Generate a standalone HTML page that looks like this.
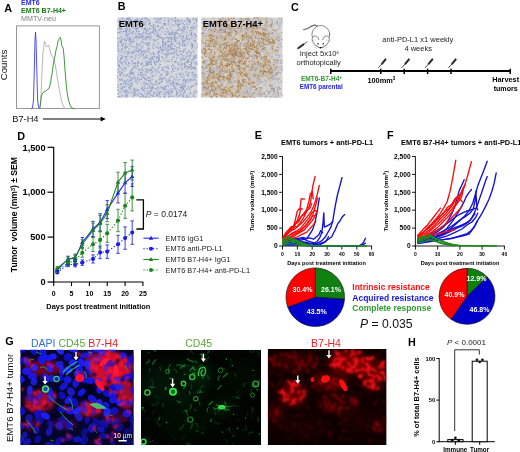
<!DOCTYPE html>
<html><head><meta charset="utf-8"><title>Figure</title>
<style>
html,body{margin:0;padding:0;background:#fff;}
svg{display:block;}
text{font-family:"Liberation Sans",Arial,sans-serif;}
.scr{mix-blend-mode:screen;}
</style></head><body>
<svg width="520" height="452" viewBox="0 0 520 452">
<defs>
<filter id="b03" x="-5%" y="-5%" width="110%" height="110%"><feGaussianBlur stdDeviation="0.3"/></filter>
<filter id="b05" x="-5%" y="-5%" width="110%" height="110%"><feGaussianBlur stdDeviation="0.5"/></filter>
<filter id="b08" x="-5%" y="-5%" width="110%" height="110%"><feGaussianBlur stdDeviation="0.8"/></filter>
<filter id="b20" x="-10%" y="-10%" width="120%" height="120%"><feGaussianBlur stdDeviation="2.2"/></filter>
<filter id="b40" x="-20%" y="-20%" width="140%" height="140%"><feGaussianBlur stdDeviation="3.6"/></filter>
<filter id="b60" x="-20%" y="-20%" width="140%" height="140%"><feGaussianBlur stdDeviation="6"/></filter>
<clipPath id="cB1"><rect x="117.2" y="17.3" width="80.5" height="80.4"/></clipPath>
<clipPath id="cB2"><rect x="201.3" y="17.3" width="81.4" height="80.4"/></clipPath>
<clipPath id="cG1"><rect x="20.3" y="349.8" width="113.5" height="95.2"/></clipPath>
<clipPath id="cG2"><rect x="141" y="350" width="120" height="95"/></clipPath>
<clipPath id="cG3"><rect x="267.7" y="349" width="118.9" height="96"/></clipPath>
<g id="syr"><path d="M0 0 L3.6 -3.8" stroke="#000" stroke-width="0.75" fill="none"/><path d="M3 -4.4 L4.1 -3.3 L8.2 -8.2 L7.1 -9.2 Z" fill="#222" stroke="#000" stroke-width="0.45" stroke-linejoin="round"/></g>
<g id="arw"><path d="M0 0 L-2.6 -3.6 L-0.7 -3.6 L-0.7 -8.3 L0.7 -8.3 L0.7 -3.6 L2.6 -3.6 Z" fill="#fff"/></g>
</defs>
<rect width="520" height="452" fill="#fff"/>

<g id="panelA">
<text x="4.3" y="12" style="font-size:10.8px;font-weight:bold;" fill="#000">A</text>
<text x="21" y="5" style="font-size:7px;font-weight:bold;" fill="#2a2af0">EMT6</text>
<text x="21" y="13.3" style="font-size:7px;font-weight:bold;" fill="#1a7a1a">EMT6 B7-H4+</text>
<text x="21" y="21.4" style="font-size:7.15px;" fill="#7c7c7c">MMTV-neu</text>
<rect x="16.5" y="25.9" width="82.9" height="82.5" fill="#fff" stroke="#8c8c8c" stroke-width="0.9"/>
<path d="M31 109 L32.5 108 L33.5 100 L34.3 70 L35 40 L35.5 32 L36 40 L36.8 70 L37.6 100 L38.6 107.5 L40 109" fill="none" stroke="#3a3af0" stroke-width="0.9"/>
<path d="M40 109 L40.8 100 L41.8 75 L43 52 L44.5 41 L45.5 44 L46.5 47 L47.5 46.5 L48.6 45 L49.6 49 L51 54 L52.5 57 L54 60 L55.5 66 L57 76 L59 88 L61 98 L62.5 104 L64.5 108 L67 109" fill="none" stroke="#b0b0b0" stroke-width="0.9"/>
<path d="M39.5 109 L40.5 104 L41.3 96 L43 92.5 L45 91.5 L47 90 L49 88.5 L50.5 83 L52 74 L53.5 63 L55 56 L56 50 L57 46.5 L58 41 L59.3 38.5 L60.2 37.3 L61 40 L61.6 45 L62.5 46.5 L63.3 49 L64.2 58 L65 70 L66 82 L67 92 L68.5 100 L70 105 L72 108 L74.5 109" fill="none" stroke="#2e8b2e" stroke-width="0.9"/>
<text x="7.3" y="65" style="font-size:9.7px;" fill="#111" text-anchor="middle" transform="rotate(-90 7.3 65)">Counts</text>
<text x="12.2" y="122.3" style="font-size:9.3px;" fill="#111">B7-H4</text>
<path d="M43 119 H102" stroke="#000" stroke-width="1.2"/><path d="M105.8 119 L100.6 116.5 L100.6 121.5 Z" fill="#000"/>
</g>
<g id="panelB">
<text x="117.8" y="9.6" style="font-size:10.8px;font-weight:bold;" fill="#000">B</text>
<g clip-path="url(#cB1)"><rect x="117.2" y="17.3" width="80.5" height="80.4" fill="#d7d9dd"/><g filter="url(#b05)">
<path d="M143.3 29.4h.01M169.6 23.1h.01M160.3 46.7h.01M121.9 58.1h.01M120.2 52.2h.01M122.8 24.6h.01M151.4 83.8h.01M127.2 35.2h.01M167.7 93.5h.01M163.7 49.2h.01M195.8 21.0h.01M186.3 40.6h.01M128.8 26.8h.01M142.0 82.9h.01M131.7 64.1h.01M168.6 47.2h.01M161.3 22.3h.01M122.0 33.9h.01M172.0 51.7h.01M142.5 64.4h.01M153.7 41.4h.01M181.1 73.5h.01M136.8 63.5h.01M159.5 87.7h.01M175.9 40.5h.01M196.1 26.8h.01M150.9 78.2h.01M129.4 56.6h.01M120.4 71.0h.01M178.7 63.4h.01M187.7 42.5h.01M173.2 65.1h.01M163.9 54.0h.01M184.8 93.3h.01M155.4 70.7h.01M122.1 73.7h.01M169.3 97.1h.01M183.4 40.2h.01M148.3 71.1h.01M119.0 54.4h.01M130.7 26.7h.01M121.9 79.1h.01M127.6 37.2h.01M148.7 87.4h.01M123.7 53.4h.01M161.4 88.3h.01M183.2 86.8h.01M139.6 50.7h.01M146.1 88.4h.01M194.3 29.4h.01M131.4 35.9h.01M136.0 56.3h.01M164.6 38.4h.01M117.5 51.0h.01M146.9 62.8h.01M193.9 72.8h.01M158.7 67.0h.01M171.6 21.6h.01M189.6 80.0h.01M187.6 81.4h.01M148.8 49.4h.01M125.5 68.3h.01M122.2 22.7h.01M134.0 30.3h.01M144.6 21.5h.01M117.2 29.5h.01M125.4 46.5h.01M119.3 87.6h.01M166.6 29.2h.01M137.5 45.2h.01M146.5 27.2h.01M185.5 97.1h.01M154.7 56.2h.01M124.1 25.5h.01M144.8 38.6h.01M183.9 30.3h.01M119.1 93.8h.01M159.7 29.1h.01M160.9 19.5h.01M159.7 96.0h.01M186.7 73.3h.01M138.2 46.8h.01M130.6 79.4h.01M160.1 79.9h.01M143.7 35.2h.01M182.5 96.5h.01M185.8 82.1h.01M183.1 76.8h.01M135.5 58.9h.01M145.8 19.6h.01M119.4 39.8h.01M138.1 73.0h.01M194.2 53.3h.01M192.6 96.7h.01M194.1 46.6h.01M134.9 35.5h.01M133.0 33.7h.01M167.4 89.7h.01M184.9 55.8h.01M169.8 81.6h.01M124.0 70.4h.01M190.4 80.2h.01M177.6 55.7h.01M131.6 80.7h.01M144.0 81.7h.01M195.4 49.1h.01M149.5 93.4h.01M175.5 31.0h.01M127.4 29.5h.01M190.0 82.1h.01M129.0 83.8h.01M196.1 70.1h.01M145.4 61.4h.01M127.7 18.4h.01M195.4 69.5h.01M159.6 92.4h.01M152.1 87.4h.01M183.7 34.3h.01M137.5 40.9h.01M136.6 64.4h.01M138.1 51.0h.01M127.8 90.5h.01M145.7 54.1h.01M164.2 90.0h.01M151.1 91.1h.01M157.6 60.1h.01M159.3 18.8h.01M152.6 32.0h.01M117.5 81.6h.01M131.1 55.4h.01M175.6 62.0h.01M143.4 59.0h.01M161.9 80.4h.01M125.7 62.3h.01M137.2 39.6h.01M179.4 58.1h.01M162.4 78.4h.01M190.7 52.9h.01M166.5 57.9h.01M158.4 73.0h.01M153.6 60.2h.01M155.7 93.0h.01M173.5 87.8h.01M193.0 38.2h.01M162.2 93.1h.01M184.8 28.3h.01M127.0 52.8h.01M123.0 36.6h.01M123.1 71.1h.01M180.3 89.4h.01M129.6 74.9h.01M170.4 28.8h.01M188.3 95.1h.01M134.9 93.9h.01M149.3 56.5h.01M196.9 84.2h.01M130.2 52.0h.01M158.7 44.6h.01M133.0 42.9h.01M175.3 18.9h.01M161.8 52.7h.01M118.7 44.0h.01M167.4 58.5h.01M122.4 96.5h.01M180.7 95.4h.01M125.6 38.7h.01M120.4 79.9h.01M139.0 27.7h.01M151.2 90.6h.01M183.1 38.1h.01M129.2 91.2h.01M163.1 73.6h.01M124.4 21.9h.01M172.6 51.5h.01M123.0 92.7h.01M168.3 81.8h.01M123.9 86.1h.01M122.6 86.7h.01M153.7 44.6h.01M161.7 91.8h.01M138.8 27.7h.01M159.6 36.5h.01M126.0 30.3h.01M121.3 33.5h.01M142.3 41.8h.01M178.3 40.6h.01M157.5 31.6h.01M145.1 18.8h.01M137.4 18.5h.01M176.2 61.6h.01M132.5 55.5h.01M192.4 25.8h.01M183.1 52.0h.01M157.0 84.4h.01M148.8 58.0h.01M172.6 96.3h.01M144.8 84.2h.01M174.1 68.4h.01M149.8 45.2h.01M121.6 27.7h.01M122.9 76.9h.01M137.8 30.4h.01M124.0 84.9h.01M187.3 71.2h.01M139.9 36.8h.01M140.8 54.2h.01M129.9 53.1h.01M138.4 94.6h.01M195.5 61.3h.01M136.9 94.9h.01M142.1 46.0h.01M117.3 48.0h.01M155.4 57.7h.01M133.4 57.9h.01M117.6 38.5h.01M124.4 49.4h.01M120.6 19.1h.01M141.7 36.0h.01M164.3 59.8h.01M177.6 70.2h.01M174.8 88.0h.01M148.6 43.5h.01M196.5 29.3h.01M175.5 69.0h.01M120.7 84.5h.01M189.0 67.7h.01M176.3 82.6h.01M128.4 59.4h.01M157.8 84.4h.01M182.0 83.7h.01M164.2 89.1h.01M172.2 73.0h.01M135.7 19.8h.01M127.9 46.3h.01M125.6 84.5h.01M162.2 67.8h.01M167.6 72.0h.01M156.6 17.6h.01M181.4 77.5h.01M157.7 60.3h.01M170.3 22.6h.01M176.5 37.6h.01M123.2 38.7h.01M175.9 33.8h.01M176.8 95.7h.01M157.0 48.1h.01M155.8 72.3h.01M178.9 66.9h.01M168.9 23.5h.01M129.1 37.7h.01M177.0 41.8h.01M162.9 18.3h.01M122.1 38.9h.01M171.3 73.0h.01M171.6 40.7h.01M158.8 54.7h.01M154.7 26.8h.01M189.1 33.3h.01M195.9 92.6h.01M118.6 54.2h.01M183.2 95.1h.01M153.4 38.9h.01M134.1 93.3h.01M134.2 64.1h.01M128.6 59.4h.01M193.9 28.0h.01M183.2 58.2h.01M188.6 73.8h.01M135.8 89.5h.01M156.3 19.3h.01M117.5 56.8h.01M153.5 41.6h.01M128.5 45.0h.01M142.6 84.9h.01M117.3 77.7h.01M184.7 27.0h.01M191.8 74.6h.01M189.8 40.6h.01M147.2 48.9h.01M197.6 64.7h.01M146.2 51.7h.01M139.3 21.2h.01M125.4 84.4h.01M140.2 92.5h.01M137.3 38.7h.01M158.3 32.6h.01M147.3 94.2h.01M188.4 82.6h.01M168.0 90.7h.01M192.9 61.5h.01M175.1 21.3h.01M176.2 53.5h.01M177.8 69.1h.01M140.2 21.2h.01M191.8 27.5h.01M155.2 44.9h.01M141.2 76.7h.01M195.8 38.2h.01M170.0 41.5h.01M162.1 49.0h.01" stroke="#c5cbdd" stroke-width="2.8" stroke-linecap="round" fill="none" opacity="0.7"/>
<path d="M130.7 30.3h.01M133.9 90.1h.01M157.2 35.0h.01M190.2 97.4h.01M153.4 28.5h.01M132.7 24.6h.01M144.7 24.6h.01M136.4 38.1h.01M163.1 88.6h.01M177.5 50.5h.01M150.5 59.4h.01M147.5 44.5h.01M122.2 39.6h.01M195.1 27.4h.01M157.7 67.9h.01M186.7 34.7h.01M139.0 37.3h.01M149.4 53.1h.01M194.0 85.5h.01M187.5 19.1h.01M119.8 74.3h.01M189.3 55.4h.01M164.5 17.3h.01M148.7 91.8h.01M183.7 86.1h.01M195.5 37.3h.01M126.0 29.7h.01M159.3 72.1h.01M193.0 75.3h.01M169.3 78.8h.01M154.0 61.6h.01M120.4 80.2h.01M135.9 91.3h.01M169.2 41.7h.01M127.5 37.5h.01M168.4 73.5h.01M126.2 23.0h.01M159.4 64.2h.01M148.4 35.3h.01M165.6 18.1h.01M141.5 54.3h.01M194.4 69.1h.01M188.3 55.5h.01M136.1 37.2h.01M194.5 74.0h.01M141.9 19.1h.01M157.3 71.5h.01M151.0 38.0h.01M170.9 91.7h.01M135.5 20.0h.01M144.4 51.1h.01M172.1 33.2h.01M181.4 76.7h.01M157.8 33.8h.01M195.3 42.4h.01M183.2 35.9h.01M135.0 78.4h.01M140.9 93.8h.01M157.1 32.4h.01M135.2 50.8h.01M170.8 93.6h.01M129.0 48.9h.01M134.3 95.6h.01M128.6 21.5h.01M122.0 48.9h.01M189.5 88.3h.01M176.2 97.5h.01M192.2 43.8h.01M132.1 92.5h.01M177.3 19.9h.01M170.7 47.7h.01M147.3 44.0h.01M130.8 17.5h.01M139.7 45.6h.01M194.1 27.2h.01M194.8 34.0h.01M145.9 83.4h.01M183.4 52.1h.01M121.2 55.4h.01M147.2 91.2h.01M132.7 46.6h.01M189.4 19.7h.01M150.3 82.6h.01M178.9 20.6h.01M120.0 22.3h.01M191.3 38.0h.01M177.4 89.5h.01M144.5 39.2h.01M194.3 66.9h.01M138.3 74.9h.01M142.7 39.5h.01M117.5 78.1h.01M191.0 68.3h.01M193.1 19.3h.01M136.0 55.5h.01M194.2 94.0h.01M148.3 37.5h.01M151.8 57.0h.01M191.9 32.0h.01M181.8 76.7h.01M183.4 79.4h.01M166.1 43.7h.01M142.9 46.4h.01M180.2 23.7h.01M133.1 77.8h.01M137.1 22.5h.01M119.9 61.7h.01M143.4 96.1h.01M188.3 96.7h.01M138.5 24.1h.01M125.0 57.4h.01M174.3 53.2h.01M136.1 50.8h.01M167.1 71.5h.01M177.4 85.4h.01M170.7 27.0h.01M184.9 40.9h.01M162.8 47.3h.01M176.6 33.3h.01M137.1 37.0h.01M129.5 88.4h.01M163.8 43.5h.01M149.1 97.1h.01M158.0 35.9h.01M182.3 69.8h.01M197.0 25.5h.01M155.4 83.2h.01M184.9 90.8h.01M120.4 40.9h.01M126.8 32.5h.01M195.5 64.2h.01M192.1 47.2h.01M186.9 53.4h.01M138.1 79.8h.01M193.3 25.8h.01M165.2 67.1h.01M134.7 46.9h.01M128.6 33.7h.01M137.7 65.5h.01M169.7 33.7h.01M118.1 43.6h.01M171.8 32.2h.01M142.3 33.7h.01M181.2 61.4h.01M122.3 25.5h.01M149.0 61.5h.01M168.7 24.6h.01M130.4 73.2h.01M150.2 40.1h.01M142.0 93.9h.01M142.3 62.8h.01M146.0 50.8h.01M186.8 97.4h.01M146.5 33.2h.01M175.8 33.7h.01M117.7 89.8h.01M151.3 83.3h.01M149.9 88.3h.01M154.3 30.4h.01M118.4 61.6h.01M168.8 90.4h.01M124.4 67.3h.01M147.1 57.9h.01M128.9 40.1h.01M159.2 91.7h.01M126.0 56.7h.01M182.0 95.0h.01M133.1 27.5h.01M193.1 95.7h.01M156.1 21.6h.01M191.8 48.5h.01M190.0 67.2h.01M183.6 30.2h.01M180.5 35.2h.01M149.8 85.3h.01M183.9 32.0h.01M134.8 49.4h.01M158.9 48.1h.01M127.1 37.2h.01M175.6 89.4h.01M120.5 62.5h.01M178.2 20.4h.01M184.7 26.8h.01M165.5 61.5h.01M167.7 41.9h.01M151.0 64.1h.01M151.5 70.3h.01M153.2 52.5h.01M119.1 67.1h.01M156.6 36.2h.01M178.7 80.0h.01M154.1 31.7h.01M155.3 25.9h.01M127.5 51.9h.01M124.6 52.8h.01M158.3 20.6h.01M168.4 23.9h.01M176.2 79.8h.01M158.4 21.7h.01M157.8 47.7h.01M193.7 28.2h.01M186.2 97.4h.01M176.1 82.8h.01M132.8 96.2h.01M156.8 94.2h.01M190.9 30.6h.01M180.7 92.1h.01M122.5 45.5h.01M178.1 30.1h.01M189.4 39.4h.01M182.9 28.8h.01M157.6 91.3h.01M134.0 38.4h.01M157.9 43.0h.01M120.2 31.9h.01M130.2 92.6h.01M171.9 89.3h.01M130.8 80.4h.01M126.5 60.0h.01M168.4 46.2h.01M187.5 61.9h.01M163.9 88.3h.01M125.6 97.1h.01M167.9 49.0h.01M181.4 38.6h.01M196.9 63.7h.01M146.2 78.8h.01M152.8 31.5h.01M177.1 21.2h.01M183.2 37.7h.01M168.7 96.4h.01M164.4 70.7h.01M142.4 17.4h.01M119.9 29.3h.01M166.8 52.1h.01M158.5 89.3h.01M127.8 35.6h.01M169.8 19.1h.01M117.4 45.8h.01M125.8 46.0h.01M135.3 64.2h.01M164.6 33.7h.01M167.4 55.5h.01M128.0 92.6h.01M136.8 29.3h.01M124.9 68.6h.01M187.3 80.2h.01M149.6 38.5h.01M118.1 69.2h.01M162.5 45.5h.01M169.2 53.0h.01M192.6 76.3h.01M137.2 89.9h.01M120.7 60.0h.01M149.9 36.4h.01M121.9 79.9h.01M118.2 61.6h.01M192.9 28.7h.01M133.3 66.2h.01M158.0 68.9h.01M182.7 31.3h.01M142.1 41.4h.01M121.1 88.8h.01M180.2 74.8h.01M117.7 85.2h.01M177.2 54.7h.01M176.9 53.7h.01M135.4 25.8h.01M135.9 20.4h.01M144.2 77.6h.01M173.2 85.3h.01M174.5 38.7h.01M161.8 52.4h.01M180.7 59.4h.01M138.6 68.9h.01M194.9 34.7h.01M188.0 18.5h.01M138.2 36.3h.01M177.1 93.3h.01M177.3 43.6h.01M188.1 43.7h.01M136.5 90.3h.01M168.0 73.0h.01M170.8 96.0h.01M155.0 84.8h.01M173.4 86.2h.01M152.4 75.6h.01M163.1 42.0h.01M134.3 67.4h.01M123.5 90.5h.01M128.8 19.5h.01M125.8 92.0h.01M145.0 28.7h.01M119.5 20.6h.01M173.0 68.3h.01M173.3 76.5h.01M122.5 64.8h.01M146.5 83.0h.01M183.2 89.0h.01M122.5 87.1h.01M190.8 93.2h.01M125.8 33.8h.01M126.2 20.1h.01M185.4 82.6h.01M168.3 83.6h.01M168.0 40.4h.01M125.2 25.2h.01M178.2 33.8h.01M142.9 51.4h.01M118.9 37.9h.01M139.9 74.8h.01M146.8 43.1h.01M194.8 57.8h.01M185.7 67.0h.01M119.7 50.5h.01M152.3 79.5h.01M145.1 74.0h.01M160.5 34.7h.01M186.6 24.6h.01M183.2 31.0h.01M117.3 33.5h.01M178.6 95.9h.01M117.6 56.8h.01M156.8 81.4h.01M132.1 57.1h.01M145.1 84.2h.01M138.2 93.2h.01M140.0 34.6h.01M173.5 57.4h.01M126.0 68.5h.01M123.7 80.6h.01M173.3 80.6h.01M167.7 45.9h.01M149.5 49.0h.01M188.9 24.2h.01M188.7 19.3h.01M133.8 38.5h.01M189.7 57.6h.01M147.7 88.4h.01M136.0 54.4h.01M160.0 78.0h.01M177.8 69.3h.01M145.3 43.6h.01M129.7 85.1h.01M170.5 77.0h.01M130.8 52.6h.01M179.5 63.9h.01M127.3 54.4h.01M188.5 36.4h.01M132.6 41.5h.01M173.8 85.1h.01M129.6 29.8h.01M137.1 43.6h.01M159.2 30.2h.01M143.6 32.5h.01M195.7 75.9h.01M125.4 94.7h.01M125.4 48.2h.01M196.4 81.2h.01M176.2 52.3h.01M133.0 68.6h.01M125.8 33.9h.01M148.5 20.0h.01M149.3 80.9h.01M173.0 57.5h.01M168.1 54.5h.01M128.6 65.8h.01M149.8 76.9h.01M190.3 51.9h.01M163.4 77.5h.01M151.1 35.7h.01M175.3 88.1h.01M179.5 73.6h.01M185.8 71.9h.01M168.8 53.8h.01M142.4 67.8h.01M125.1 51.0h.01M180.2 74.6h.01M167.9 37.4h.01M151.3 53.9h.01M167.2 50.2h.01M171.6 92.1h.01M131.9 69.9h.01M179.8 48.6h.01M156.6 95.7h.01M120.3 61.0h.01M130.1 80.2h.01M192.9 59.0h.01M125.3 63.5h.01M160.8 75.0h.01M158.4 68.7h.01M183.9 59.2h.01M150.2 93.5h.01M134.1 72.3h.01M148.8 78.6h.01M127.1 96.5h.01M145.8 21.9h.01M139.3 49.4h.01M118.3 51.0h.01M151.1 73.4h.01M145.5 38.6h.01M135.3 76.9h.01M192.9 59.7h.01M134.8 81.7h.01M148.8 34.3h.01M127.6 79.7h.01M182.4 68.3h.01M155.0 62.5h.01M135.4 94.8h.01M145.6 68.7h.01M183.1 82.9h.01M154.9 41.0h.01M161.3 27.4h.01M184.3 45.8h.01M185.7 38.8h.01M147.5 37.7h.01M151.5 32.2h.01M117.4 75.3h.01M139.8 37.0h.01M141.5 55.9h.01M151.7 68.5h.01M170.3 46.4h.01M192.0 86.0h.01M121.8 83.9h.01M190.1 80.3h.01M128.5 84.1h.01M168.2 18.5h.01M118.1 93.8h.01M170.0 37.4h.01M125.4 28.8h.01M136.0 79.7h.01M145.1 29.6h.01M190.0 81.0h.01M130.7 88.9h.01M166.2 80.1h.01M171.0 89.2h.01M180.6 84.7h.01M133.1 73.0h.01M159.9 76.9h.01M152.5 88.3h.01M161.9 38.6h.01M136.1 28.5h.01M156.9 22.0h.01M154.8 28.9h.01M156.8 57.4h.01M160.6 86.7h.01M117.7 84.9h.01M154.9 62.5h.01M170.8 84.9h.01M147.4 51.0h.01" stroke="#adb7d4" stroke-width="2.0" stroke-linecap="round" fill="none" opacity="0.9"/>
<path d="M194.5 23.4h.01M168.5 68.4h.01M119.5 66.3h.01M172.1 92.2h.01M143.8 96.2h.01M158.3 56.3h.01M189.5 20.0h.01M175.0 67.6h.01M144.5 86.6h.01M146.7 55.5h.01M159.5 79.3h.01M134.2 52.3h.01M151.2 61.8h.01M183.8 40.8h.01M183.8 49.8h.01M157.8 39.1h.01M158.0 95.7h.01M169.9 81.0h.01M143.8 42.8h.01M141.3 64.5h.01M168.3 80.4h.01M120.4 75.4h.01M188.5 61.2h.01M121.2 41.5h.01M117.7 32.6h.01M191.4 66.2h.01M170.2 80.7h.01M190.4 66.5h.01M166.8 67.7h.01M173.3 65.2h.01M172.0 34.4h.01M170.9 54.1h.01M178.6 25.4h.01M131.8 20.3h.01M179.6 90.8h.01M170.0 47.0h.01M183.4 80.5h.01M162.4 38.0h.01M141.5 51.2h.01M142.8 51.9h.01M168.9 92.4h.01M121.6 62.9h.01M120.4 26.9h.01M182.4 63.6h.01M191.1 53.2h.01M118.3 48.4h.01M164.9 92.7h.01M196.2 55.5h.01M150.4 25.5h.01M169.1 34.4h.01M129.4 18.5h.01M117.6 72.3h.01M127.0 95.0h.01M124.3 87.2h.01M127.6 18.7h.01M175.1 36.8h.01M176.3 32.4h.01M121.2 79.5h.01M174.6 86.1h.01M175.9 24.1h.01M167.8 74.3h.01M154.3 92.3h.01M137.7 94.8h.01M174.9 18.2h.01M118.4 69.6h.01M183.0 23.7h.01M142.2 75.9h.01M130.6 86.5h.01M156.3 22.1h.01M146.8 63.5h.01M152.5 71.7h.01M128.9 81.4h.01M146.4 69.1h.01M167.9 50.9h.01M148.3 80.5h.01M193.3 80.4h.01M162.8 40.8h.01M122.1 95.6h.01M173.8 83.8h.01M143.9 66.0h.01M195.9 84.1h.01M165.6 42.1h.01M151.7 88.7h.01M147.5 72.4h.01M165.6 89.3h.01M182.2 40.1h.01M117.3 38.4h.01M151.2 64.5h.01M182.9 88.6h.01M120.6 84.3h.01M182.5 87.0h.01M163.2 39.3h.01M185.7 82.2h.01M172.3 90.8h.01M145.1 24.1h.01M161.8 81.4h.01M133.3 77.6h.01M192.2 36.1h.01M166.1 71.8h.01M154.7 33.9h.01M137.7 77.7h.01M180.9 54.3h.01M124.3 82.1h.01M179.4 36.0h.01M163.9 89.4h.01M188.5 59.3h.01M155.6 64.7h.01M132.4 32.8h.01M131.7 73.7h.01M146.4 62.7h.01M149.6 58.9h.01M129.2 20.9h.01M197.5 47.4h.01M125.7 68.2h.01M180.6 29.9h.01M165.3 45.0h.01M159.0 19.0h.01M119.9 96.9h.01M186.9 56.4h.01M162.9 38.3h.01M179.9 51.5h.01M193.4 79.0h.01M183.1 94.8h.01M137.6 20.3h.01M133.4 31.8h.01M123.9 21.4h.01M162.1 87.3h.01M154.1 93.5h.01M190.4 22.5h.01M165.3 49.3h.01M126.9 94.4h.01M137.9 62.7h.01M168.8 94.2h.01M171.1 48.9h.01M153.3 30.1h.01M194.9 97.0h.01M135.0 20.4h.01M137.8 45.6h.01M189.9 90.0h.01M184.6 21.1h.01M180.5 74.4h.01M169.3 96.5h.01M121.7 28.9h.01M178.0 92.8h.01M171.7 41.3h.01M164.8 78.2h.01M125.7 43.3h.01M137.9 27.3h.01M155.9 30.9h.01M136.4 28.8h.01M171.8 18.3h.01M174.9 33.0h.01M120.1 91.9h.01M135.0 92.4h.01M187.0 88.8h.01M128.5 53.3h.01M125.0 92.0h.01M185.0 67.8h.01M153.6 44.6h.01M183.5 55.7h.01M167.8 28.8h.01M135.0 21.9h.01M174.7 61.8h.01M128.8 87.3h.01M138.6 50.4h.01M129.7 39.1h.01M184.8 44.2h.01M130.7 56.8h.01M142.8 89.9h.01M126.4 96.0h.01M121.8 89.3h.01M171.0 34.3h.01M155.6 40.3h.01M138.0 33.5h.01M146.5 97.0h.01M197.5 91.7h.01M125.1 40.6h.01M189.3 21.9h.01M175.7 40.9h.01M196.0 18.6h.01M182.2 44.7h.01M128.5 17.5h.01M184.2 59.6h.01M132.2 52.3h.01M190.6 34.8h.01M163.2 28.4h.01M131.7 79.2h.01M174.5 33.1h.01M123.6 24.3h.01M166.2 57.1h.01M139.2 33.9h.01M166.5 74.2h.01M182.5 64.2h.01M133.5 22.6h.01M176.2 50.1h.01M175.3 21.8h.01M182.5 44.3h.01M185.0 86.8h.01M156.9 18.5h.01M190.5 55.6h.01M187.4 38.7h.01M132.2 84.2h.01M146.8 30.4h.01M147.1 65.1h.01M117.6 59.1h.01M153.1 58.8h.01M126.9 74.8h.01M182.9 86.9h.01M143.0 74.5h.01M147.9 77.7h.01M122.1 87.5h.01M194.0 57.1h.01M158.5 60.0h.01M160.5 19.0h.01M195.1 35.3h.01M131.9 25.6h.01M137.4 83.0h.01M119.6 25.1h.01M173.5 33.0h.01M118.6 65.5h.01M163.6 59.3h.01M173.8 25.6h.01M187.2 75.0h.01M120.8 27.2h.01M156.9 57.6h.01M139.7 27.1h.01M149.9 28.3h.01M164.8 86.5h.01M129.1 63.4h.01M177.3 30.5h.01M183.7 92.7h.01M148.5 51.1h.01M184.8 59.6h.01M149.0 93.0h.01M179.7 44.5h.01M136.6 44.2h.01M152.3 96.2h.01M182.0 90.7h.01M182.8 85.4h.01M121.5 58.9h.01M194.3 92.4h.01M137.3 51.2h.01M168.1 46.6h.01M159.9 22.9h.01M152.1 57.9h.01M118.9 28.5h.01M195.3 79.7h.01M192.6 68.2h.01M182.3 88.4h.01M188.4 20.1h.01M168.8 38.7h.01M171.8 39.3h.01M160.9 91.6h.01M167.2 37.4h.01M159.1 52.2h.01M193.7 40.4h.01M141.8 69.4h.01M126.9 65.1h.01M194.2 58.6h.01M138.8 54.8h.01M160.2 29.2h.01M127.2 27.9h.01M140.8 50.0h.01M140.4 36.9h.01M124.3 61.2h.01M184.8 66.3h.01M163.1 69.6h.01M133.4 74.4h.01M154.3 61.4h.01M166.5 55.0h.01M142.2 36.8h.01M135.0 58.5h.01M148.0 64.4h.01M118.2 45.7h.01M186.6 36.5h.01M162.0 56.8h.01M140.1 96.7h.01M141.0 79.4h.01M130.0 22.7h.01M187.3 52.7h.01M122.2 48.5h.01M152.6 76.4h.01M126.0 35.4h.01M194.4 76.7h.01M129.6 44.4h.01M145.6 71.6h.01M166.8 85.6h.01M183.3 58.9h.01M176.7 77.1h.01M178.4 55.5h.01M180.4 74.3h.01M190.8 27.5h.01M187.3 17.6h.01M178.8 64.4h.01M157.3 94.7h.01M163.2 50.9h.01M180.3 87.5h.01M166.1 47.8h.01M153.6 54.1h.01M175.4 40.9h.01M148.7 62.0h.01M148.2 43.2h.01M180.6 85.6h.01M157.4 53.0h.01M132.0 41.7h.01M128.9 63.6h.01M164.0 24.4h.01M191.3 43.3h.01M185.1 84.7h.01M194.4 33.7h.01M151.5 90.5h.01M118.1 21.1h.01M162.7 57.3h.01M191.3 79.5h.01M160.5 97.6h.01M158.9 58.9h.01M172.4 48.6h.01M146.0 65.1h.01M145.5 93.5h.01M171.7 59.5h.01M125.2 47.4h.01M149.5 62.4h.01M163.4 88.0h.01M194.8 56.4h.01M152.6 67.5h.01M197.4 44.9h.01M159.9 82.9h.01M130.9 42.9h.01M196.0 83.7h.01M158.5 26.2h.01M189.2 72.8h.01M183.3 96.9h.01M188.7 51.1h.01M129.8 40.6h.01M158.4 57.9h.01M132.3 32.0h.01M167.9 65.8h.01M145.6 97.2h.01M168.4 20.7h.01M150.3 80.6h.01M141.9 72.8h.01M117.5 41.8h.01M185.0 64.4h.01M171.0 33.1h.01M157.3 61.8h.01M138.6 69.3h.01M160.0 97.5h.01M163.4 50.4h.01M127.0 29.9h.01M178.3 25.9h.01M125.3 31.0h.01M159.3 83.5h.01M166.5 82.2h.01M122.2 18.3h.01M179.2 43.3h.01M174.8 45.7h.01M130.8 38.7h.01M125.2 90.0h.01M164.1 45.4h.01M153.4 48.3h.01M121.6 88.9h.01M164.1 94.5h.01M152.6 67.2h.01M137.3 20.8h.01M192.1 86.0h.01M142.5 89.6h.01M182.9 41.7h.01M165.7 94.5h.01M157.1 93.7h.01M136.8 48.6h.01M175.0 35.1h.01M142.1 87.7h.01M156.2 81.0h.01M136.8 31.2h.01M146.1 32.3h.01M195.4 40.7h.01M162.4 26.5h.01M160.2 48.3h.01M149.7 22.6h.01M127.1 83.7h.01M145.5 37.0h.01M132.6 40.1h.01M136.3 20.1h.01M170.7 44.8h.01M129.7 74.1h.01M124.7 39.0h.01M184.4 27.6h.01M152.9 84.5h.01M182.0 30.1h.01M145.6 75.4h.01M147.5 94.4h.01M133.9 93.8h.01M157.8 35.6h.01M153.6 27.8h.01M174.1 38.3h.01M189.6 64.5h.01M146.8 37.1h.01M166.2 34.4h.01M187.4 27.2h.01M158.5 60.9h.01M139.0 79.3h.01M148.2 70.2h.01M162.9 42.3h.01M148.6 24.2h.01M131.5 85.7h.01M143.0 70.6h.01M126.0 62.5h.01M146.3 57.5h.01M141.1 22.6h.01M142.3 35.5h.01M127.4 74.9h.01M139.9 49.7h.01M190.4 79.6h.01M188.3 86.5h.01M127.8 39.5h.01M119.6 71.9h.01M170.6 45.6h.01M150.4 70.3h.01M173.5 37.3h.01M185.4 45.6h.01M167.8 31.9h.01M126.5 90.7h.01M176.3 74.6h.01M120.5 20.5h.01M130.2 33.2h.01M141.6 47.9h.01M120.4 42.3h.01M168.6 31.7h.01M184.8 63.1h.01M174.9 37.8h.01M152.2 72.3h.01M145.3 17.4h.01M184.4 79.7h.01M140.2 20.8h.01M186.0 66.1h.01M121.0 37.0h.01M126.2 80.9h.01M134.1 90.8h.01M177.5 24.2h.01M173.1 48.9h.01M177.4 83.9h.01M139.8 24.5h.01M193.4 51.4h.01M192.1 72.9h.01M176.7 84.0h.01M167.8 53.7h.01M121.6 73.4h.01M151.7 58.5h.01M191.9 27.6h.01M178.5 20.8h.01" stroke="#9ba7cb" stroke-width="1.7" stroke-linecap="round" fill="none" opacity="0.95"/>
<path d="M173.8 82.1h.01M138.2 61.2h.01M195.2 68.6h.01M161.0 37.4h.01M122.0 46.1h.01M150.3 33.5h.01M142.2 28.3h.01M174.1 71.2h.01M136.3 36.7h.01M158.7 53.1h.01M192.5 45.6h.01M141.3 88.4h.01M128.6 62.6h.01M144.1 82.9h.01M161.3 78.4h.01M130.8 70.9h.01M165.4 54.4h.01M178.9 84.1h.01M126.4 40.6h.01M146.2 33.9h.01M122.1 39.9h.01M133.1 73.7h.01M153.3 26.4h.01M143.3 55.0h.01M146.4 30.8h.01M123.0 18.2h.01M197.1 77.6h.01M124.0 75.0h.01M196.1 62.6h.01M126.0 56.6h.01M152.2 32.6h.01M160.9 18.0h.01M191.2 69.1h.01M167.7 92.5h.01M169.7 37.5h.01M137.0 28.4h.01M119.4 79.6h.01M184.8 41.1h.01M132.2 68.6h.01M185.3 91.8h.01M130.8 80.4h.01M184.0 77.0h.01M143.5 32.1h.01M183.6 43.0h.01M146.9 61.6h.01M146.9 84.1h.01M136.5 20.6h.01M162.8 67.8h.01M183.2 74.0h.01M190.1 93.3h.01M157.0 57.5h.01M129.9 41.4h.01M164.0 23.8h.01M172.6 30.5h.01M152.9 95.3h.01M124.4 20.5h.01M152.6 32.6h.01M175.4 17.5h.01M184.9 86.1h.01M180.5 51.5h.01M140.0 70.5h.01M158.6 51.2h.01M144.5 52.6h.01M170.8 83.7h.01M190.0 30.5h.01M141.0 52.9h.01M162.6 45.3h.01M132.9 24.1h.01M143.3 54.3h.01M195.4 90.4h.01M186.9 95.6h.01M194.6 67.1h.01M182.5 22.1h.01M171.7 66.3h.01M141.1 63.2h.01M193.9 56.0h.01M169.3 41.4h.01M144.8 88.5h.01M119.4 32.5h.01M171.8 53.3h.01M124.1 70.4h.01M147.1 64.0h.01M150.7 59.9h.01M162.7 49.2h.01M126.4 31.8h.01M188.8 61.4h.01M126.2 86.6h.01M137.6 24.9h.01M159.9 37.5h.01M156.6 61.8h.01M135.4 63.3h.01M126.3 58.6h.01M164.6 23.8h.01M150.0 23.2h.01M152.6 86.7h.01M161.5 74.8h.01M178.1 26.5h.01M196.9 75.3h.01M125.4 84.0h.01M148.8 31.1h.01M194.5 62.6h.01M179.6 28.3h.01M179.7 21.9h.01M136.3 47.2h.01M118.4 65.1h.01M134.4 41.4h.01M174.1 51.5h.01M188.7 67.2h.01M187.4 62.6h.01M191.1 87.3h.01M130.7 77.2h.01M144.7 78.7h.01M172.0 83.7h.01M127.1 47.3h.01M176.5 93.5h.01M175.3 20.8h.01M165.8 25.3h.01M161.4 81.9h.01M126.3 91.7h.01M171.6 37.8h.01M132.7 53.2h.01M184.7 64.0h.01M126.3 19.0h.01M126.1 81.7h.01M132.1 61.9h.01M140.5 72.5h.01M147.9 28.9h.01M187.7 60.6h.01M172.7 82.3h.01M193.6 18.4h.01M144.8 29.4h.01M157.6 87.5h.01M181.6 20.2h.01M131.9 83.1h.01M171.9 48.9h.01M155.5 30.0h.01M185.2 48.9h.01M187.5 66.4h.01M123.3 43.8h.01M134.6 89.2h.01M164.6 20.8h.01M130.9 46.3h.01M154.9 63.7h.01M148.4 45.7h.01M117.7 63.9h.01M144.1 18.9h.01M154.2 96.6h.01M120.9 29.0h.01M171.2 39.2h.01M139.2 57.5h.01M138.3 63.0h.01M159.7 94.2h.01M197.1 20.0h.01M162.3 79.3h.01M187.4 79.6h.01M168.2 68.3h.01M146.4 39.9h.01M181.2 87.5h.01M192.8 72.1h.01M141.7 78.7h.01M176.7 58.2h.01M168.3 45.5h.01M161.5 49.9h.01M122.1 44.4h.01M143.2 96.8h.01M156.0 46.8h.01M136.8 36.2h.01M145.3 28.2h.01M117.8 87.3h.01M153.7 53.1h.01M163.0 41.6h.01M130.8 22.6h.01M141.5 42.1h.01M175.7 61.6h.01M192.7 44.7h.01M191.4 64.2h.01M123.6 31.7h.01M163.9 96.7h.01M145.9 79.6h.01M151.7 87.1h.01M122.7 56.3h.01M189.6 39.5h.01M137.9 19.2h.01M130.4 38.9h.01M173.9 34.9h.01M149.4 33.4h.01M165.7 86.8h.01M169.4 33.1h.01M176.3 94.7h.01M165.6 23.7h.01M182.4 87.7h.01M144.7 28.3h.01M132.3 60.5h.01M187.7 68.7h.01M191.5 34.4h.01M143.5 77.5h.01M169.4 49.9h.01M171.9 44.5h.01M121.8 50.6h.01M120.9 67.7h.01M144.1 57.0h.01M165.3 38.0h.01M154.5 18.4h.01M191.7 62.7h.01M196.7 21.8h.01M166.6 75.5h.01M143.7 24.8h.01M129.8 28.8h.01M179.0 24.5h.01M182.7 51.3h.01M160.6 64.6h.01M161.9 70.2h.01M165.6 43.9h.01M176.9 38.0h.01M174.5 78.7h.01M179.7 42.2h.01M179.4 95.9h.01M153.7 39.7h.01M159.3 93.0h.01M127.8 18.0h.01M155.5 70.0h.01M179.5 46.4h.01M196.9 35.6h.01M178.1 24.5h.01M119.5 28.1h.01M122.0 57.6h.01M161.9 31.9h.01M192.8 46.7h.01M129.2 31.6h.01M176.6 91.4h.01M130.2 19.6h.01M179.8 36.8h.01M196.3 57.4h.01M168.4 45.0h.01M181.6 54.3h.01M143.3 89.9h.01M125.9 76.3h.01M122.5 69.2h.01M149.5 86.8h.01M122.0 62.7h.01M150.2 91.2h.01M193.3 67.7h.01M135.2 37.6h.01M138.3 52.2h.01M135.8 33.6h.01M178.3 69.0h.01M141.2 97.2h.01M134.6 63.1h.01M129.8 86.7h.01M187.2 38.8h.01M177.7 83.5h.01M139.9 44.0h.01M156.3 88.9h.01M130.2 72.2h.01M165.3 53.7h.01M163.8 88.3h.01M134.1 88.3h.01M146.2 80.0h.01M186.7 32.0h.01M186.7 97.3h.01M141.2 19.3h.01M126.2 95.6h.01M118.0 90.6h.01M129.3 76.5h.01M125.1 30.9h.01M172.2 24.6h.01M144.5 91.1h.01M174.9 88.2h.01M196.1 19.9h.01M136.1 81.0h.01M172.7 20.3h.01M157.8 35.9h.01M151.9 25.7h.01M118.8 97.0h.01M142.7 87.9h.01M126.9 56.5h.01M128.1 51.7h.01M131.6 72.4h.01M129.1 76.7h.01M157.5 26.3h.01M145.7 57.2h.01M191.2 45.4h.01M134.5 95.1h.01M188.3 76.1h.01M139.2 31.5h.01M138.5 22.8h.01M120.7 58.2h.01M150.1 62.1h.01M146.4 18.2h.01M172.6 69.8h.01M161.0 61.4h.01M172.8 96.3h.01M187.6 75.0h.01M149.3 42.9h.01M150.9 95.5h.01M148.4 48.3h.01M150.2 28.8h.01M197.6 17.7h.01M166.1 91.8h.01M137.7 66.4h.01M147.5 36.7h.01M133.2 26.6h.01M185.1 80.3h.01M190.3 21.3h.01M173.1 43.4h.01M169.2 61.4h.01M142.6 95.4h.01M117.3 77.3h.01M185.9 58.3h.01M164.9 97.3h.01M136.1 67.9h.01M177.0 47.8h.01M174.5 48.9h.01M159.6 66.6h.01M171.7 43.2h.01M167.8 61.0h.01M135.2 66.5h.01M138.5 90.4h.01M155.3 75.3h.01M159.2 55.6h.01M135.0 28.7h.01M191.8 59.8h.01M159.4 59.7h.01M182.7 36.5h.01M131.1 83.4h.01M154.3 68.8h.01M183.8 89.2h.01M187.1 20.8h.01M147.9 84.2h.01M183.0 27.2h.01" stroke="#8b99c4" stroke-width="1.4" stroke-linecap="round" fill="none" opacity="1"/>
<path d="M129.6 37.5h.01M125.5 46.0h.01M181.9 59.2h.01M153.7 24.4h.01M149.0 97.5h.01M173.1 53.4h.01M155.7 81.5h.01M178.3 29.4h.01M172.0 46.8h.01M159.1 36.4h.01M147.0 44.6h.01M147.9 18.7h.01M133.4 63.2h.01M121.8 31.6h.01M175.0 39.4h.01M143.3 36.7h.01M184.3 24.6h.01M168.4 86.4h.01M133.4 51.3h.01M181.0 67.0h.01M147.1 20.8h.01M152.8 46.8h.01M174.6 41.0h.01M150.0 69.4h.01M182.5 45.6h.01M148.2 63.8h.01M191.6 32.7h.01M195.4 74.5h.01M147.2 70.8h.01M143.7 23.0h.01M178.1 47.8h.01M159.5 57.2h.01M189.8 78.2h.01M119.3 65.0h.01M154.4 54.5h.01M184.8 50.7h.01M155.3 88.9h.01M152.6 56.8h.01M158.4 83.6h.01M171.2 76.8h.01M149.5 20.6h.01M171.9 61.8h.01M179.1 79.2h.01M126.7 35.0h.01M123.4 83.0h.01M125.4 24.4h.01M177.8 62.7h.01M121.6 72.1h.01M174.4 56.1h.01M121.6 72.9h.01M150.8 64.2h.01M197.5 83.0h.01M187.4 29.0h.01M144.1 59.0h.01M117.7 96.8h.01M139.3 38.4h.01M142.4 37.8h.01M186.3 62.0h.01M158.3 51.1h.01M121.3 41.8h.01M187.0 81.8h.01M186.2 38.0h.01M133.5 21.5h.01M160.4 47.4h.01M154.6 56.6h.01M164.2 46.7h.01M181.7 33.4h.01M191.2 62.0h.01M121.3 42.6h.01M160.1 50.2h.01M162.7 43.3h.01M139.2 81.3h.01M140.7 74.4h.01M181.8 64.9h.01M153.8 92.5h.01M153.0 87.9h.01M121.8 52.2h.01M168.7 21.2h.01M186.6 23.1h.01M165.2 31.8h.01M191.5 62.4h.01M181.7 57.4h.01M171.4 71.6h.01M140.9 34.3h.01M184.7 29.0h.01M191.1 33.9h.01M125.3 25.0h.01M180.3 93.8h.01M150.6 70.3h.01M137.9 90.1h.01" stroke="#7c8bbc" stroke-width="1.1" stroke-linecap="round" fill="none" opacity="1"/>
</g></g>
<text x="118.8" y="26.8" style="font-size:9.4px;font-weight:bold;" fill="#000">EMT6</text>
<g clip-path="url(#cB2)"><rect x="201.3" y="17.3" width="81.4" height="80.4" fill="#d6d4d0"/>
<g filter="url(#b08)">
<path d="M257.1 29.7h.01M225.2 36.0h.01M227.2 62.4h.01M233.2 19.9h.01M253.5 35.3h.01M208.9 54.6h.01M236.3 71.9h.01M225.0 45.3h.01M241.7 92.1h.01M245.3 24.4h.01M219.8 91.6h.01M250.0 95.1h.01M278.2 70.1h.01M228.4 53.4h.01M225.6 22.9h.01M249.8 54.4h.01M212.0 63.8h.01M231.8 70.6h.01M215.1 93.0h.01M210.8 57.2h.01M210.9 54.9h.01M244.9 58.0h.01M217.4 49.8h.01M242.1 88.9h.01M247.7 72.7h.01M262.4 29.7h.01M203.8 48.9h.01M225.1 88.9h.01M248.4 36.1h.01M265.1 74.4h.01M238.9 91.3h.01M256.6 29.5h.01M212.7 33.2h.01M265.7 55.9h.01M253.1 33.3h.01M270.1 80.5h.01M259.7 45.4h.01M266.6 64.8h.01M225.6 94.6h.01M220.2 33.2h.01M220.6 56.9h.01M257.1 74.4h.01M228.9 65.1h.01M235.4 65.9h.01M228.6 34.5h.01M270.0 67.1h.01M237.3 70.4h.01M211.1 72.2h.01M268.3 32.1h.01M279.3 46.4h.01M233.4 57.5h.01M242.5 96.8h.01M238.3 82.4h.01M230.0 25.4h.01M271.5 58.6h.01M207.5 67.5h.01M252.7 47.5h.01M230.9 95.8h.01M260.6 77.6h.01M248.2 21.1h.01M262.1 68.9h.01M263.4 40.7h.01M266.8 71.7h.01M223.9 30.3h.01M214.5 76.7h.01M226.7 21.6h.01M217.4 43.1h.01M210.1 38.2h.01M232.7 94.8h.01M217.9 90.4h.01M239.6 62.2h.01M262.6 39.4h.01M276.0 59.9h.01M252.6 38.2h.01M204.7 83.8h.01M230.1 92.9h.01M262.7 71.8h.01M267.1 26.2h.01M257.6 79.6h.01M233.3 82.1h.01M216.4 87.4h.01M212.2 44.5h.01M234.9 57.7h.01M255.7 63.8h.01M248.0 39.3h.01M265.5 84.7h.01M256.0 77.9h.01M251.1 39.4h.01M250.4 83.6h.01M218.6 35.3h.01M230.6 73.5h.01M269.6 43.4h.01M252.5 28.5h.01M206.1 53.1h.01M229.0 43.9h.01M219.0 81.1h.01M203.8 79.9h.01M242.4 51.4h.01M252.6 75.6h.01M233.9 58.5h.01M212.2 53.8h.01M259.0 53.9h.01M216.8 49.7h.01M217.1 76.5h.01M237.0 33.2h.01M217.3 38.7h.01M259.9 22.3h.01M252.6 38.5h.01M226.2 20.9h.01M238.3 25.5h.01M213.8 79.8h.01M240.1 83.4h.01M210.2 62.6h.01M218.3 37.6h.01M248.9 47.8h.01M204.8 88.8h.01M207.1 43.3h.01M232.4 25.7h.01M211.6 33.4h.01M249.0 68.5h.01M205.7 55.1h.01M256.1 74.7h.01M254.2 72.9h.01M212.8 90.4h.01M219.9 48.8h.01M266.6 20.4h.01M220.9 92.1h.01M276.1 38.4h.01M202.8 78.2h.01M246.5 83.3h.01M251.8 65.1h.01M225.0 49.2h.01M267.4 54.1h.01M254.2 34.0h.01M210.3 95.8h.01M270.5 85.5h.01M231.2 41.6h.01M263.9 17.9h.01M210.6 73.0h.01M243.6 53.9h.01M269.4 74.9h.01M256.7 85.6h.01M237.3 74.1h.01M225.8 45.3h.01M223.6 37.4h.01M226.8 67.7h.01M245.0 94.9h.01M244.5 69.6h.01M257.4 95.1h.01M262.6 37.3h.01M203.6 72.9h.01M222.4 94.8h.01M249.4 70.1h.01M257.9 41.7h.01M263.9 31.6h.01M226.0 50.2h.01M237.5 75.9h.01M203.8 83.9h.01M223.9 18.1h.01M249.1 70.5h.01M232.5 69.7h.01M219.5 22.5h.01M230.9 75.4h.01M265.4 37.5h.01M243.9 26.3h.01M266.1 40.2h.01M263.6 35.3h.01M219.1 48.2h.01M253.5 55.2h.01M220.4 19.7h.01M210.7 54.3h.01M215.4 35.9h.01M244.0 36.6h.01M271.7 34.4h.01M222.9 91.6h.01M260.8 23.3h.01M227.2 33.8h.01M240.5 31.8h.01M254.5 58.7h.01M239.6 76.8h.01M220.4 57.4h.01M231.2 89.9h.01M208.0 34.7h.01M237.0 28.6h.01M234.0 71.9h.01M282.0 67.2h.01M227.5 50.0h.01M255.7 19.1h.01M214.5 83.9h.01M250.8 38.0h.01M247.0 74.5h.01M248.6 88.6h.01M220.4 30.8h.01M238.1 50.2h.01M223.2 93.0h.01M205.5 90.8h.01M202.7 40.6h.01M254.5 58.5h.01M221.1 70.2h.01M247.7 31.9h.01M222.1 36.3h.01M243.9 71.8h.01M261.6 67.5h.01M256.0 81.6h.01M240.0 71.8h.01M265.3 36.0h.01M261.2 46.2h.01M263.7 27.6h.01M218.8 38.7h.01M212.4 50.0h.01M248.3 45.9h.01M236.9 31.4h.01M202.7 71.6h.01M263.7 41.5h.01M272.5 64.6h.01M223.5 22.9h.01M215.4 73.2h.01M220.0 38.6h.01M281.7 18.9h.01M228.6 59.3h.01M235.3 55.8h.01M205.8 24.0h.01M222.7 81.0h.01M229.1 56.8h.01M276.9 62.4h.01M213.8 73.0h.01M265.7 35.9h.01M255.3 62.7h.01M217.0 64.1h.01M252.9 36.7h.01M235.8 60.2h.01M203.8 75.5h.01M225.0 68.7h.01M251.3 89.8h.01M226.6 70.6h.01M266.0 42.2h.01M238.9 33.2h.01M242.6 59.2h.01M259.6 59.9h.01M240.7 37.6h.01M219.4 42.9h.01M251.7 25.7h.01M253.1 39.7h.01M239.2 67.1h.01M206.9 77.7h.01M236.9 24.2h.01M209.0 94.8h.01M224.7 79.0h.01M210.0 23.0h.01M244.6 84.3h.01M215.4 78.8h.01M228.8 27.2h.01M224.8 54.7h.01M261.0 27.7h.01M228.9 37.2h.01M239.5 96.9h.01M270.9 43.1h.01M261.9 44.8h.01M227.9 85.5h.01M223.0 46.7h.01M230.0 47.7h.01M219.8 90.4h.01M232.3 84.8h.01M245.2 44.3h.01M205.2 87.3h.01M238.4 44.6h.01M229.0 37.3h.01M219.8 23.0h.01M261.6 33.3h.01M226.5 68.1h.01M226.7 87.6h.01M243.5 56.2h.01M273.0 70.8h.01M230.8 46.5h.01M204.1 64.8h.01M259.7 51.8h.01M230.3 35.2h.01M259.1 92.1h.01M225.9 43.8h.01M216.5 61.3h.01M216.2 90.5h.01M276.5 34.0h.01M246.9 28.9h.01M266.7 51.4h.01M222.4 39.5h.01M243.1 55.0h.01M262.2 36.4h.01M243.4 31.4h.01M237.3 24.2h.01M266.2 71.8h.01M228.7 78.9h.01M217.5 30.3h.01M251.6 41.7h.01M219.1 24.1h.01M227.0 57.9h.01M240.3 52.7h.01M240.9 93.3h.01M217.4 64.9h.01M235.9 45.6h.01M260.6 45.8h.01M225.6 61.9h.01M261.1 93.6h.01M249.3 71.8h.01M266.5 19.5h.01M240.3 57.2h.01M228.4 48.4h.01M265.3 38.3h.01M232.9 46.5h.01M245.2 39.5h.01M203.1 32.8h.01M266.9 29.1h.01M246.1 91.4h.01M276.6 52.2h.01M249.9 95.8h.01M205.9 27.3h.01M259.0 68.0h.01M214.5 31.8h.01M256.0 95.3h.01M215.9 29.5h.01M256.7 20.0h.01M265.7 63.6h.01M273.0 65.6h.01M275.8 62.4h.01M215.5 48.1h.01M235.0 71.1h.01M227.1 47.6h.01M227.2 78.2h.01M213.4 78.5h.01M209.7 39.5h.01M222.2 76.0h.01M209.2 57.0h.01M218.8 69.9h.01M213.1 71.9h.01M212.0 68.5h.01M221.6 82.8h.01M239.5 75.1h.01M229.2 92.3h.01M212.4 82.8h.01M216.4 57.5h.01M214.6 92.1h.01M219.3 90.2h.01M244.7 86.0h.01M256.8 77.2h.01M246.4 49.9h.01M212.5 55.1h.01M223.1 46.9h.01M263.3 64.7h.01M226.8 19.6h.01M211.4 40.2h.01M230.6 65.9h.01M218.0 58.1h.01M259.4 17.4h.01M236.0 95.2h.01M247.6 18.0h.01M202.4 33.6h.01M223.1 88.1h.01M227.6 95.0h.01M223.3 29.2h.01M214.4 75.7h.01M230.5 89.7h.01M212.8 30.0h.01M249.2 81.7h.01M242.2 63.5h.01M234.9 61.0h.01M206.0 51.3h.01M221.0 24.7h.01M232.8 44.3h.01M238.1 57.7h.01M250.5 31.8h.01M208.0 44.0h.01M254.1 51.4h.01M243.0 92.6h.01M213.9 41.8h.01M214.8 21.0h.01M270.3 69.4h.01M252.2 22.0h.01M259.6 58.4h.01M255.8 52.1h.01M208.7 89.9h.01M219.4 49.3h.01M228.6 38.7h.01M219.4 49.5h.01M236.4 29.8h.01M209.4 57.7h.01M217.1 71.2h.01M267.6 55.4h.01M210.5 43.2h.01M248.8 75.4h.01M257.9 46.8h.01M223.8 95.9h.01M271.7 68.5h.01M272.3 74.9h.01M232.3 71.3h.01M247.4 33.1h.01M240.6 44.4h.01M242.9 64.6h.01M223.9 57.7h.01M235.4 70.7h.01M244.6 39.5h.01M221.6 91.7h.01M231.8 40.6h.01M260.8 34.4h.01M230.4 41.9h.01M262.7 76.3h.01M220.3 80.4h.01M256.3 68.4h.01M223.5 22.2h.01M203.9 94.6h.01M220.0 44.4h.01M231.4 39.0h.01M271.9 52.6h.01M226.9 95.6h.01M273.8 51.6h.01M264.2 47.4h.01M249.8 37.8h.01M233.1 47.8h.01M231.6 78.5h.01M256.6 67.5h.01M248.1 43.2h.01M227.8 69.1h.01M242.8 27.1h.01M226.6 50.8h.01M220.9 86.2h.01M249.1 47.6h.01M205.7 47.9h.01M245.9 48.4h.01M237.2 97.1h.01M238.9 34.4h.01M236.5 58.1h.01M215.1 58.4h.01M231.6 86.5h.01M272.7 46.1h.01M251.3 62.6h.01M208.2 94.1h.01M210.6 70.1h.01M228.0 43.7h.01M228.9 50.9h.01M230.7 49.6h.01M255.2 70.7h.01M234.3 36.0h.01M238.5 84.2h.01M261.0 19.6h.01M241.8 55.3h.01M215.4 69.2h.01M222.4 69.1h.01M251.2 31.1h.01M226.9 61.6h.01M240.6 66.9h.01M226.4 71.9h.01M251.5 80.0h.01M219.4 52.9h.01M247.4 77.9h.01M215.7 83.9h.01M202.6 88.9h.01M268.9 72.7h.01M228.9 19.4h.01M211.1 30.1h.01M267.3 76.2h.01M208.7 91.7h.01M251.1 86.6h.01M258.2 54.6h.01M224.2 77.2h.01M221.5 73.2h.01M231.3 58.3h.01M203.5 77.9h.01M272.6 46.0h.01M229.6 76.2h.01M234.4 59.5h.01M230.1 82.6h.01M223.8 68.4h.01M232.0 63.8h.01M222.0 84.1h.01M250.3 67.6h.01M216.7 25.4h.01M242.8 29.3h.01M271.8 48.5h.01M216.2 63.7h.01M240.0 60.5h.01M242.3 84.6h.01M277.0 33.3h.01M263.8 63.1h.01M219.0 80.1h.01M260.5 35.7h.01M254.1 47.2h.01M213.8 61.6h.01M205.4 37.3h.01M221.9 24.2h.01M221.7 41.4h.01M210.6 35.3h.01M204.3 78.2h.01M207.2 93.5h.01M237.2 52.4h.01M268.9 55.6h.01M234.4 89.0h.01M255.1 62.3h.01M248.1 37.0h.01M271.7 23.7h.01M273.0 96.0h.01M239.6 27.8h.01M259.3 75.9h.01M253.6 70.1h.01M203.1 52.8h.01M249.9 44.4h.01M226.2 61.2h.01M210.7 76.1h.01M231.3 31.7h.01M242.1 50.7h.01M232.5 52.3h.01M224.0 26.1h.01M237.8 87.6h.01M237.2 78.6h.01M213.7 59.0h.01M247.0 50.8h.01M237.5 90.9h.01M249.0 74.4h.01M259.6 18.9h.01M211.6 55.4h.01M213.6 35.2h.01M208.7 32.9h.01M212.4 83.3h.01M205.1 77.0h.01M271.6 25.4h.01M257.8 64.5h.01M223.9 57.2h.01M236.9 39.9h.01M225.6 39.4h.01M208.3 81.7h.01M219.9 26.5h.01M242.3 75.1h.01M234.9 89.1h.01M254.0 82.4h.01M207.8 86.7h.01M222.4 66.8h.01M239.0 74.7h.01M255.1 25.7h.01M254.2 72.6h.01M216.9 94.5h.01M235.9 47.4h.01M261.6 69.6h.01M247.7 58.7h.01M220.9 77.0h.01M223.1 80.6h.01M226.7 46.9h.01M215.2 29.8h.01M218.6 44.4h.01M213.9 75.0h.01M225.9 38.8h.01M202.3 52.3h.01M202.3 86.6h.01M201.3 94.5h.01M221.9 19.3h.01M259.1 64.1h.01M211.4 85.5h.01M246.1 82.7h.01M245.2 38.7h.01M216.9 74.2h.01M264.7 67.8h.01M227.8 91.9h.01M238.9 78.4h.01" stroke="#c2a177" stroke-width="3.4" stroke-linecap="round" fill="none" opacity="0.5"/>
</g><g filter="url(#b05)">
<path d="M237.6 81.1l1.4 2.6M215.5 23.4l1.7 0.2M234.8 94.0l1.4 -2.0M249.0 36.4l-1.5 0.1M253.9 57.9l-2.3 -1.9M217.8 44.3l0.6 0.4M248.5 18.3l-0.2 2.1M206.6 60.9l-1.6 0.1M209.6 76.1l-0.7 -0.5M248.3 47.8l0.1 -2.1M228.3 61.0l-2.6 -1.1M247.4 97.1l-1.9 0.5M240.2 68.3l-0.8 -2.8M206.2 80.8l-1.5 -2.0M220.7 47.9l-0.5 -1.8M250.6 43.5l2.4 -0.7M232.7 45.1l0.9 1.7M264.3 92.5l-0.2 1.8M233.6 61.3l1.3 0.5M258.3 64.0l0.6 -1.7M213.0 83.3l0.6 2.8M267.3 35.7l1.7 -1.9M209.2 78.9l-1.7 -1.9M223.7 37.5l1.8 2.0M263.7 41.9l-0.5 2.4M239.3 82.9l1.1 0.9M272.9 30.3l0.0 -0.8M255.7 24.0l-1.4 -2.3M234.6 53.4l-0.6 1.0M244.6 73.5l-1.0 0.9M224.3 76.7l-0.6 1.1M271.6 68.6l-2.0 1.9M271.5 37.9l1.4 1.1M263.9 29.9l1.8 -0.1M231.9 27.2l-0.2 -2.8M255.0 42.0l-0.4 1.6M212.6 91.4l1.1 -1.1M218.7 77.8l-0.9 0.6M266.4 76.1l1.1 -0.2M231.8 50.6l2.2 -1.8M252.8 46.7l1.7 0.8M235.0 45.5l1.3 2.5M249.4 60.9l-0.0 1.4M241.5 53.2l-1.0 -0.4M205.7 30.1l0.6 -2.7M220.5 80.0l-1.8 -0.4M268.0 41.6l-2.0 -0.7M219.6 20.8l2.3 0.5M252.2 39.7l0.1 1.0M216.1 82.9l-0.3 -1.4M233.3 62.5l2.2 -0.4M244.6 68.7l-0.6 1.0M225.8 36.0l-0.7 2.2M229.8 78.5l1.2 -2.7M232.1 96.6l0.5 -0.5M245.7 48.5l-0.4 1.0M219.1 55.2l-0.1 2.2M263.5 68.5l-0.2 -2.2M218.1 60.3l-0.1 -1.1M226.6 44.9l-1.4 1.9M210.8 77.7l1.0 0.7M243.2 39.0l1.2 -0.5M262.3 73.2l-0.1 2.9M227.4 33.3l0.5 -0.4M269.3 42.1l1.0 -0.7M218.6 26.7l0.8 0.7M221.7 63.8l-0.6 1.8M240.0 43.8l1.5 -1.4M204.0 73.6l-2.5 -0.6M229.8 57.4l0.7 2.0M235.9 96.3l-0.2 -0.7M223.6 26.8l-1.0 -0.2M271.4 27.5l0.2 -1.7M209.4 94.4l0.5 -2.3M227.1 72.3l0.0 -0.7M239.7 82.6l-0.6 -0.2M278.4 94.2l-0.7 -2.2M237.0 65.1l-0.1 0.7M276.5 39.1l2.0 2.3M261.5 34.2l1.8 -1.3M248.8 27.8l0.6 -0.2M241.4 56.8l-2.5 -0.2M212.0 87.7l-0.1 1.2M238.7 69.4l1.4 -1.2M243.0 96.8l1.4 0.1M226.8 27.3l2.7 0.6M260.6 33.9l-2.0 -1.4M266.8 95.9l0.2 0.8M264.8 58.8l1.9 -1.0M254.7 64.6l0.1 -2.0M211.8 51.5l-1.8 0.8M230.7 48.7l-2.0 2.1M233.5 53.4l-0.8 0.9M224.6 54.7l2.6 1.0M269.4 36.7l-0.8 -2.4M239.5 48.5l0.8 -2.6M206.9 82.3l-2.7 0.5M277.2 66.9l-1.4 -0.9M221.6 92.0l0.8 0.8M229.2 63.4l-2.4 0.9M216.1 75.2l2.7 -1.0M228.0 66.0l-1.8 1.1M253.2 44.8l1.4 1.4M215.2 41.9l1.5 -1.1M222.0 64.4l0.2 -1.0M222.6 52.6l0.5 0.9M212.0 34.5l-1.9 1.5M234.2 55.5l0.4 -2.7M235.9 91.4l1.8 -0.3M256.8 48.0l1.8 2.0M230.6 73.5l-1.1 -0.2M215.7 44.3l-0.6 -0.2M259.2 52.1l-0.1 1.1M268.3 61.5l0.0 1.3M224.1 45.1l0.5 -2.2M273.3 69.9l1.0 0.3M222.3 59.8l-1.4 -0.8M222.1 85.5l-0.8 -1.2M273.7 41.2l0.8 2.4M224.3 39.2l0.7 -0.1M251.1 45.4l-2.6 1.1M221.5 30.5l-1.0 -1.5M215.9 87.6l0.5 1.0M243.1 55.6l-0.4 -2.7M202.8 42.9l-2.0 -1.5M265.9 50.1l-0.7 -1.1M212.2 30.5l1.1 1.1M246.2 61.7l0.3 -0.8M265.4 63.3l-0.0 0.8M272.5 43.2l-0.8 -0.2M273.0 42.8l0.2 -2.3M231.5 44.9l0.8 -1.5M267.4 44.6l-2.4 -0.2M246.5 46.4l1.9 -1.7M226.1 24.1l0.7 -0.2M267.2 59.8l-1.5 -0.4M277.1 21.5l0.2 2.5M213.7 60.0l1.0 1.6M265.0 72.0l-0.2 -1.8M257.0 53.5l0.6 -1.8M213.4 44.4l0.7 -1.3M282.2 69.4l0.6 0.5M247.7 43.2l-0.7 0.3M237.5 42.1l-1.7 2.4M219.4 19.2l1.8 0.6M225.8 71.5l-1.1 -0.8M239.6 54.6l1.7 0.4M241.1 31.4l-0.2 -3.0M229.7 65.4l0.8 -1.2M215.6 94.9l0.3 -0.7M222.8 62.4l-2.5 -1.3M248.7 36.3l-0.5 -0.7M229.7 28.8l2.5 -0.0M276.7 60.1l-2.9 -0.3M234.6 62.2l0.8 2.5M203.3 60.5l1.7 2.2M237.1 32.2l-1.4 -0.9M271.4 88.2l2.4 0.1M250.1 46.6l-1.1 0.5M249.2 96.1l2.0 1.0M210.1 35.2l1.4 -0.1M227.0 55.5l-1.9 1.3M227.7 81.3l1.7 1.3M238.2 91.1l-0.1 -2.2M231.4 27.6l0.1 -1.7M239.8 72.4l-0.9 0.5M239.0 61.5l1.9 -0.1M228.0 35.2l-0.1 -1.2M271.8 33.6l0.8 -0.1M226.2 55.6l-1.9 -2.1M255.8 17.4l1.6 0.4M217.8 86.1l1.4 -0.4M251.8 60.9l0.1 -0.6M242.0 20.2l-2.0 -1.6M210.2 80.0l-1.6 -0.2M256.1 68.0l-0.3 2.8M244.6 18.9l-0.4 0.6M201.6 50.9l-0.4 -2.5M265.6 81.0l0.8 0.1M220.4 86.2l-0.3 0.5M208.0 77.6l-0.6 1.3M211.7 97.5l-0.6 -1.8M263.7 44.4l-0.1 -2.3M261.3 63.4l-0.7 -0.3M209.2 42.3l2.2 0.7M260.8 66.8l-0.5 -2.5M251.7 35.6l-1.0 0.8M213.4 86.8l0.9 -0.4M222.8 58.3l-0.6 1.8M253.2 64.3l-0.4 0.4M201.8 38.1l0.2 0.6M222.5 36.9l-1.3 0.7M261.4 56.9l0.3 2.7M247.0 26.7l-1.6 -1.5M252.5 67.2l0.6 0.3M207.5 79.2l-0.6 0.9M232.4 92.6l-2.0 -1.0M220.3 48.0l0.3 -1.0M212.4 39.6l-1.2 -1.4M270.8 77.8l-1.0 -0.2M221.0 29.1l-1.6 2.2M254.7 24.4l-1.6 -1.0M220.9 64.7l-1.5 2.4M233.5 51.3l1.6 -2.5M263.2 34.7l-1.1 0.4M241.1 51.6l-0.5 -2.9M237.7 46.0l-1.8 0.4M226.4 25.8l0.9 0.4M237.4 45.3l-1.5 -0.3M227.3 77.0l0.2 -0.6M212.1 33.9l-1.2 0.9M268.7 44.2l1.8 -0.5M231.7 69.0l1.3 -0.7M223.7 89.2l-0.2 1.8M266.1 23.3l0.5 -2.3M230.4 82.8l1.4 -1.1M222.3 29.4l0.9 0.3M213.6 55.9l1.0 0.8M214.7 36.6l-2.0 -0.2M238.8 55.1l-0.4 -1.9M276.4 96.5l-1.3 1.1M222.2 77.1l1.2 1.4M209.8 54.0l0.2 -1.0M224.0 96.5l-0.6 -0.5M219.5 87.8l0.8 0.2M230.2 74.9l-1.9 -0.2M209.3 63.9l-1.2 2.3M257.6 27.0l1.2 0.4M250.1 26.8l1.4 1.5M252.1 86.3l2.9 0.2M247.1 66.2l-1.6 -1.3M264.1 58.9l0.4 2.1M266.1 61.2l1.9 -0.4M220.7 62.8l-1.1 1.2M216.0 64.1l-2.3 0.4M202.9 58.1l-2.1 -1.5M239.3 67.9l-0.1 1.8M244.6 35.3l-1.5 0.0M277.7 37.2l-0.4 -0.5M271.0 71.9l-2.1 0.8M214.3 46.6l-0.8 -1.8M209.7 34.8l2.1 0.4M224.2 54.6l-0.6 0.0M230.1 33.2l-1.7 -0.1M276.8 78.6l2.2 0.4M249.9 69.8l1.6 0.4M269.3 65.7l2.0 2.0M245.7 30.5l2.4 -1.2M253.8 82.2l-2.5 0.6M258.7 17.9l-2.7 -1.0M251.6 87.7l-0.9 -0.5M228.3 29.3l2.1 0.6M207.4 87.2l1.6 -0.7M207.9 73.9l1.9 -0.2M255.2 74.4l-0.3 1.6M259.5 35.7l-2.2 0.2M223.0 79.4l1.5 0.9M272.1 79.8l-0.6 -2.0M240.6 70.7l0.9 2.1M247.6 58.4l-1.5 0.1M246.2 19.1l2.9 0.7M275.2 69.9l0.8 -1.0M222.0 50.3l2.4 1.3M257.1 56.7l0.6 -0.5M230.4 72.5l-1.2 0.0M219.5 71.2l2.6 -1.1M209.8 46.2l-2.9 -0.0M263.4 46.6l0.7 -0.3M270.1 86.1l2.0 -0.7M233.0 51.5l-2.6 -0.5M274.2 43.6l0.4 -2.1M254.6 23.3l1.2 -0.9M239.8 95.6l-0.5 -0.6M247.0 76.7l0.2 -2.9M215.8 44.5l1.6 -1.9M225.0 97.2l1.3 0.5M207.6 93.7l-2.0 1.7M244.7 68.0l-2.8 0.7M223.9 59.5l0.6 0.7M242.5 81.5l2.7 1.0M212.5 88.4l-0.6 -0.8M222.5 51.2l-1.5 0.6M234.1 59.2l1.0 -0.3M212.1 61.4l-0.1 -0.7M225.7 52.1l-1.2 -0.3M255.8 50.4l-0.4 1.6M246.6 75.1l-0.7 0.3M210.4 29.1l0.9 2.0M229.0 90.3l0.0 1.0M213.1 72.1l-0.0 2.5M256.3 51.8l-0.9 -1.4M231.7 68.7l0.4 -2.6M231.7 47.2l-0.0 1.1M211.8 72.5l2.8 -0.8M236.8 51.5l-1.2 -0.4M211.2 87.3l0.9 -0.9M248.2 39.6l0.5 2.1M246.5 43.5l-1.8 0.2M267.9 33.6l-0.9 2.4M220.2 68.3l2.0 1.1M241.7 26.4l1.4 -0.6M246.6 51.1l2.6 0.7M248.5 45.2l1.1 2.6M246.3 33.4l-0.1 -1.0M247.3 18.7l1.1 1.9M241.1 86.3l0.9 -1.5M218.9 49.9l-1.0 -0.5M225.3 72.2l2.0 -1.6M263.5 65.5l2.4 -1.6M238.3 49.1l-1.1 -1.6M272.4 19.9l-0.8 0.2M256.5 50.3l-2.7 -0.9M242.6 60.7l-1.9 1.2M263.3 61.0l0.7 0.5M216.2 77.5l-2.6 0.3M216.5 44.3l-0.2 -1.7M225.9 87.0l-1.0 0.6M240.6 74.1l-0.9 -1.5M202.3 94.7l-2.8 -0.8M218.1 22.4l1.5 2.2M243.4 20.7l-1.0 -0.1M226.2 90.0l0.2 2.0M210.5 59.1l1.6 1.0M226.5 77.2l1.7 -1.1M224.3 54.9l-2.2 -0.9M263.6 39.6l-1.2 1.2M244.5 70.9l0.5 -0.8M231.2 93.8l1.0 -0.3M204.1 78.6l0.0 -0.6M211.4 46.0l-1.4 0.3M215.1 43.1l0.7 2.0M227.7 79.0l0.4 -0.7" stroke="#b89464" stroke-width="1.4" stroke-linecap="round" fill="none" opacity="0.8"/>
<path d="M220.7 73.3l-0.4 -2.0M202.6 68.1l-0.3 -1.4M240.1 55.6l1.6 0.8M222.4 64.7l0.3 1.1M261.2 38.9l2.8 0.2M252.7 26.4l-2.2 0.1M224.9 90.4l2.3 1.1M271.3 88.2l0.6 -1.0M266.6 72.5l2.1 -1.5M261.1 71.2l-1.8 0.0M242.8 63.4l1.7 0.1M231.6 53.5l-2.1 -0.6M209.9 83.5l2.1 -0.6M216.9 74.4l-0.8 -0.1M257.5 44.6l-1.1 2.1M247.1 28.1l-0.6 0.1M204.9 53.5l0.7 -0.6M232.8 95.8l1.3 -0.4M235.6 42.7l1.7 -1.5M242.5 85.6l-2.0 -1.4M264.5 71.4l-1.2 0.2M250.8 49.2l-2.0 -0.5M273.8 40.0l0.3 0.8M270.4 91.2l-1.8 2.1M226.0 22.6l-0.6 -0.0M221.9 55.3l0.5 0.7M228.2 24.6l2.0 1.5M270.0 69.6l0.3 -0.7M205.1 94.1l2.1 -1.2M213.2 70.9l0.2 1.7M218.6 87.4l-0.8 -1.9M243.2 64.8l0.1 -1.9M223.9 58.8l1.8 0.1M272.2 75.1l-2.0 -0.1M248.5 54.3l-1.0 -2.5M243.3 80.3l0.9 0.8M226.8 45.8l-0.8 2.9M261.1 47.1l0.9 -0.4M252.5 94.4l1.8 -1.8M235.1 45.5l-0.4 -2.7M231.4 17.9l-0.6 0.9M240.1 27.9l-1.0 0.6M257.1 43.7l1.3 -2.0M272.8 40.9l-0.3 -0.9M205.5 40.1l0.9 -0.1M215.9 36.7l-0.8 -0.3M214.3 28.6l0.3 -0.8M228.7 20.7l-0.3 -1.8M263.5 33.3l0.6 2.6M204.5 54.8l0.2 -2.3M257.0 33.2l-1.4 -1.7M230.7 59.0l1.9 -1.0M243.3 79.1l1.9 0.4M235.0 44.2l0.2 1.3M215.0 94.5l-0.8 -1.2M210.5 63.2l1.7 -1.4M212.2 97.4l-0.9 -0.6M255.6 37.8l0.2 -2.1M202.4 67.6l1.4 0.7M255.7 87.0l-2.5 -0.2M229.2 34.1l0.3 1.6M201.3 51.0l1.7 1.9M210.6 41.4l-0.7 -0.1M210.3 71.7l1.5 1.0M231.6 97.7l0.3 0.7M210.4 60.7l2.3 -0.3M250.5 37.9l-1.5 -0.3M247.2 24.5l1.6 -0.1M261.2 48.0l0.6 2.0M202.6 32.8l-1.4 1.9M203.0 87.8l2.7 -0.9M237.8 86.1l0.4 -2.1M264.5 29.3l-2.0 -0.3M257.3 31.7l1.2 -0.2M237.1 50.9l0.6 0.5M230.8 87.7l2.2 -1.6M259.2 53.4l-1.2 -0.5M228.9 51.1l3.0 -0.3M244.1 62.6l0.4 -1.7M257.9 61.4l-0.7 0.2M216.0 96.1l1.1 1.2M206.2 66.1l0.4 2.1M248.7 56.4l1.4 0.1M266.0 56.9l0.5 -0.7M234.3 57.2l0.0 -1.8M215.0 87.8l0.6 1.6M202.8 36.4l0.5 -0.7M219.1 27.1l-0.2 -2.0M211.9 40.3l2.2 -1.1M218.1 37.7l-1.4 -1.5M243.5 79.5l-0.9 2.0M212.7 77.4l1.2 -1.9M209.7 91.4l2.5 -1.3M262.0 65.2l2.1 1.1M238.0 27.3l-0.1 1.2M267.8 52.4l-1.3 0.6M259.2 34.6l-1.0 -2.3M227.4 78.4l1.8 2.2M236.7 39.4l-1.8 -0.3M259.7 73.2l0.4 -0.5M243.9 35.6l0.7 0.0M279.6 88.5l-1.0 -1.5M210.8 83.4l2.2 -1.2M243.9 80.2l-1.9 -0.5M259.7 44.8l-0.1 -1.5M256.8 89.9l-1.7 -0.3M269.6 39.0l-1.7 1.4M213.9 96.0l-0.2 -1.6M203.5 48.3l2.5 1.6M249.1 54.2l0.0 1.4M254.2 31.3l-0.3 1.9M257.3 58.9l-0.6 -0.6M254.8 56.2l1.3 -0.6M201.7 83.6l-1.7 0.5M231.6 35.8l-0.5 -0.5M223.3 92.2l-0.5 1.9M211.8 35.4l-1.2 0.4M256.2 88.5l0.9 0.1M226.5 28.1l-1.5 1.8M273.2 88.5l1.4 2.4M258.1 78.6l-0.5 -0.4M251.8 46.7l1.1 -2.7M236.1 52.9l-0.5 -2.9M239.5 86.0l-2.2 1.2M244.6 48.5l-1.4 -0.2M201.3 97.1l0.6 -0.3M230.6 80.3l-0.8 -1.6M208.7 84.1l-1.9 0.3M266.7 57.0l-2.4 0.2M231.9 71.5l2.3 -1.7M264.6 47.9l-1.9 0.8M206.5 89.0l2.3 -0.0M260.0 34.8l-1.5 -0.1M241.1 54.1l-2.1 -2.1M232.3 65.3l-0.1 -1.3M256.5 47.0l-2.1 0.1M282.4 39.8l1.5 -1.1M232.7 96.7l-0.4 -2.6M230.8 51.1l-0.9 1.3M265.7 62.3l-0.7 2.3M272.4 48.0l0.2 1.2M270.7 68.9l-0.7 -0.8M216.3 60.9l-0.2 2.4M230.7 77.0l-0.5 0.5M269.9 61.6l-0.8 -1.8M251.5 50.0l1.6 -1.2M202.1 67.4l-2.3 -1.2M212.0 85.2l-0.0 0.7M210.0 38.8l0.9 -0.4M224.8 47.3l-1.3 1.8M260.2 28.1l-0.4 -0.7M276.6 72.8l-0.6 0.4M248.9 58.4l-1.6 0.0M269.4 41.5l-1.3 -2.6M229.3 52.1l0.4 1.4M265.6 32.4l-0.4 1.9M216.6 69.3l0.2 1.1M226.0 43.7l1.8 -1.8M233.4 54.1l-2.8 0.7M208.7 49.0l0.7 -1.1M261.9 38.4l-0.6 -0.4M230.7 23.5l0.1 -0.9M209.4 72.4l0.4 -1.5M245.0 64.5l0.9 -2.1M267.9 37.6l-1.9 -0.5M202.6 82.6l1.4 2.2M246.6 76.8l-2.0 -1.9M205.9 44.1l-0.7 -0.9M203.6 28.3l-1.6 -0.4M221.9 24.7l0.9 1.3M214.9 54.6l-0.3 -2.7M240.6 88.9l-0.5 -2.7M243.0 85.5l-0.0 0.7M257.5 52.2l-0.9 1.0M207.4 80.7l-0.5 2.5M257.6 75.8l2.2 0.3M263.3 32.9l1.7 0.8M209.9 85.5l2.4 -0.1M236.2 32.0l-2.1 -1.7M273.9 43.4l-1.1 -1.9M252.2 83.4l2.1 -0.7M226.2 92.6l-1.8 0.2M210.8 69.0l-2.0 1.7M217.3 77.9l1.4 2.4M277.7 73.3l-1.6 1.6M231.1 30.7l1.1 1.3M209.4 75.7l0.8 -0.3M252.7 69.0l-1.3 -1.4M251.4 32.2l1.1 -1.8M221.1 44.2l1.7 0.6M243.1 51.9l2.1 1.6M238.3 40.8l0.8 0.3M268.8 78.4l-0.3 0.7M227.2 59.2l-2.6 -0.1M282.6 62.9l1.5 1.7M211.9 89.6l2.8 1.0M234.4 61.9l1.0 1.0M231.3 76.6l-0.4 -1.0M238.9 90.9l-1.2 1.7M238.9 59.8l1.7 1.2M227.1 78.0l-0.8 0.5M263.5 73.6l-0.1 -2.9M222.9 89.9l1.9 -0.5M231.5 54.1l0.5 -1.5M213.1 31.0l1.9 0.6M251.8 49.1l-2.1 -0.6M208.2 43.8l1.4 2.2M212.3 65.2l-1.3 -2.4M223.9 43.7l0.5 -0.7M234.4 48.0l-0.4 -1.6M259.4 87.8l2.8 0.3M217.0 82.8l0.1 0.6M236.2 65.5l1.3 0.1M234.1 50.8l-0.3 1.4M242.3 36.4l-0.0 -1.8M205.9 45.4l0.2 1.5M246.8 46.6l0.5 -0.5M245.7 50.2l1.0 -0.9M250.0 77.9l-1.0 2.0M247.5 90.7l-1.2 1.9M210.2 68.7l-0.5 -1.2M216.5 38.9l-0.7 -2.7M222.2 75.0l-0.6 0.2M219.8 77.5l1.9 -1.7M244.8 96.3l-1.5 1.1M205.7 87.3l-1.1 -0.6M232.4 54.7l1.0 1.9M210.0 35.2l-1.2 1.3M252.1 38.0l-2.6 0.9M264.5 55.9l-1.6 2.0M236.7 48.7l2.1 0.5M257.1 26.4l0.8 -1.0M244.4 45.1l-1.1 0.9M228.5 54.8l1.0 -1.1M256.7 31.5l-0.3 2.8M229.1 61.6l-0.9 -2.4M247.4 67.0l1.0 -1.9M254.1 41.7l-1.3 -0.2M269.7 73.3l2.7 -0.8M255.9 52.3l2.6 0.8M268.9 65.1l0.2 -0.6M233.9 37.4l-1.3 1.6M274.4 50.3l2.6 0.2M239.4 52.8l0.5 0.4M239.8 63.4l-1.3 -1.7M209.7 40.6l2.5 0.5M223.7 77.2l0.2 -0.6M250.5 51.5l-1.4 -0.3M241.7 55.2l-1.2 -2.3M254.5 18.1l0.1 -0.9M242.4 72.2l-0.3 0.6M244.0 75.4l2.4 -0.4M232.1 73.6l-2.4 1.6M237.0 54.8l1.6 2.2M228.3 88.7l1.4 1.4M220.9 52.7l-0.4 -2.3M257.2 28.1l-0.7 -0.4M242.6 40.7l-0.6 -2.1M252.8 58.5l1.3 -0.7M214.0 56.9l-1.9 1.6M221.7 95.3l-0.5 2.5M220.3 75.6l-1.5 0.9M276.6 30.1l-2.2 0.9M256.9 38.3l1.4 0.6M262.4 42.7l-2.7 -0.7M253.9 26.1l0.3 2.5M235.4 53.0l-0.5 1.6M254.1 44.2l-2.3 1.2M246.6 75.7l-0.5 -1.5M213.3 46.5l2.4 0.2M244.0 55.9l0.8 0.4M234.5 44.9l0.2 -1.7" stroke="#a98050" stroke-width="1.1" stroke-linecap="round" fill="none" opacity="0.85"/>
<path d="M243.1 77.0l-1.4 -0.8M246.8 25.6l1.1 -0.5M224.3 65.2l2.6 0.5M243.9 36.9l-2.2 -0.8M215.8 22.9l-1.0 -1.2M249.3 29.0l-0.7 -0.9M218.8 76.2l-1.6 1.6M263.2 72.0l2.7 -0.6M229.3 32.7l-0.9 0.1M220.6 76.2l-1.2 -1.0M259.1 38.1l0.1 0.6M271.7 46.8l1.4 -0.6M245.3 28.6l1.8 -1.8M245.7 47.0l0.4 2.0M216.3 81.6l-1.6 0.7M231.5 62.5l-0.1 1.0M263.4 52.1l0.7 -0.7M220.0 29.9l0.1 -0.7M235.6 52.4l-0.2 2.7M269.2 42.3l1.9 0.2M246.1 34.3l-0.7 -0.8M211.9 63.2l1.8 1.4M246.8 39.1l-0.5 -2.8M229.9 64.4l-1.9 0.4M226.1 65.9l0.9 0.2M235.0 29.2l-1.8 -1.2M249.4 83.8l-0.9 0.4M240.4 74.7l1.4 -1.1M278.2 47.2l-1.7 0.8M264.2 36.1l-0.2 -1.0M270.6 62.8l-2.4 -0.3M219.5 94.1l1.2 1.6M229.9 49.2l0.9 -0.9M257.6 62.9l1.0 -0.6M225.8 32.8l-0.5 -1.4M210.9 65.2l-2.1 -0.7M271.9 24.3l-2.3 1.2M226.5 94.2l0.6 -0.4M236.6 53.3l-0.4 2.7M222.6 89.4l-1.2 -0.6M224.6 25.9l-0.1 1.1M247.8 42.6l1.1 -1.0M203.7 62.1l-2.0 0.4M235.0 80.5l0.2 1.7M245.6 97.0l1.5 0.0M250.1 84.8l-2.3 -1.8M254.2 76.0l-0.7 -1.4M259.6 45.6l1.6 1.1M215.2 40.0l-1.1 1.2M233.9 61.3l-1.8 -0.3M229.9 32.2l1.1 0.7M204.6 50.7l1.8 1.6M238.1 67.4l0.6 -2.1M211.1 61.4l-0.0 -1.5M205.4 50.3l-1.1 -2.2M280.6 42.9l0.1 0.6M223.2 67.2l1.0 0.7M273.7 64.5l0.7 0.3M219.0 66.9l-2.6 -0.0M201.5 40.4l-1.8 -1.5M256.5 52.2l-1.2 -1.2M255.5 56.1l-1.1 -1.7M226.1 31.7l-1.5 0.7M222.1 55.9l1.7 1.3M259.1 33.0l1.7 0.4M256.3 50.4l-0.6 -0.4M258.8 53.1l1.5 1.6M263.5 48.9l-0.4 2.3M233.0 19.2l1.8 -1.5M208.4 40.3l-0.7 0.1M276.3 60.0l1.9 0.4M272.4 70.8l-0.7 1.9M235.2 34.8l1.5 -1.6M225.6 55.1l1.3 1.7M227.5 45.5l2.9 -0.6M266.2 40.1l-0.4 -0.9M222.1 32.9l2.5 -1.6M257.2 52.8l0.8 0.8M229.3 46.0l0.1 1.2M264.7 33.0l1.3 -2.2M219.9 56.1l1.2 0.1M261.7 70.9l-1.7 -0.8M238.1 79.8l1.6 1.2M208.6 76.1l-0.9 0.9M267.2 68.8l-0.1 -1.0M239.1 64.8l-0.3 1.3M257.2 57.9l-0.6 -2.1M236.1 49.0l-2.8 0.1M223.9 77.1l-1.1 -1.7M221.6 71.5l1.8 -0.4M229.1 69.5l1.0 2.5M239.0 81.8l-1.1 0.2M266.6 65.3l-0.8 0.7M218.4 72.8l1.2 0.9M238.2 96.7l-2.4 1.7M260.0 54.2l0.1 1.0M239.8 68.8l-1.0 0.1M250.3 45.0l0.3 -1.5M232.4 23.6l-1.8 -1.8M231.1 60.6l-0.7 1.3M260.0 56.3l-0.8 -0.3M239.6 41.0l-2.3 -0.3M244.1 57.4l-2.6 1.4M257.9 48.1l-0.7 1.0M247.3 54.3l-0.2 -1.9M210.1 72.6l-0.2 -0.7M208.4 87.1l-2.8 0.9M232.7 54.6l0.2 1.3M232.1 62.4l-0.4 -0.9M208.5 57.5l1.9 0.9M265.4 35.3l0.2 -1.9M223.8 40.6l1.9 -1.7M232.6 70.9l1.4 0.6M252.9 28.6l0.6 -0.8M205.8 24.2l-0.4 1.9M254.7 40.3l-1.0 1.7M210.2 67.5l1.0 -0.5M246.4 32.5l-0.2 2.1M238.4 61.5l-0.4 1.8M227.6 65.4l-0.3 -1.8M226.5 53.3l2.3 1.6M208.0 49.3l2.8 0.6M218.1 94.7l-1.8 -1.1" stroke="#9a6c3c" stroke-width="0.9" stroke-linecap="round" fill="none" opacity="0.8"/>
<path d="M265.6 76.4h.01M204.6 78.9h.01M247.2 38.8h.01M278.8 67.2h.01M206.5 47.7h.01M260.0 51.8h.01M219.8 82.1h.01M275.7 86.6h.01M221.4 72.6h.01M278.7 24.9h.01M202.0 68.9h.01M218.1 28.2h.01M282.2 94.9h.01M274.4 72.7h.01M244.8 90.0h.01M254.1 56.7h.01M263.5 50.7h.01M266.2 95.0h.01M201.4 44.8h.01M206.8 87.0h.01M215.4 25.4h.01M229.7 57.6h.01M230.2 57.9h.01M211.8 68.1h.01M212.9 18.1h.01M215.8 39.7h.01M274.2 29.0h.01M207.6 73.9h.01M254.6 76.3h.01M261.4 82.2h.01M271.5 79.5h.01M215.2 70.2h.01M275.1 66.5h.01M273.6 77.3h.01M204.6 19.2h.01M270.2 48.4h.01M211.9 33.5h.01M234.8 32.8h.01M212.7 88.0h.01M235.2 47.7h.01M271.1 75.7h.01M280.2 36.8h.01M254.8 91.3h.01M258.1 84.8h.01M280.8 93.4h.01M216.1 78.9h.01M229.0 95.5h.01M206.8 71.7h.01M279.2 43.7h.01M275.7 77.1h.01M261.8 47.9h.01M273.8 70.7h.01M207.2 69.5h.01M220.8 21.2h.01M253.7 65.9h.01M268.8 91.5h.01M216.5 24.2h.01M280.4 42.8h.01M264.8 42.0h.01M274.5 82.4h.01M253.1 19.5h.01M265.8 18.4h.01M207.0 64.2h.01M275.6 95.4h.01M231.0 81.1h.01M277.7 44.3h.01M222.1 75.4h.01M212.7 31.2h.01M267.0 36.1h.01M222.5 81.2h.01M237.3 72.3h.01M255.3 49.5h.01M264.7 84.7h.01M244.6 30.3h.01M208.3 26.2h.01M216.9 64.7h.01M206.6 35.0h.01M201.9 19.4h.01M271.7 86.7h.01M203.2 86.2h.01M228.1 29.4h.01M259.3 90.1h.01M219.5 59.5h.01M264.9 97.5h.01M273.8 45.7h.01M215.6 36.9h.01M280.8 61.9h.01M238.3 59.2h.01M273.8 51.1h.01M258.7 66.3h.01M249.4 68.0h.01M205.8 85.3h.01M223.4 37.3h.01M248.1 56.8h.01M275.5 37.0h.01M218.0 39.1h.01M259.5 35.5h.01M231.3 30.6h.01M253.3 58.6h.01M275.7 60.1h.01M234.4 81.9h.01M250.1 39.2h.01M234.5 86.5h.01M259.1 94.2h.01M280.2 45.4h.01M273.2 84.3h.01M217.8 30.7h.01M238.8 20.1h.01M242.7 21.7h.01M271.3 57.0h.01M245.2 54.9h.01M274.7 23.4h.01M267.0 52.8h.01M239.9 29.2h.01M205.4 47.9h.01M201.4 28.3h.01M245.6 96.1h.01M279.0 72.9h.01M205.4 29.2h.01M255.2 41.2h.01M253.4 92.1h.01M282.5 60.2h.01M217.8 36.4h.01M218.3 35.4h.01M220.7 70.6h.01M223.0 51.0h.01M205.5 24.6h.01M256.2 21.3h.01M273.7 66.7h.01M205.7 29.9h.01M218.2 43.9h.01M264.8 53.3h.01M204.8 73.0h.01M225.0 24.0h.01M270.0 37.3h.01M273.5 36.3h.01M277.5 54.7h.01M279.2 86.7h.01M258.9 35.3h.01M273.2 94.3h.01M280.3 39.3h.01M266.7 89.5h.01M251.2 87.4h.01M242.6 91.0h.01M265.9 82.2h.01M257.4 72.9h.01M281.6 46.8h.01M246.1 85.8h.01M259.1 17.8h.01M251.3 51.9h.01M271.6 91.1h.01M222.4 25.3h.01M249.4 29.0h.01M242.1 31.1h.01M274.2 68.0h.01M253.0 21.2h.01M265.2 32.2h.01M254.3 71.6h.01M256.8 90.8h.01M279.2 37.4h.01M218.4 26.7h.01M278.3 41.0h.01M276.7 96.2h.01M230.0 83.5h.01M202.1 22.4h.01M270.6 56.5h.01M228.9 21.1h.01M278.7 95.4h.01M213.8 22.5h.01M281.8 21.4h.01M265.9 31.7h.01M281.1 80.9h.01M216.5 70.3h.01M236.8 29.4h.01M201.6 45.8h.01M246.3 30.6h.01M280.2 69.5h.01M280.3 24.5h.01M270.6 30.7h.01M281.9 19.4h.01" stroke="#b9c0d6" stroke-width="2.0" stroke-linecap="round" fill="none" opacity="0.95"/>
<path d="M278.4 55.1h.01M250.6 88.3h.01M265.5 26.8h.01M211.2 46.4h.01M254.8 92.7h.01M222.9 17.7h.01M260.1 81.5h.01M237.2 50.3h.01M274.4 88.9h.01M212.4 56.0h.01M238.8 54.3h.01M226.0 21.6h.01M205.3 90.3h.01M245.5 81.4h.01M241.7 18.5h.01M279.1 35.0h.01M270.9 39.2h.01M278.8 18.9h.01M272.9 89.6h.01M214.2 68.6h.01M282.3 70.8h.01M279.6 26.6h.01M254.1 18.7h.01M210.8 97.7h.01M253.0 61.0h.01M277.4 63.4h.01M222.7 29.7h.01M204.1 33.5h.01M233.1 78.4h.01M226.9 33.9h.01M275.7 42.7h.01M273.4 74.6h.01M269.7 92.6h.01M225.2 22.4h.01M248.3 38.7h.01M232.0 32.3h.01M245.5 32.9h.01M244.2 92.9h.01M229.5 20.1h.01M229.3 26.6h.01M252.7 22.3h.01M233.6 59.8h.01M252.5 55.8h.01M278.0 73.8h.01M222.9 73.9h.01M259.1 79.2h.01M218.0 68.5h.01M273.4 91.9h.01M275.3 79.7h.01M245.7 88.8h.01M257.4 42.3h.01M219.3 89.3h.01M216.9 63.7h.01M282.2 67.0h.01M226.5 26.3h.01M222.4 84.0h.01M208.7 89.7h.01M258.4 81.1h.01M273.8 78.9h.01M224.2 30.1h.01M245.4 59.5h.01M244.5 23.7h.01M255.8 29.5h.01M212.2 88.2h.01M277.1 91.1h.01M224.3 72.1h.01M280.4 73.0h.01M212.6 25.8h.01M277.6 80.7h.01M267.2 18.1h.01M254.8 97.4h.01M251.8 27.5h.01M274.3 62.2h.01M238.7 46.1h.01M219.1 32.3h.01M258.1 84.1h.01M265.5 96.3h.01M249.5 91.1h.01M279.6 55.7h.01M203.7 43.4h.01M202.2 52.6h.01M205.7 41.2h.01M235.9 63.1h.01M251.2 66.5h.01M272.8 33.0h.01M233.9 18.1h.01M254.8 69.8h.01M245.5 97.4h.01M206.5 65.1h.01M225.2 46.6h.01M261.1 46.2h.01M280.7 88.8h.01M237.2 52.3h.01M219.5 88.3h.01M248.1 46.3h.01M220.4 25.6h.01M227.1 83.5h.01M242.2 58.1h.01M215.1 87.9h.01M209.0 29.4h.01M207.3 24.3h.01M227.9 31.3h.01M261.8 95.9h.01M259.2 54.4h.01M226.9 44.6h.01M265.9 24.6h.01M251.4 69.7h.01M202.5 83.0h.01M207.6 65.3h.01M269.7 85.2h.01M204.4 73.9h.01M232.1 30.6h.01M274.9 75.7h.01M270.7 96.8h.01M271.2 41.8h.01M261.0 90.9h.01M225.6 21.7h.01M281.6 32.9h.01M240.8 44.3h.01M278.7 57.4h.01M282.2 22.5h.01M205.1 95.4h.01M257.8 68.3h.01M238.9 51.3h.01M280.4 60.9h.01M257.6 25.7h.01M211.3 73.7h.01M277.7 87.6h.01M259.6 51.9h.01M238.9 92.7h.01M210.1 72.7h.01M214.1 91.1h.01M276.9 21.5h.01M259.9 55.2h.01M273.2 77.5h.01M209.3 22.9h.01M213.6 35.6h.01M264.6 24.7h.01M262.3 82.2h.01M277.2 51.6h.01M249.6 19.0h.01M253.3 97.3h.01M202.7 66.7h.01M218.7 74.5h.01M278.4 97.3h.01M278.1 95.0h.01M267.2 91.4h.01M208.0 60.3h.01M272.2 56.6h.01M232.1 39.4h.01M262.4 57.7h.01M252.9 77.3h.01M263.7 64.2h.01M278.7 83.0h.01M249.3 37.0h.01M271.4 39.3h.01M246.0 18.7h.01M272.3 76.5h.01M263.9 74.8h.01M278.0 40.8h.01M209.3 57.7h.01M210.4 28.6h.01M280.0 22.8h.01M212.9 22.0h.01M202.4 29.4h.01M234.4 43.2h.01M267.7 25.7h.01M213.0 69.9h.01M217.3 96.8h.01M256.9 64.3h.01M268.0 22.4h.01M238.3 28.6h.01M202.5 90.5h.01M267.0 33.9h.01M213.5 25.9h.01M246.4 32.4h.01M275.7 54.9h.01M206.2 56.7h.01M217.5 32.5h.01M214.2 92.4h.01M226.1 23.0h.01M269.3 53.5h.01M219.6 81.4h.01M249.3 20.4h.01M280.6 63.5h.01" stroke="#a0aacc" stroke-width="1.6" stroke-linecap="round" fill="none" opacity="0.95"/>
<path d="M252.0 95.8h.01M219.7 71.0h.01M230.1 81.9h.01M211.8 49.8h.01M271.1 88.8h.01M239.1 95.3h.01M269.3 71.1h.01M254.1 87.4h.01M236.1 69.1h.01M210.6 70.8h.01M204.4 30.3h.01M257.7 28.0h.01M269.5 32.7h.01M279.3 37.7h.01M268.6 69.8h.01M242.9 83.0h.01M233.4 96.3h.01M205.5 56.3h.01M217.4 30.6h.01M214.1 60.7h.01M253.9 26.6h.01M270.3 18.6h.01M221.0 89.7h.01M206.7 21.1h.01M278.3 89.6h.01M205.2 68.3h.01M273.9 91.2h.01M264.5 79.9h.01M232.2 75.3h.01M248.9 66.9h.01M275.9 67.8h.01M253.1 29.0h.01M248.6 77.9h.01M257.9 44.2h.01M210.2 92.1h.01M247.6 21.1h.01M236.4 24.5h.01M261.4 22.7h.01M220.2 35.1h.01M220.4 30.1h.01M212.3 37.7h.01M270.4 85.3h.01M205.9 36.2h.01M210.7 28.1h.01M202.6 75.8h.01M253.0 34.4h.01M258.7 74.6h.01M204.1 63.5h.01M229.4 87.1h.01M247.5 94.0h.01M254.2 21.8h.01M210.6 72.9h.01M221.8 64.3h.01M272.1 23.8h.01M245.9 73.0h.01M278.5 72.2h.01M267.3 65.2h.01M254.5 76.4h.01M282.0 55.9h.01M234.1 59.3h.01M239.8 88.2h.01M201.7 23.8h.01M272.3 32.7h.01M226.5 44.7h.01M266.0 47.6h.01M218.2 57.0h.01M227.8 25.8h.01M244.2 43.7h.01M272.3 22.1h.01M225.2 21.9h.01M237.2 72.7h.01M231.7 55.8h.01M221.1 36.6h.01M268.5 93.8h.01M249.4 81.2h.01M248.2 41.3h.01M202.8 32.4h.01M262.0 93.9h.01M259.6 83.3h.01M263.2 73.4h.01M204.0 70.3h.01M259.8 93.4h.01M276.1 74.8h.01M263.7 44.6h.01M208.6 29.9h.01M259.2 40.3h.01M255.6 38.0h.01M250.1 27.7h.01M250.4 92.8h.01M219.4 46.9h.01M259.7 79.7h.01M221.1 20.2h.01M215.4 29.5h.01M277.6 89.5h.01M247.9 50.4h.01M221.8 69.6h.01M279.3 40.3h.01M278.6 28.5h.01M248.7 93.7h.01M236.5 22.2h.01M219.8 45.5h.01M255.9 75.1h.01M207.4 71.6h.01M269.7 85.1h.01M254.0 66.8h.01M256.9 28.6h.01M208.2 24.7h.01M275.4 93.0h.01M214.0 24.0h.01M258.4 21.4h.01M230.2 75.9h.01M260.0 94.3h.01M234.1 76.9h.01M270.2 97.4h.01M282.1 82.4h.01M232.4 70.8h.01M251.8 65.0h.01M260.1 96.1h.01M249.2 79.4h.01M262.3 81.6h.01M246.6 86.9h.01M207.1 88.8h.01M258.8 65.0h.01M211.1 73.3h.01M278.5 49.9h.01M259.8 89.8h.01M225.7 20.2h.01M245.5 67.5h.01M203.5 88.1h.01" stroke="#8e99c2" stroke-width="1.4" stroke-linecap="round" fill="none" opacity="0.95"/>
</g></g>
<text x="202.8" y="26.8" style="font-size:9.4px;font-weight:bold;" fill="#000">EMT6 B7-H4+</text>
</g>
<g id="panelC">
<text x="291" y="10.8" style="font-size:10.8px;font-weight:bold;" fill="#000">C</text>
<g fill="#fff" stroke="#2a2a2a" stroke-width="0.55" stroke-linecap="round" stroke-linejoin="round">
<path d="M318.6 27.4 C317 25.2 314.8 24.6 312.6 25.6 C309.6 27 307.6 29.6 303.8 29.6" fill="none" stroke-width="1.3"/>
<path d="M318.6 27.4 C317 25.2 314.8 24.6 312.6 25.6 C309.6 27 307.6 29.6 303.8 29.6" fill="none" stroke="#fff" stroke-width="0.45"/>
<circle cx="320.8" cy="34.4" r="8.9"/>
<path d="M312.3 40.6 C311.4 37.6 313 35.8 315.2 36 C317.2 36.2 318.6 37.8 318.8 39.6"/>
<path d="M329.2 40.6 C330.1 37.6 328.5 35.8 326.3 36 C324.3 36.2 322.9 37.8 322.7 39.6"/>
<path d="M312.3 40.6 C313.6 44.2 317 47.4 320.7 48 C324.4 47.4 327.9 44.2 329.2 40.6" />
<path d="M317.4 45.6 L313.6 45.4 M317.6 46.4 L314 47.8 M318.2 47 L315.6 49.2 M324 45.6 L327.8 45.4 M323.8 46.4 L327.4 47.8 M323.2 47 L325.8 49.2" fill="none" stroke="#999" stroke-width="0.35"/>
</g>
<circle cx="318" cy="43.7" r="0.75" fill="#111"/><circle cx="323.3" cy="43.7" r="0.75" fill="#111"/>
<path d="M319.1 46.9 L322.3 46.9 L320.7 48.5 Z" fill="#111"/>
<g transform="translate(307.4 41.6) rotate(177)"><path d="M0 0 L3.8 -2.5" stroke="#000" stroke-width="0.6" fill="none"/><path d="M3.3 -3.0 L4.0 -1.8 L10.3 -5.8 L9.6 -7.0 Z" fill="#222" stroke="#000" stroke-width="0.45" stroke-linejoin="round"/></g>
<text x="299.7" y="56.4" style="font-size:7.6px;" fill="#1c1c1c">Inject 5x10<tspan dy="-2.6" font-size="4.2">6</tspan></text>
<text x="318.6" y="65.1" style="font-size:7.5px;" fill="#1c1c1c" text-anchor="middle">orthotopically</text>
<text x="321.6" y="80.5" style="font-size:6.5px;font-weight:bold;" fill="#2e9a2e" text-anchor="middle">EMT6-B7-H4<tspan dy="-2" font-size="5">+</tspan></text>
<text x="321.3" y="88.9" style="font-size:6.3px;font-weight:bold;" fill="#1c1cf0" text-anchor="middle">EMT6 parental</text>
<path d="M330.4 71 H510.6" stroke="#000" stroke-width="1.9"/>
<path d="M330.8 68.7 V74.1" stroke="#000" stroke-width="1.5"/>
<path d="M380.8 68.7 V74.1" stroke="#000" stroke-width="1.5"/>
<path d="M404.2 68.7 V74.1" stroke="#000" stroke-width="1.5"/>
<path d="M427.6 68.7 V74.1" stroke="#000" stroke-width="1.5"/>
<path d="M451 68.7 V74.1" stroke="#000" stroke-width="1.5"/>
<path d="M510.2 68.7 V74.1" stroke="#000" stroke-width="1.5"/>
<use href="#syr" transform="translate(378.2 67.8)"/>
<use href="#syr" transform="translate(401.6 67.8)"/>
<use href="#syr" transform="translate(425.0 67.8)"/>
<use href="#syr" transform="translate(448.4 67.8)"/>
<text x="367.4" y="82.6" style="font-size:7.35px;font-weight:bold;" fill="#000">100mm<tspan dy="-2.6" font-size="4.5">3</tspan></text>
<text x="417.8" y="42.1" style="font-size:7.5px;" fill="#1c1c1c" text-anchor="middle">anti-PD-L1 x1 weekly</text>
<text x="418.2" y="51.1" style="font-size:7.5px;" fill="#1c1c1c" text-anchor="middle">4 weeks</text>
<text x="492.3" y="82" style="font-size:7.3px;font-weight:bold;" fill="#000">Harvest</text>
<text x="505.7" y="90.8" style="font-size:7.1px;font-weight:bold;" fill="#000" text-anchor="middle">tumors</text>
</g>
<g id="panelD">
<text x="17.2" y="139.5" style="font-size:10.8px;font-weight:bold;" fill="#000">D</text>
<path d="M53.7 147 V282.6" stroke="#000" stroke-width="1.2"/>
<path d="M53.1 282 H143.3" stroke="#000" stroke-width="1.2"/>
<path d="M47.5 282.0 H53.7" stroke="#000" stroke-width="1.2"/>
<text x="45.6" y="285.2" style="font-size:9.2px;font-weight:bold;" fill="#000" text-anchor="end">0</text>
<path d="M47.5 237.1 H53.7" stroke="#000" stroke-width="1.2"/>
<text x="45.6" y="240.3" style="font-size:9.2px;font-weight:bold;" fill="#000" text-anchor="end">500</text>
<path d="M47.5 192.2 H53.7" stroke="#000" stroke-width="1.2"/>
<text x="45.6" y="195.4" style="font-size:9.2px;font-weight:bold;" fill="#000" text-anchor="end">1,000</text>
<path d="M47.5 147.3 H53.7" stroke="#000" stroke-width="1.2"/>
<text x="45.6" y="150.5" style="font-size:9.2px;font-weight:bold;" fill="#000" text-anchor="end">1,500</text>
<path d="M53.7 282 V286" stroke="#000" stroke-width="1.1"/>
<text x="53.7" y="296.3" style="font-size:7px;font-weight:bold;" fill="#000" text-anchor="middle">0</text>
<path d="M71.5 282 V286" stroke="#000" stroke-width="1.1"/>
<text x="71.5" y="296.3" style="font-size:7px;font-weight:bold;" fill="#000" text-anchor="middle">5</text>
<path d="M89.4 282 V286" stroke="#000" stroke-width="1.1"/>
<text x="89.4" y="296.3" style="font-size:7px;font-weight:bold;" fill="#000" text-anchor="middle">10</text>
<path d="M107.2 282 V286" stroke="#000" stroke-width="1.1"/>
<text x="107.2" y="296.3" style="font-size:7px;font-weight:bold;" fill="#000" text-anchor="middle">15</text>
<path d="M125.1 282 V286" stroke="#000" stroke-width="1.1"/>
<text x="125.1" y="296.3" style="font-size:7px;font-weight:bold;" fill="#000" text-anchor="middle">20</text>
<path d="M142.9 282 V286" stroke="#000" stroke-width="1.1"/>
<text x="142.9" y="296.3" style="font-size:7px;font-weight:bold;" fill="#000" text-anchor="middle">25</text>
<text x="98.3" y="309" style="font-size:7.4px;font-weight:bold;" fill="#000" text-anchor="middle">Days post treatment initiation</text>
<text x="17.2" y="214.7" style="font-size:8.55px;font-weight:bold;" fill="#000" text-anchor="middle" transform="rotate(-90 17.2 214.7)" xml:space="preserve">Tumor  volume (mm<tspan dy="-2.5" font-size="5.5">3</tspan><tspan dy="2.5">) ± SEM</tspan></text>
<path d="M57.3 271.4V273.6M55.6 271.4h3.4M55.6 273.6h3.4M68.0 262.2V266.6M66.3 262.2h3.4M66.3 266.6h3.4M75.1 261.9V266.9M73.4 261.9h3.4M73.4 266.9h3.4M82.3 259.9V265.3M80.6 259.9h3.4M80.6 265.3h3.4M93.0 254.9V263.0M91.3 254.9h3.4M91.3 263.0h3.4M100.1 246.1V258.7M98.4 246.1h3.4M98.4 258.7h3.4M107.2 244.9V258.4M105.5 244.9h3.4M105.5 258.4h3.4M118.0 235.3V253.3M116.3 235.3h3.4M116.3 253.3h3.4M125.1 226.9V249.3M123.4 226.9h3.4M123.4 249.3h3.4M132.2 220.9V244.3M130.5 220.9h3.4M130.5 244.3h3.4" stroke="#1a1af5" stroke-width="0.85" fill="none"/>
<polyline points="57.3,272.5 68.0,264.4 75.1,264.4 82.3,262.6 93.0,258.9 100.1,252.4 107.2,251.6 118.0,244.3 125.1,238.1 132.2,232.6" fill="none" stroke="#1a1af5" stroke-width="1.05" stroke-dasharray="1.3 1.9"/>
<circle cx="57.3" cy="272.5" r="2.05" fill="#1a1af5"/>
<circle cx="68.0" cy="264.4" r="2.05" fill="#1a1af5"/>
<circle cx="75.1" cy="264.4" r="2.05" fill="#1a1af5"/>
<circle cx="82.3" cy="262.6" r="2.05" fill="#1a1af5"/>
<circle cx="93.0" cy="258.9" r="2.05" fill="#1a1af5"/>
<circle cx="100.1" cy="252.4" r="2.05" fill="#1a1af5"/>
<circle cx="107.2" cy="251.6" r="2.05" fill="#1a1af5"/>
<circle cx="118.0" cy="244.3" r="2.05" fill="#1a1af5"/>
<circle cx="125.1" cy="238.1" r="2.05" fill="#1a1af5"/>
<circle cx="132.2" cy="232.6" r="2.05" fill="#1a1af5"/>
<path d="M57.3 269.3V272.0M55.6 269.3h3.4M55.6 272.0h3.4M68.0 259.9V265.3M66.3 259.9h3.4M66.3 265.3h3.4M75.1 257.7V264.0M73.4 257.7h3.4M73.4 264.0h3.4M82.3 248.2V257.2M80.6 248.2h3.4M80.6 257.2h3.4M93.0 237.1V251.5M91.3 237.1h3.4M91.3 251.5h3.4M100.1 231.8V248.0M98.4 231.8h3.4M98.4 248.0h3.4M107.2 224.3V242.3M105.5 224.3h3.4M105.5 242.3h3.4M118.0 209.3V231.7M116.3 209.3h3.4M116.3 231.7h3.4M125.1 193.3V218.4M123.4 193.3h3.4M123.4 218.4h3.4M132.2 183.9V210.9M130.5 183.9h3.4M130.5 210.9h3.4" stroke="#1c841c" stroke-width="0.85" fill="none"/>
<polyline points="57.3,270.7 68.0,262.6 75.1,260.8 82.3,252.7 93.0,244.3 100.1,239.9 107.2,233.3 118.0,220.5 125.1,205.8 132.2,197.4" fill="none" stroke="#1c841c" stroke-width="1.05" stroke-dasharray="1.3 1.9"/>
<circle cx="57.3" cy="270.7" r="2.05" fill="#1c841c"/>
<circle cx="68.0" cy="262.6" r="2.05" fill="#1c841c"/>
<circle cx="75.1" cy="260.8" r="2.05" fill="#1c841c"/>
<circle cx="82.3" cy="252.7" r="2.05" fill="#1c841c"/>
<circle cx="93.0" cy="244.3" r="2.05" fill="#1c841c"/>
<circle cx="100.1" cy="239.9" r="2.05" fill="#1c841c"/>
<circle cx="107.2" cy="233.3" r="2.05" fill="#1c841c"/>
<circle cx="118.0" cy="220.5" r="2.05" fill="#1c841c"/>
<circle cx="125.1" cy="205.8" r="2.05" fill="#1c841c"/>
<circle cx="132.2" cy="197.4" r="2.05" fill="#1c841c"/>
<path d="M57.3 268.5V271.2M55.6 268.5h3.4M55.6 271.2h3.4M68.0 256.2V261.6M66.3 256.2h3.4M66.3 261.6h3.4M75.1 255.1V261.3M73.4 255.1h3.4M73.4 261.3h3.4M82.3 237.5V247.4M80.6 237.5h3.4M80.6 247.4h3.4M93.0 221.3V236.6M91.3 221.3h3.4M91.3 236.6h3.4M100.1 213.8V230.9M98.4 213.8h3.4M98.4 230.9h3.4M107.2 200.6V218.5M105.5 200.6h3.4M105.5 218.5h3.4M118.0 183.2V203.0M116.3 183.2h3.4M116.3 203.0h3.4M125.1 172.4V193.1M123.4 172.4h3.4M123.4 193.1h3.4M132.2 166.7V186.5M130.5 166.7h3.4M130.5 186.5h3.4" stroke="#1a1af5" stroke-width="0.85" fill="none"/>
<polyline points="57.3,269.9 68.0,258.9 75.1,258.2 82.3,242.5 93.0,228.9 100.1,222.4 107.2,209.5 118.0,193.1 125.1,182.8 132.2,176.6" fill="none" stroke="#1a1af5" stroke-width="1.05"/>
<path d="M57.3 267.5l2.2 3.9h-4.4Z" fill="#1a1af5"/>
<path d="M68.0 256.5l2.2 3.9h-4.4Z" fill="#1a1af5"/>
<path d="M75.1 255.8l2.2 3.9h-4.4Z" fill="#1a1af5"/>
<path d="M82.3 240.1l2.2 3.9h-4.4Z" fill="#1a1af5"/>
<path d="M93.0 226.5l2.2 3.9h-4.4Z" fill="#1a1af5"/>
<path d="M100.1 220.0l2.2 3.9h-4.4Z" fill="#1a1af5"/>
<path d="M107.2 207.1l2.2 3.9h-4.4Z" fill="#1a1af5"/>
<path d="M118.0 190.7l2.2 3.9h-4.4Z" fill="#1a1af5"/>
<path d="M125.1 180.4l2.2 3.9h-4.4Z" fill="#1a1af5"/>
<path d="M132.2 174.2l2.2 3.9h-4.4Z" fill="#1a1af5"/>
<path d="M57.3 266.7V269.4M55.6 266.7h3.4M55.6 269.4h3.4M68.0 256.9V262.3M66.3 256.9h3.4M66.3 262.3h3.4M75.1 254.0V260.3M73.4 254.0h3.4M73.4 260.3h3.4M82.3 239.8V248.8M80.6 239.8h3.4M80.6 248.8h3.4M93.0 223.2V237.5M91.3 223.2h3.4M91.3 237.5h3.4M100.1 215.4V231.5M98.4 215.4h3.4M98.4 231.5h3.4M107.2 204.7V221.7M105.5 204.7h3.4M105.5 221.7h3.4M118.0 172.2V191.9M116.3 172.2h3.4M116.3 191.9h3.4M125.1 162.6V183.2M123.4 162.6h3.4M123.4 183.2h3.4M132.2 160.1V179.9M130.5 160.1h3.4M130.5 179.9h3.4" stroke="#1c841c" stroke-width="0.85" fill="none"/>
<polyline points="57.3,268.1 68.0,259.6 75.1,257.1 82.3,244.3 93.0,230.4 100.1,223.5 107.2,213.2 118.0,182.1 125.1,172.9 132.2,170.0" fill="none" stroke="#1c841c" stroke-width="1.05"/>
<path d="M57.3 265.7l2.2 3.9h-4.4Z" fill="#1c841c"/>
<path d="M68.0 257.2l2.2 3.9h-4.4Z" fill="#1c841c"/>
<path d="M75.1 254.7l2.2 3.9h-4.4Z" fill="#1c841c"/>
<path d="M82.3 241.9l2.2 3.9h-4.4Z" fill="#1c841c"/>
<path d="M93.0 228.0l2.2 3.9h-4.4Z" fill="#1c841c"/>
<path d="M100.1 221.1l2.2 3.9h-4.4Z" fill="#1c841c"/>
<path d="M107.2 210.8l2.2 3.9h-4.4Z" fill="#1c841c"/>
<path d="M118.0 179.7l2.2 3.9h-4.4Z" fill="#1c841c"/>
<path d="M125.1 170.5l2.2 3.9h-4.4Z" fill="#1c841c"/>
<path d="M132.2 167.6l2.2 3.9h-4.4Z" fill="#1c841c"/>
<path d="M136.4 199.8 H143.4 V229 H136.4" fill="none" stroke="#000" stroke-width="1.3"/>
<text x="145.8" y="217" style="font-size:8.5px;" fill="#1a1a1a"><tspan font-style="italic">P</tspan> = 0.0174</text>
<path d="M143.4 238.2 H158.6" stroke="#1a1af5" stroke-width="1.05"/>
<path d="M151 235.8l2.2 3.9h-4.4Z" fill="#1a1af5"/>
<text x="165.6" y="240.8" style="font-size:7.4px;" fill="#1a1a1a">EMT6 IgG1</text>
<path d="M143.4 248.8 H158.6" stroke="#1a1af5" stroke-width="1.05" stroke-dasharray="1.3 1.9"/>
<circle cx="151" cy="248.8" r="2.05" fill="#1a1af5"/>
<text x="165.6" y="251.4" style="font-size:7.4px;" fill="#1a1a1a">EMT6 anti-PD-L1</text>
<path d="M143.4 259.4 H158.6" stroke="#1c841c" stroke-width="1.05"/>
<path d="M151 257.0l2.2 3.9h-4.4Z" fill="#1c841c"/>
<text x="165.6" y="262.0" style="font-size:7.4px;" fill="#1a1a1a">EMT6 B7-H4+ IgG1</text>
<path d="M143.4 270 H158.6" stroke="#1c841c" stroke-width="1.05" stroke-dasharray="1.3 1.9"/>
<circle cx="151" cy="270" r="2.05" fill="#1c841c"/>
<text x="165.6" y="272.6" style="font-size:7.4px;" fill="#1a1a1a">EMT6 B7-H4+ anti-PD-L1</text>
</g>
<g id="panelE">
<text x="254.8" y="138.9" style="font-size:10.8px;font-weight:bold;" fill="#000">E</text>
<text x="327.1" y="145.3" style="font-size:7.4px;font-weight:bold;" fill="#000" text-anchor="middle">EMT6 tumors + anti-PD-L1</text>
<path d="M282.5 156.2 V246.4" stroke="#000" stroke-width="0.9"/>
<path d="M282.1 246 H372.0" stroke="#000" stroke-width="0.9"/>
<path d="M279.1 246.0 H282.5" stroke="#000" stroke-width="0.9"/>
<text x="277.7" y="248.2" style="font-size:6.6px;font-weight:bold;" fill="#000" text-anchor="end">0</text>
<path d="M279.1 228.1 H282.5" stroke="#000" stroke-width="0.9"/>
<text x="277.7" y="230.3" style="font-size:6.6px;font-weight:bold;" fill="#000" text-anchor="end">500</text>
<path d="M279.1 210.2 H282.5" stroke="#000" stroke-width="0.9"/>
<text x="277.7" y="212.4" style="font-size:6.6px;font-weight:bold;" fill="#000" text-anchor="end">1,000</text>
<path d="M279.1 192.3 H282.5" stroke="#000" stroke-width="0.9"/>
<text x="277.7" y="194.5" style="font-size:6.6px;font-weight:bold;" fill="#000" text-anchor="end">1,500</text>
<path d="M279.1 174.4 H282.5" stroke="#000" stroke-width="0.9"/>
<text x="277.7" y="176.6" style="font-size:6.6px;font-weight:bold;" fill="#000" text-anchor="end">2,000</text>
<path d="M279.1 156.5 H282.5" stroke="#000" stroke-width="0.9"/>
<text x="277.7" y="158.7" style="font-size:6.6px;font-weight:bold;" fill="#000" text-anchor="end">2,500</text>
<path d="M282.5 246 V249.6" stroke="#000" stroke-width="0.9"/>
<text x="282.5" y="256.3" style="font-size:5px;font-weight:bold;" fill="#000" text-anchor="middle">0</text>
<path d="M297.4 246 V249.6" stroke="#000" stroke-width="0.9"/>
<text x="297.4" y="256.3" style="font-size:5px;font-weight:bold;" fill="#000" text-anchor="middle">10</text>
<path d="M312.2 246 V249.6" stroke="#000" stroke-width="0.9"/>
<text x="312.2" y="256.3" style="font-size:5px;font-weight:bold;" fill="#000" text-anchor="middle">20</text>
<path d="M327.1 246 V249.6" stroke="#000" stroke-width="0.9"/>
<text x="327.1" y="256.3" style="font-size:5px;font-weight:bold;" fill="#000" text-anchor="middle">30</text>
<path d="M341.9 246 V249.6" stroke="#000" stroke-width="0.9"/>
<text x="341.9" y="256.3" style="font-size:5px;font-weight:bold;" fill="#000" text-anchor="middle">40</text>
<path d="M356.8 246 V249.6" stroke="#000" stroke-width="0.9"/>
<text x="356.8" y="256.3" style="font-size:5px;font-weight:bold;" fill="#000" text-anchor="middle">50</text>
<path d="M371.6 246 V249.6" stroke="#000" stroke-width="0.9"/>
<text x="371.6" y="256.3" style="font-size:5px;font-weight:bold;" fill="#000" text-anchor="middle">60</text>
<polyline points="282.8,242.5 289.5,239.2 297.2,239.8 303.0,238.3 306.8,240.6 311.7,242.1 316.5,243.7 321.3,241.2 325.1,237.3 328.4,231.5 330.9,227.1 332.8,221.0 334.3,211.4 335.7,203.7 337.2,196.0 339.2,188.3 342.0,177.7" fill="none" stroke="#1010d8" stroke-width="1.35" stroke-linejoin="round" stroke-linecap="round"/>
<polyline points="282.8,244.0 291.5,242.1 299.2,241.2 306.8,242.5 313.6,244.4 319.3,244.0 324.2,242.1 328.4,239.2 331.8,236.7 333.8,232.5 335.3,229.6 337.6,223.9 339.9,221.0 342.4,216.7 344.7,214.6" fill="none" stroke="#1010d8" stroke-width="1.35" stroke-linejoin="round" stroke-linecap="round"/>
<polyline points="282.8,241.4 289.5,237.9 297.2,238.7 303.0,237.3 306.8,238.7 309.7,234.4 312.6,229.6 314.9,222.9 316.5,215.2 317.8,207.5 319.3,197.9" fill="none" stroke="#1010d8" stroke-width="1.35" stroke-linejoin="round" stroke-linecap="round"/>
<polyline points="282.8,243.3 293.4,241.2 301.1,242.1 308.8,244.0 314.5,243.1 317.4,241.2 319.9,237.3 321.8,232.5 323.0,222.9 323.8,212.9 324.3,227.1 327.0,225.8 329.9,224.4 332.8,221.4" fill="none" stroke="#1010d8" stroke-width="1.35" stroke-linejoin="round" stroke-linecap="round"/>
<polyline points="282.8,242.1 291.5,239.8 299.2,240.6 304.9,239.2 309.7,237.9 313.6,239.2 316.5,236.7 318.8,234.8 320.7,230.6 322.6,232.9" fill="none" stroke="#1010d8" stroke-width="1.35" stroke-linejoin="round" stroke-linecap="round"/>
<polyline points="282.8,244.4 295.3,243.1 304.9,244.4 312.6,245.6 319.3,245.0 323.2,243.1 326.1,241.2 328.4,236.7" fill="none" stroke="#1010d8" stroke-width="1.35" stroke-linejoin="round" stroke-linecap="round"/>
<polyline points="282.8,244.8 297.2,244.0 308.8,245.6 358.8,245.8 361.7,244.4 363.6,242.1 365.5,238.3" fill="none" stroke="#1010d8" stroke-width="1.35" stroke-linejoin="round" stroke-linecap="round"/>
<polyline points="282.8,245.2 301.1,244.8 312.6,245.8 359.7,245.8 362.6,244.8 365.5,243.1" fill="none" stroke="#1010d8" stroke-width="1.35" stroke-linejoin="round" stroke-linecap="round"/>
<polyline points="282.8,240.6 286.7,234.4 289.5,231.5 292.4,227.7 295.3,222.9 298.2,221.0 301.1,216.7 304.0,213.3 306.8,209.0 308.8,201.7 310.3,194.0 311.8,192.1 313.2,184.4 315.1,176.4" fill="none" stroke="#f40d0d" stroke-width="1.35" stroke-linejoin="round" stroke-linecap="round"/>
<polyline points="282.8,238.7 287.6,233.5 291.5,230.6 295.3,228.7 299.2,225.2 303.0,221.9 306.8,217.1 310.7,212.3 313.6,206.5 315.5,200.8 317.4,194.0 319.3,185.4" fill="none" stroke="#f40d0d" stroke-width="1.35" stroke-linejoin="round" stroke-linecap="round"/>
<polyline points="282.8,241.4 285.7,236.4 288.6,232.5 291.5,227.1 293.4,226.4 295.3,220.0 297.2,211.4 298.8,209.0 299.9,209.8 301.1,199.0 304.5,198.9" fill="none" stroke="#f40d0d" stroke-width="1.35" stroke-linejoin="round" stroke-linecap="round"/>
<polyline points="282.8,239.4 286.7,232.5 290.5,228.7 294.3,227.1 297.2,226.4 300.1,222.9 303.0,218.7 305.9,213.3 308.4,208.5 310.3,203.3 312.2,191.2 313.2,198.9" fill="none" stroke="#f40d0d" stroke-width="1.35" stroke-linejoin="round" stroke-linecap="round"/>
<polyline points="282.8,241.7 287.6,236.7 292.4,232.9 297.2,230.6 301.1,227.7 304.9,222.9 308.8,218.1 311.7,213.3 314.5,210.6 316.5,211.0" fill="none" stroke="#f40d0d" stroke-width="1.35" stroke-linejoin="round" stroke-linecap="round"/>
<polyline points="282.8,237.9 285.7,232.9 288.6,229.6 291.5,226.4 293.4,227.1 296.3,222.9 299.2,215.6 300.7,208.7 302.2,209.0" fill="none" stroke="#f40d0d" stroke-width="1.35" stroke-linejoin="round" stroke-linecap="round"/>
<polyline points="282.8,242.5 288.6,238.3 293.4,234.8 298.2,232.5 302.0,229.6 305.9,225.2 309.7,221.0 312.6,215.6 314.5,209.0 316.1,203.7 317.4,197.9" fill="none" stroke="#f40d0d" stroke-width="1.35" stroke-linejoin="round" stroke-linecap="round"/>
<polyline points="282.8,240.2 289.5,235.4 295.3,232.5 300.1,230.6 304.0,227.1 306.8,223.9 309.7,220.0 312.6,216.2 314.9,215.6" fill="none" stroke="#f40d0d" stroke-width="1.35" stroke-linejoin="round" stroke-linecap="round"/>
<polyline points="282.8,239.0 286.7,234.8 289.9,230.6 293.0,228.7 295.7,223.9 298.8,221.4 301.5,216.2 304.5,214.2 306.8,210.4 309.7,208.5 311.7,203.7" fill="none" stroke="#f40d0d" stroke-width="1.35" stroke-linejoin="round" stroke-linecap="round"/>
<polyline points="282.8,242.1 289.5,239.2 296.3,237.5 302.0,234.4 306.8,232.1 310.7,227.7 313.6,224.4 315.9,221.0" fill="none" stroke="#f40d0d" stroke-width="1.35" stroke-linejoin="round" stroke-linecap="round"/>
<polyline points="282.8,241.2 288.6,237.9 294.3,236.0 299.2,232.9 304.0,230.2 307.8,225.8 311.7,221.4 314.5,217.1 316.8,211.4" fill="none" stroke="#f40d0d" stroke-width="1.35" stroke-linejoin="round" stroke-linecap="round"/>
<polyline points="282.8,241.2 285.7,238.3 288.6,236.7 291.5,238.3 295.3,239.8 299.2,241.2 303.0,243.1 306.8,244.4 310.7,245.6 366.5,245.8" fill="none" stroke="#1e8c1e" stroke-width="1.35" stroke-linejoin="round" stroke-linecap="round"/>
<polyline points="282.8,243.1 286.7,240.6 290.5,239.2 294.3,240.6 298.2,242.1 302.0,243.7 305.9,245.0 309.7,245.8 366.5,245.8" fill="none" stroke="#1e8c1e" stroke-width="1.35" stroke-linejoin="round" stroke-linecap="round"/>
<polyline points="282.8,239.8 285.7,237.5 289.5,239.0 293.4,240.6 297.2,242.1 301.1,243.7 304.9,245.2 308.8,245.8" fill="none" stroke="#1e8c1e" stroke-width="1.35" stroke-linejoin="round" stroke-linecap="round"/>
<polyline points="282.8,244.0 287.6,242.1 292.4,241.2 296.3,242.5 300.1,244.0 304.0,245.2 307.8,245.8" fill="none" stroke="#1e8c1e" stroke-width="1.35" stroke-linejoin="round" stroke-linecap="round"/>
<polyline points="282.8,242.1 284.7,239.2 287.6,237.9 290.5,239.8 294.3,241.7 298.2,243.3 302.0,244.4 306.8,245.6" fill="none" stroke="#1e8c1e" stroke-width="1.35" stroke-linejoin="round" stroke-linecap="round"/>
<polyline points="282.8,245.0 289.5,243.7 295.3,244.4 301.1,245.4 306.8,245.8" fill="none" stroke="#1e8c1e" stroke-width="1.35" stroke-linejoin="round" stroke-linecap="round"/>
<text x="326.5" y="264.6" style="font-size:5.6px;font-weight:bold;" fill="#000" text-anchor="middle">Days post treatment initiation</text>
<text x="254.4" y="201" style="font-size:6.1px;font-weight:bold;" fill="#000" text-anchor="middle" transform="rotate(-90 254.4 201)">Tumor volume (mm<tspan dy="-1.8" font-size="4">3</tspan><tspan dy="1.8">)</tspan></text>
</g>
<g id="panelF">
<text x="387" y="138.9" style="font-size:10.8px;font-weight:bold;" fill="#000">F</text>
<text x="461.2" y="145.3" style="font-size:7.42px;font-weight:bold;" fill="#000" text-anchor="middle">EMT6 B7-H4+ tumors + anti-PD-L1</text>
<path d="M415.4 156.2 V246.4" stroke="#000" stroke-width="0.9"/>
<path d="M415.0 246 H504.8" stroke="#000" stroke-width="0.9"/>
<path d="M412.0 246.0 H415.4" stroke="#000" stroke-width="0.9"/>
<text x="410.6" y="248.2" style="font-size:6.6px;font-weight:bold;" fill="#000" text-anchor="end">0</text>
<path d="M412.0 228.1 H415.4" stroke="#000" stroke-width="0.9"/>
<text x="410.6" y="230.3" style="font-size:6.6px;font-weight:bold;" fill="#000" text-anchor="end">500</text>
<path d="M412.0 210.2 H415.4" stroke="#000" stroke-width="0.9"/>
<text x="410.6" y="212.4" style="font-size:6.6px;font-weight:bold;" fill="#000" text-anchor="end">1,000</text>
<path d="M412.0 192.3 H415.4" stroke="#000" stroke-width="0.9"/>
<text x="410.6" y="194.5" style="font-size:6.6px;font-weight:bold;" fill="#000" text-anchor="end">1,500</text>
<path d="M412.0 174.4 H415.4" stroke="#000" stroke-width="0.9"/>
<text x="410.6" y="176.6" style="font-size:6.6px;font-weight:bold;" fill="#000" text-anchor="end">2,000</text>
<path d="M412.0 156.5 H415.4" stroke="#000" stroke-width="0.9"/>
<text x="410.6" y="158.7" style="font-size:6.6px;font-weight:bold;" fill="#000" text-anchor="end">2,500</text>
<path d="M415.4 246 V249.6" stroke="#000" stroke-width="0.9"/>
<text x="415.4" y="256.3" style="font-size:5px;font-weight:bold;" fill="#000" text-anchor="middle">0</text>
<path d="M437.6 246 V249.6" stroke="#000" stroke-width="0.9"/>
<text x="437.6" y="256.3" style="font-size:5px;font-weight:bold;" fill="#000" text-anchor="middle">10</text>
<path d="M459.9 246 V249.6" stroke="#000" stroke-width="0.9"/>
<text x="459.9" y="256.3" style="font-size:5px;font-weight:bold;" fill="#000" text-anchor="middle">20</text>
<path d="M482.1 246 V249.6" stroke="#000" stroke-width="0.9"/>
<text x="482.1" y="256.3" style="font-size:5px;font-weight:bold;" fill="#000" text-anchor="middle">30</text>
<path d="M504.4 246 V249.6" stroke="#000" stroke-width="0.9"/>
<text x="504.4" y="256.3" style="font-size:5px;font-weight:bold;" fill="#000" text-anchor="middle">40</text>
<polyline points="417.9,241.4 425.8,239.8 432.6,238.0 439.3,235.3 446.1,231.7 452.9,226.7 458.5,221.8 464.2,216.6 469.1,210.5 472.8,203.0 475.5,194.0 477.7,186.1 480.4,178.9 483.4,171.4 487.2,161.3" fill="none" stroke="#1010d8" stroke-width="1.35" stroke-linejoin="round" stroke-linecap="round"/>
<polyline points="417.9,243.0 428.1,241.4 437.1,240.3 446.1,239.2 455.1,237.6 463.0,235.8 469.1,234.0 473.7,227.9 477.7,220.4 481.8,213.7 485.6,206.4 489.0,199.2 491.7,191.8 494.0,183.9 496.2,173.0" fill="none" stroke="#1010d8" stroke-width="1.35" stroke-linejoin="round" stroke-linecap="round"/>
<polyline points="417.9,240.7 425.8,239.2 434.8,236.9 443.9,234.0 451.8,229.0 458.5,226.3 465.3,223.4 470.5,220.0 474.3,213.2 477.3,205.3 480.0,197.4 482.7,189.5 484.9,182.7 487.2,176.6" fill="none" stroke="#1010d8" stroke-width="1.35" stroke-linejoin="round" stroke-linecap="round"/>
<polyline points="417.9,240.3 424.7,237.6 431.4,234.7 438.2,231.3 443.9,226.7 448.4,220.0 451.8,213.7 454.7,206.4 457.0,198.5 459.2,190.6 461.5,185.7 464.2,179.8" fill="none" stroke="#1010d8" stroke-width="1.35" stroke-linejoin="round" stroke-linecap="round"/>
<polyline points="417.9,242.1 426.9,239.8 434.8,236.9 441.6,233.1 447.2,227.9 451.8,222.2 456.3,215.5 460.1,209.1 463.7,202.4 466.4,196.3 469.1,192.4 471.4,189.5" fill="none" stroke="#1010d8" stroke-width="1.35" stroke-linejoin="round" stroke-linecap="round"/>
<polyline points="417.9,239.8 425.8,238.0 433.7,235.3 440.5,232.4 447.2,229.0 454.0,224.5 459.7,220.0 465.3,216.6 469.8,213.2 473.2,209.1 475.0,200.8 475.9,191.3 476.8,207.6 477.7,209.8" fill="none" stroke="#1010d8" stroke-width="1.35" stroke-linejoin="round" stroke-linecap="round"/>
<polyline points="417.9,242.6 428.1,240.7 438.2,238.5 447.2,235.8 455.1,232.4 461.9,229.0 467.6,224.5 472.1,221.8 475.5,217.7 477.7,213.2" fill="none" stroke="#1010d8" stroke-width="1.35" stroke-linejoin="round" stroke-linecap="round"/>
<polyline points="417.9,243.5 430.3,241.6 441.6,239.8 451.8,238.5 459.7,235.8 466.4,234.0 470.9,230.8 474.3,226.7 477.3,221.1" fill="none" stroke="#1010d8" stroke-width="1.35" stroke-linejoin="round" stroke-linecap="round"/>
<polyline points="417.9,239.4 424.7,236.9 431.4,233.5 438.2,229.5 443.9,225.6 449.5,221.8 455.1,217.3 459.7,214.3 464.2,212.1 468.7,210.5 473.2,209.1 475.5,208.2" fill="none" stroke="#1010d8" stroke-width="1.35" stroke-linejoin="round" stroke-linecap="round"/>
<polyline points="417.9,241.2 426.9,239.2 436.0,237.6 443.9,234.7 450.6,231.3 457.4,227.9 463.0,225.6 468.2,222.2 472.1,217.7 475.0,213.7" fill="none" stroke="#1010d8" stroke-width="1.35" stroke-linejoin="round" stroke-linecap="round"/>
<polyline points="417.9,237.4 422.4,233.1 426.9,229.0 431.4,224.0 436.0,218.8 440.5,213.2 443.9,207.6 447.2,201.5 450.2,190.6 452.9,177.1 455.8,160.2" fill="none" stroke="#f40d0d" stroke-width="1.35" stroke-linejoin="round" stroke-linecap="round"/>
<polyline points="417.9,239.2 423.5,235.8 429.2,231.7 434.8,226.7 440.5,221.8 446.1,215.9 451.8,209.1 456.3,203.0 460.1,196.3 463.7,188.4 466.9,178.2 469.1,170.3 471.4,161.7" fill="none" stroke="#f40d0d" stroke-width="1.35" stroke-linejoin="round" stroke-linecap="round"/>
<polyline points="417.9,235.3 422.4,230.1 426.9,225.6 431.4,220.0 434.8,215.5 437.5,212.1 440.5,208.2" fill="none" stroke="#f40d0d" stroke-width="1.35" stroke-linejoin="round" stroke-linecap="round"/>
<polyline points="417.9,238.0 423.5,234.0 429.2,230.1 434.8,224.9 440.5,218.8 446.1,213.2 450.6,207.6 454.7,200.8 457.4,196.3 460.8,194.0 463.7,187.2 465.3,185.0" fill="none" stroke="#f40d0d" stroke-width="1.35" stroke-linejoin="round" stroke-linecap="round"/>
<polyline points="417.9,236.5 423.5,231.7 429.2,227.9 434.8,222.2 439.3,217.7 443.9,212.1 448.4,209.1 452.9,204.2 456.3,197.4 458.5,198.5 461.5,191.8 464.2,186.1" fill="none" stroke="#f40d0d" stroke-width="1.35" stroke-linejoin="round" stroke-linecap="round"/>
<polyline points="417.9,238.5 425.8,236.9 432.6,234.7 439.3,234.0 446.1,231.7 450.6,230.8 455.1,229.5" fill="none" stroke="#f40d0d" stroke-width="1.35" stroke-linejoin="round" stroke-linecap="round"/>
<polyline points="417.9,239.8 424.7,236.2 431.4,232.4 437.1,227.9 442.7,222.2 447.2,217.7 451.8,212.1 455.1,206.4 458.5,201.5 461.5,197.4 463.0,190.6" fill="none" stroke="#f40d0d" stroke-width="1.35" stroke-linejoin="round" stroke-linecap="round"/>
<polyline points="417.9,235.8 423.5,232.4 428.1,226.7 433.7,223.4 438.2,217.3 442.7,214.3 447.2,207.6 451.8,204.2 455.1,198.5 457.9,197.0 460.1,199.2 462.4,201.9" fill="none" stroke="#f40d0d" stroke-width="1.35" stroke-linejoin="round" stroke-linecap="round"/>
<polyline points="417.9,240.3 425.8,237.6 432.6,233.5 439.3,229.0 445.0,224.5 450.6,218.8 455.1,214.3 459.2,209.8 461.9,206.4" fill="none" stroke="#f40d0d" stroke-width="1.35" stroke-linejoin="round" stroke-linecap="round"/>
<polyline points="417.9,239.8 422.4,237.6 426.9,235.8 429.9,234.7 432.6,236.9 437.1,239.2 441.6,240.7 447.2,243.0 454.0,244.8 461.9,245.7 496.2,245.9" fill="none" stroke="#1e8c1e" stroke-width="1.35" stroke-linejoin="round" stroke-linecap="round"/>
<polyline points="417.9,241.4 423.5,239.8 428.1,237.6 431.4,236.2 434.8,238.5 439.3,240.3 445.0,242.6 450.6,244.4 458.5,245.5 496.2,245.9" fill="none" stroke="#1e8c1e" stroke-width="1.35" stroke-linejoin="round" stroke-linecap="round"/>
<polyline points="417.9,238.5 422.4,236.9 425.8,238.0 430.3,239.8 436.0,241.6 441.6,243.5 448.4,244.8 455.1,245.7" fill="none" stroke="#1e8c1e" stroke-width="1.35" stroke-linejoin="round" stroke-linecap="round"/>
<polyline points="417.9,243.0 424.7,241.4 430.3,239.8 434.8,240.7 440.5,242.6 446.1,244.4 452.9,245.5" fill="none" stroke="#1e8c1e" stroke-width="1.35" stroke-linejoin="round" stroke-linecap="round"/>
<polyline points="417.9,240.3 421.3,239.2 424.7,236.9 429.2,235.3 432.6,238.0 438.2,239.8 443.9,242.1 449.5,243.9 456.3,245.3" fill="none" stroke="#1e8c1e" stroke-width="1.35" stroke-linejoin="round" stroke-linecap="round"/>
<text x="460" y="264.6" style="font-size:5.6px;font-weight:bold;" fill="#000" text-anchor="middle">Days post treatment initiation</text>
<text x="388" y="201" style="font-size:6.1px;font-weight:bold;" fill="#000" text-anchor="middle" transform="rotate(-90 388 201)">Tumor volume (mm<tspan dy="-1.8" font-size="4">3</tspan><tspan dy="1.8">)</tspan></text>
</g>
<g id="pies">
<path d="M315.3 297.2 L315.30 267.90 A29.3 29.3 0 0 1 344.53 299.22 Z" fill="#0f7f0f" stroke="#111" stroke-width="0.6" stroke-linejoin="round"/>
<path d="M315.3 297.2 L344.53 299.22 A29.3 29.3 0 0 1 287.67 306.95 Z" fill="#0000c8" stroke="#111" stroke-width="0.6" stroke-linejoin="round"/>
<path d="M315.3 297.2 L287.67 306.95 A29.3 29.3 0 0 1 315.30 267.90 Z" fill="#ff0000" stroke="#111" stroke-width="0.6" stroke-linejoin="round"/>
<text x="302.5" y="291.8" style="font-size:7px;font-weight:bold;" fill="#fff" text-anchor="middle">30.4%</text>
<text x="331" y="291.8" style="font-size:7px;font-weight:bold;" fill="#fff" text-anchor="middle">26.1%</text>
<text x="316.8" y="314.3" style="font-size:7px;font-weight:bold;" fill="#fff" text-anchor="middle">43.5%</text>
<path d="M467 296.3 L467.00 268.30 A28 28 0 0 1 487.29 277.00 Z" fill="#0f7f0f" stroke="#111" stroke-width="0.6" stroke-linejoin="round"/>
<path d="M467 296.3 L487.29 277.00 A28 28 0 0 1 450.97 319.26 Z" fill="#0000c8" stroke="#111" stroke-width="0.6" stroke-linejoin="round"/>
<path d="M467 296.3 L450.97 319.26 A28 28 0 0 1 467.00 268.30 Z" fill="#ff0000" stroke="#111" stroke-width="0.6" stroke-linejoin="round"/>
<text x="476.5" y="281.3" style="font-size:7px;font-weight:bold;" fill="#fff" text-anchor="middle">12.9%</text>
<text x="454.5" y="297" style="font-size:7px;font-weight:bold;" fill="#fff" text-anchor="middle">40.9%</text>
<text x="479.5" y="311.8" style="font-size:7px;font-weight:bold;" fill="#fff" text-anchor="middle">46.8%</text>
<text x="352.3" y="289.6" style="font-size:8.5px;font-weight:bold;" fill="#ff1010">Intrinsic resistance</text>
<text x="352.3" y="300.6" style="font-size:8.5px;font-weight:bold;" fill="#1414e6">Acquired resistance</text>
<text x="352.3" y="311.2" style="font-size:8.5px;font-weight:bold;" fill="#2e9a2e">Complete response</text>
<text x="360" y="328.3" style="font-size:12.2px;" fill="#111"><tspan font-style="italic">P</tspan> = 0.035</text>
</g>
<g id="panelG">
<text x="5.3" y="345.3" style="font-size:10.8px;font-weight:bold;" fill="#000">G</text>
<text x="31" y="347.3" style="font-size:10.5px;" fill="#000"><tspan fill="#2f6fd6">DAPI</tspan> <tspan fill="#58a83a">CD45</tspan> <tspan fill="#ee1c25">B7-H4</tspan></text>
<text x="13.4" y="398" style="font-size:9.6px;" fill="#111" text-anchor="middle" transform="rotate(-90 13.4 398)">EMT6 B7-H4+ tumor</text>
<g clip-path="url(#cG1)" style="isolation:isolate"><rect x="20.3" y="349.8" width="113.5" height="95.2" fill="#05052c"/>
<g filter="url(#b20)">
<ellipse cx="110.3" cy="368.9" rx="21.9" ry="17.3" fill="#d80c2c" opacity="0.95"/>
<ellipse cx="126.5" cy="395.5" rx="9.2" ry="13.8" fill="#d80c2c" opacity="0.7"/>
<ellipse cx="39.9" cy="401.2" rx="15.0" ry="10.4" fill="#d80c2c" opacity="0.7"/>
<ellipse cx="43.4" cy="367.8" rx="19.6" ry="8.1" fill="#d80c2c" opacity="0.5"/>
<ellipse cx="89.5" cy="408.9" rx="11.5" ry="7.4" fill="#d80c2c" opacity="0.8"/>
<ellipse cx="64.2" cy="424.3" rx="12.7" ry="4.6" fill="#d80c2c" opacity="0.35"/>
<ellipse cx="114.9" cy="418.5" rx="13.8" ry="6.5" fill="#d80c2c" opacity="0.3"/>
<ellipse cx="31.8" cy="425.5" rx="8.1" ry="5.8" fill="#d80c2c" opacity="0.3"/>
<ellipse cx="94.2" cy="359.7" rx="10.4" ry="6.5" fill="#d80c2c" opacity="0.6"/>
</g>
<g filter="url(#b08)">
<ellipse cx="88.4" cy="392.0" rx="6.0" ry="6.9" fill="#04041c" opacity="0.9"/>
<ellipse cx="101.1" cy="364.3" rx="2.8" ry="2.1" fill="#04041c" opacity="0.9"/>
<ellipse cx="117.2" cy="360.8" rx="2.3" ry="2.8" fill="#04041c" opacity="0.9"/>
<ellipse cx="123.0" cy="379.3" rx="2.8" ry="2.3" fill="#04041c" opacity="0.9"/>
<ellipse cx="109.2" cy="381.6" rx="2.1" ry="1.8" fill="#04041c" opacity="0.9"/>
<ellipse cx="94.2" cy="374.7" rx="2.3" ry="1.6" fill="#04041c" opacity="0.9"/>
<ellipse cx="34.2" cy="396.6" rx="2.3" ry="1.8" fill="#04041c" opacity="0.9"/>
<ellipse cx="45.7" cy="405.9" rx="2.1" ry="1.6" fill="#04041c" opacity="0.9"/>
<ellipse cx="71.1" cy="366.6" rx="5.1" ry="2.8" fill="#04041c" opacity="0.9"/>
<ellipse cx="114.9" cy="405.9" rx="5.1" ry="3.2" fill="#04041c" opacity="0.9"/>
<ellipse cx="54.9" cy="416.2" rx="3.7" ry="2.3" fill="#04041c" opacity="0.9"/>
<ellipse cx="126.5" cy="425.5" rx="4.6" ry="3.5" fill="#04041c" opacity="0.9"/>
</g>
<g filter="url(#b05)">
<ellipse cx="125.9" cy="441.0" rx="3.7" ry="3.1" fill="#1616ee" opacity="0.33" transform="rotate(91 125.9 441.0)"/>
<ellipse cx="34.2" cy="367.5" rx="3.7" ry="3.5" fill="#2222f6" opacity="0.97" transform="rotate(27 34.2 367.5)"/>
<ellipse cx="29.1" cy="417.8" rx="3.7" ry="3.5" fill="#2222f6" opacity="0.57" transform="rotate(14 29.1 417.8)"/>
<ellipse cx="42.9" cy="352.3" rx="4.7" ry="3.5" fill="#1212dc" opacity="0.99" transform="rotate(92 42.9 352.3)"/>
<ellipse cx="84.4" cy="432.4" rx="4.7" ry="3.1" fill="#1212dc" opacity="0.51" transform="rotate(121 84.4 432.4)"/>
<ellipse cx="39.7" cy="395.8" rx="4.0" ry="3.0" fill="#1c1cff" opacity="0.57" transform="rotate(133 39.7 395.8)"/>
<ellipse cx="41.7" cy="360.0" rx="4.3" ry="3.4" fill="#1616ee" opacity="0.98" transform="rotate(71 41.7 360.0)"/>
<ellipse cx="52.4" cy="378.5" rx="4.5" ry="3.1" fill="#2222f6" opacity="0.75" transform="rotate(30 52.4 378.5)"/>
<ellipse cx="100.8" cy="429.4" rx="4.2" ry="3.0" fill="#1c1cff" opacity="0.63" transform="rotate(25 100.8 429.4)"/>
<ellipse cx="128.3" cy="365.1" rx="4.6" ry="3.2" fill="#1616ee" opacity="0.54" transform="rotate(57 128.3 365.1)"/>
<ellipse cx="98.5" cy="443.5" rx="4.5" ry="3.9" fill="#1616ee" opacity="0.63" transform="rotate(88 98.5 443.5)"/>
<ellipse cx="21.0" cy="425.4" rx="4.0" ry="2.9" fill="#2222f6" opacity="0.58" transform="rotate(50 21.0 425.4)"/>
<ellipse cx="106.3" cy="393.4" rx="4.0" ry="2.9" fill="#1212dc" opacity="0.87" transform="rotate(43 106.3 393.4)"/>
<ellipse cx="98.8" cy="403.1" rx="4.1" ry="3.3" fill="#1c1cff" opacity="0.97" transform="rotate(113 98.8 403.1)"/>
<ellipse cx="107.1" cy="412.6" rx="4.9" ry="3.8" fill="#2222f6" opacity="0.91" transform="rotate(105 107.1 412.6)"/>
<ellipse cx="27.2" cy="442.2" rx="4.5" ry="3.3" fill="#1c1cff" opacity="0.55" transform="rotate(142 27.2 442.2)"/>
<ellipse cx="89.5" cy="353.9" rx="3.9" ry="3.5" fill="#1212dc" opacity="0.81" transform="rotate(143 89.5 353.9)"/>
<ellipse cx="38.2" cy="413.0" rx="4.5" ry="3.4" fill="#1212dc" opacity="0.79" transform="rotate(143 38.2 413.0)"/>
<ellipse cx="133.2" cy="375.3" rx="4.3" ry="3.7" fill="#1212dc" opacity="0.76" transform="rotate(102 133.2 375.3)"/>
<ellipse cx="67.9" cy="356.8" rx="4.4" ry="3.6" fill="#1212dc" opacity="0.87" transform="rotate(142 67.9 356.8)"/>
<ellipse cx="49.8" cy="445.4" rx="5.0" ry="3.7" fill="#1c1cff" opacity="0.58" transform="rotate(4 49.8 445.4)"/>
<ellipse cx="59.5" cy="378.2" rx="3.9" ry="2.8" fill="#1212dc" opacity="0.97" transform="rotate(170 59.5 378.2)"/>
<ellipse cx="74.3" cy="402.6" rx="4.5" ry="3.6" fill="#1212dc" opacity="0.83" transform="rotate(67 74.3 402.6)"/>
<ellipse cx="62.0" cy="409.1" rx="4.1" ry="3.6" fill="#1616ee" opacity="0.72" transform="rotate(9 62.0 409.1)"/>
<ellipse cx="49.1" cy="431.5" rx="4.8" ry="3.4" fill="#1c1cff" opacity="0.58" transform="rotate(104 49.1 431.5)"/>
<ellipse cx="36.1" cy="430.2" rx="4.0" ry="3.4" fill="#1616ee" opacity="0.61" transform="rotate(92 36.1 430.2)"/>
<ellipse cx="53.0" cy="356.5" rx="3.8" ry="2.9" fill="#1c1cff" opacity="0.93" transform="rotate(4 53.0 356.5)"/>
<ellipse cx="126.7" cy="377.5" rx="4.6" ry="3.6" fill="#1212dc" opacity="0.95" transform="rotate(154 126.7 377.5)"/>
<ellipse cx="59.6" cy="364.4" rx="4.0" ry="3.3" fill="#1c1cff" opacity="0.81" transform="rotate(158 59.6 364.4)"/>
<ellipse cx="127.5" cy="413.3" rx="4.8" ry="3.8" fill="#1c1cff" opacity="0.81" transform="rotate(168 127.5 413.3)"/>
<ellipse cx="132.4" cy="444.3" rx="4.2" ry="3.9" fill="#1c1cff" opacity="0.32" transform="rotate(10 132.4 444.3)"/>
<ellipse cx="75.9" cy="382.9" rx="4.8" ry="3.4" fill="#1c1cff" opacity="0.78" transform="rotate(104 75.9 382.9)"/>
<ellipse cx="37.7" cy="439.3" rx="4.1" ry="3.1" fill="#1212dc" opacity="0.62" transform="rotate(114 37.7 439.3)"/>
<ellipse cx="113.6" cy="387.6" rx="4.6" ry="3.9" fill="#1212dc" opacity="0.87" transform="rotate(159 113.6 387.6)"/>
<ellipse cx="92.0" cy="427.9" rx="5.1" ry="3.9" fill="#1c1cff" opacity="0.62" transform="rotate(110 92.0 427.9)"/>
<ellipse cx="59.6" cy="440.5" rx="4.8" ry="3.0" fill="#1212dc" opacity="0.68" transform="rotate(150 59.6 440.5)"/>
<ellipse cx="112.8" cy="393.9" rx="5.1" ry="3.3" fill="#1616ee" opacity="0.91" transform="rotate(164 112.8 393.9)"/>
<ellipse cx="79.2" cy="369.1" rx="5.0" ry="3.7" fill="#1c1cff" opacity="0.81" transform="rotate(72 79.2 369.1)"/>
<ellipse cx="68.8" cy="437.5" rx="4.2" ry="3.6" fill="#1212dc" opacity="0.53" transform="rotate(171 68.8 437.5)"/>
<ellipse cx="131.0" cy="359.6" rx="4.9" ry="3.9" fill="#1616ee" opacity="0.73" transform="rotate(122 131.0 359.6)"/>
<ellipse cx="78.2" cy="375.3" rx="5.2" ry="3.5" fill="#2222f6" opacity="0.97" transform="rotate(50 78.2 375.3)"/>
<ellipse cx="104.1" cy="436.1" rx="5.2" ry="2.8" fill="#1212dc" opacity="0.64" transform="rotate(11 104.1 436.1)"/>
<ellipse cx="84.8" cy="404.4" rx="3.9" ry="3.7" fill="#1616ee" opacity="0.57" transform="rotate(149 84.8 404.4)"/>
<ellipse cx="127.7" cy="403.0" rx="5.0" ry="2.9" fill="#1616ee" opacity="0.57" transform="rotate(171 127.7 403.0)"/>
<ellipse cx="102.0" cy="352.2" rx="4.0" ry="3.7" fill="#1c1cff" opacity="0.94" transform="rotate(36 102.0 352.2)"/>
<ellipse cx="96.4" cy="359.6" rx="4.9" ry="3.4" fill="#1c1cff" opacity="0.61" transform="rotate(151 96.4 359.6)"/>
<ellipse cx="115.8" cy="422.0" rx="4.5" ry="3.2" fill="#1616ee" opacity="0.53" transform="rotate(128 115.8 422.0)"/>
<ellipse cx="68.2" cy="369.9" rx="4.2" ry="3.4" fill="#1c1cff" opacity="0.99" transform="rotate(24 68.2 369.9)"/>
<ellipse cx="108.7" cy="420.4" rx="3.8" ry="3.2" fill="#1c1cff" opacity="0.50" transform="rotate(9 108.7 420.4)"/>
<ellipse cx="29.8" cy="390.4" rx="4.9" ry="2.9" fill="#2222f6" opacity="0.87" transform="rotate(96 29.8 390.4)"/>
<ellipse cx="62.6" cy="420.0" rx="4.5" ry="3.5" fill="#1c1cff" opacity="0.50" transform="rotate(9 62.6 420.0)"/>
<ellipse cx="103.7" cy="423.8" rx="5.1" ry="3.5" fill="#1212dc" opacity="0.67" transform="rotate(36 103.7 423.8)"/>
<ellipse cx="92.1" cy="398.6" rx="4.6" ry="3.2" fill="#1c1cff" opacity="0.81" transform="rotate(39 92.1 398.6)"/>
<ellipse cx="113.3" cy="435.5" rx="4.5" ry="3.8" fill="#1212dc" opacity="0.34" transform="rotate(13 113.3 435.5)"/>
<ellipse cx="89.5" cy="370.9" rx="4.3" ry="3.8" fill="#1212dc" opacity="0.79" transform="rotate(23 89.5 370.9)"/>
<ellipse cx="113.1" cy="399.7" rx="4.1" ry="3.8" fill="#1212dc" opacity="0.99" transform="rotate(175 113.1 399.7)"/>
<ellipse cx="61.9" cy="370.4" rx="5.0" ry="2.9" fill="#2222f6" opacity="0.83" transform="rotate(80 61.9 370.4)"/>
<ellipse cx="87.4" cy="420.3" rx="3.8" ry="2.9" fill="#1616ee" opacity="0.51" transform="rotate(111 87.4 420.3)"/>
<ellipse cx="119.3" cy="427.7" rx="5.0" ry="3.6" fill="#1c1cff" opacity="0.39" transform="rotate(153 119.3 427.7)"/>
<ellipse cx="51.7" cy="397.9" rx="4.8" ry="3.7" fill="#1c1cff" opacity="0.67" transform="rotate(138 51.7 397.9)"/>
<ellipse cx="33.7" cy="350.1" rx="5.1" ry="3.7" fill="#1212dc" opacity="0.84" transform="rotate(58 33.7 350.1)"/>
<ellipse cx="81.8" cy="362.5" rx="4.8" ry="3.1" fill="#1c1cff" opacity="0.94" transform="rotate(49 81.8 362.5)"/>
<ellipse cx="69.3" cy="425.6" rx="4.8" ry="3.8" fill="#1616ee" opacity="0.67" transform="rotate(104 69.3 425.6)"/>
<ellipse cx="123.0" cy="355.8" rx="3.7" ry="3.2" fill="#1616ee" opacity="0.93" transform="rotate(6 123.0 355.8)"/>
<ellipse cx="78.6" cy="416.8" rx="5.0" ry="3.6" fill="#2222f6" opacity="0.66" transform="rotate(57 78.6 416.8)"/>
<ellipse cx="50.3" cy="423.9" rx="3.7" ry="2.9" fill="#1c1cff" opacity="0.51" transform="rotate(63 50.3 423.9)"/>
<ellipse cx="128.1" cy="431.4" rx="4.5" ry="3.3" fill="#2222f6" opacity="0.34" transform="rotate(11 128.1 431.4)"/>
<ellipse cx="119.7" cy="402.7" rx="3.7" ry="3.4" fill="#1c1cff" opacity="0.89" transform="rotate(0 119.7 402.7)"/>
<ellipse cx="77.3" cy="439.4" rx="4.4" ry="2.9" fill="#1c1cff" opacity="0.64" transform="rotate(179 77.3 439.4)"/>
<ellipse cx="114.5" cy="410.7" rx="4.1" ry="3.6" fill="#1212dc" opacity="0.84" transform="rotate(166 114.5 410.7)"/>
<ellipse cx="119.5" cy="387.4" rx="4.7" ry="3.8" fill="#2222f6" opacity="0.78" transform="rotate(23 119.5 387.4)"/>
<ellipse cx="81.7" cy="392.4" rx="4.4" ry="2.9" fill="#1616ee" opacity="0.95" transform="rotate(134 81.7 392.4)"/>
<ellipse cx="39.4" cy="419.7" rx="4.8" ry="3.9" fill="#1616ee" opacity="0.59" transform="rotate(42 39.4 419.7)"/>
<ellipse cx="35.2" cy="401.5" rx="4.8" ry="3.9" fill="#1212dc" opacity="0.69" transform="rotate(40 35.2 401.5)"/>
<ellipse cx="24.4" cy="435.5" rx="4.0" ry="3.0" fill="#2222f6" opacity="0.56" transform="rotate(117 24.4 435.5)"/>
<ellipse cx="59.3" cy="426.1" rx="4.2" ry="3.6" fill="#2222f6" opacity="0.65" transform="rotate(41 59.3 426.1)"/>
<ellipse cx="97.7" cy="380.9" rx="3.7" ry="3.4" fill="#1c1cff" opacity="0.85" transform="rotate(159 97.7 380.9)"/>
<ellipse cx="47.2" cy="357.7" rx="5.1" ry="2.9" fill="#1616ee" opacity="0.99" transform="rotate(20 47.2 357.7)"/>
<ellipse cx="84.2" cy="440.4" rx="4.8" ry="3.6" fill="#1c1cff" opacity="0.51" transform="rotate(124 84.2 440.4)"/>
<ellipse cx="50.0" cy="367.7" rx="4.7" ry="3.6" fill="#1c1cff" opacity="0.89" transform="rotate(100 50.0 367.7)"/>
<ellipse cx="20.7" cy="360.8" rx="4.6" ry="3.7" fill="#1616ee" opacity="0.72" transform="rotate(159 20.7 360.8)"/>
<ellipse cx="96.3" cy="421.9" rx="4.9" ry="3.1" fill="#1212dc" opacity="0.56" transform="rotate(53 96.3 421.9)"/>
<ellipse cx="67.8" cy="379.8" rx="3.9" ry="3.6" fill="#1c1cff" opacity="0.83" transform="rotate(176 67.8 379.8)"/>
<ellipse cx="60.0" cy="350.7" rx="4.6" ry="2.9" fill="#2222f6" opacity="0.99" transform="rotate(41 60.0 350.7)"/>
<ellipse cx="21.6" cy="410.9" rx="4.2" ry="3.6" fill="#1212dc" opacity="0.79" transform="rotate(71 21.6 410.9)"/>
<ellipse cx="73.1" cy="349.2" rx="4.7" ry="3.2" fill="#1c1cff" opacity="0.99" transform="rotate(20 73.1 349.2)"/>
<ellipse cx="45.4" cy="415.9" rx="4.7" ry="3.2" fill="#1c1cff" opacity="0.95" transform="rotate(29 45.4 415.9)"/>
<ellipse cx="56.7" cy="445.8" rx="3.9" ry="3.0" fill="#1212dc" opacity="0.62" transform="rotate(150 56.7 445.8)"/>
<ellipse cx="20.5" cy="378.9" rx="4.4" ry="3.6" fill="#1616ee" opacity="0.86" transform="rotate(41 20.5 378.9)"/>
<ellipse cx="133.0" cy="426.9" rx="3.7" ry="3.3" fill="#1616ee" opacity="0.39" transform="rotate(161 133.0 426.9)"/>
<ellipse cx="134.4" cy="391.0" rx="4.9" ry="3.4" fill="#1616ee" opacity="0.85" transform="rotate(47 134.4 391.0)"/>
<ellipse cx="84.5" cy="410.6" rx="3.8" ry="2.8" fill="#2222f6" opacity="0.56" transform="rotate(11 84.5 410.6)"/>
<ellipse cx="132.6" cy="420.2" rx="4.1" ry="3.1" fill="#1616ee" opacity="0.59" transform="rotate(85 132.6 420.2)"/>
<ellipse cx="26.5" cy="371.3" rx="4.7" ry="3.7" fill="#1c1cff" opacity="0.83" transform="rotate(178 26.5 371.3)"/>
<ellipse cx="117.4" cy="380.2" rx="3.7" ry="3.7" fill="#2222f6" opacity="0.68" transform="rotate(152 117.4 380.2)"/>
<ellipse cx="26.8" cy="361.5" rx="5.0" ry="3.1" fill="#1616ee" opacity="0.86" transform="rotate(71 26.8 361.5)"/>
<ellipse cx="72.5" cy="362.8" rx="3.7" ry="3.8" fill="#1c1cff" opacity="0.95" transform="rotate(105 72.5 362.8)"/>
<ellipse cx="83.9" cy="355.5" rx="4.1" ry="2.9" fill="#1616ee" opacity="0.80" transform="rotate(162 83.9 355.5)"/>
<ellipse cx="105.9" cy="366.2" rx="5.0" ry="3.0" fill="#2222f6" opacity="0.62" transform="rotate(89 105.9 366.2)"/>
<ellipse cx="76.9" cy="410.7" rx="4.8" ry="3.0" fill="#2222f6" opacity="0.95" transform="rotate(140 76.9 410.7)"/>
<ellipse cx="71.0" cy="391.6" rx="4.7" ry="3.6" fill="#2222f6" opacity="0.73" transform="rotate(60 71.0 391.6)"/>
<ellipse cx="104.8" cy="406.0" rx="4.6" ry="3.7" fill="#1c1cff" opacity="0.79" transform="rotate(147 104.8 406.0)"/>
<ellipse cx="32.4" cy="376.1" rx="4.5" ry="3.4" fill="#1c1cff" opacity="0.82" transform="rotate(173 32.4 376.1)"/>
<ellipse cx="63.8" cy="386.3" rx="4.9" ry="3.0" fill="#1616ee" opacity="0.83" transform="rotate(138 63.8 386.3)"/>
<ellipse cx="49.7" cy="391.7" rx="4.4" ry="3.2" fill="#2222f6" opacity="0.82" transform="rotate(72 49.7 391.7)"/>
<ellipse cx="29.2" cy="424.8" rx="3.9" ry="3.6" fill="#1616ee" opacity="0.64" transform="rotate(150 29.2 424.8)"/>
<ellipse cx="88.2" cy="364.5" rx="4.7" ry="3.8" fill="#2222f6" opacity="0.97" transform="rotate(86 88.2 364.5)"/>
<ellipse cx="89.9" cy="380.4" rx="4.1" ry="3.6" fill="#1616ee" opacity="0.87" transform="rotate(18 89.9 380.4)"/>
<ellipse cx="93.7" cy="411.5" rx="4.1" ry="2.8" fill="#1212dc" opacity="0.54" transform="rotate(84 93.7 411.5)"/>
<ellipse cx="111.3" cy="363.3" rx="4.5" ry="3.2" fill="#1212dc" opacity="0.62" transform="rotate(0 111.3 363.3)"/>
<ellipse cx="22.2" cy="349.1" rx="5.0" ry="3.6" fill="#1616ee" opacity="0.73" transform="rotate(155 22.2 349.1)"/>
<ellipse cx="133.5" cy="401.7" rx="3.8" ry="2.9" fill="#1c1cff" opacity="0.55" transform="rotate(6 133.5 401.7)"/>
<ellipse cx="95.4" cy="349.1" rx="3.9" ry="3.0" fill="#1c1cff" opacity="0.78" transform="rotate(33 95.4 349.1)"/>
<ellipse cx="46.0" cy="378.1" rx="4.7" ry="3.2" fill="#2222f6" opacity="0.83" transform="rotate(63 46.0 378.1)"/>
<ellipse cx="34.0" cy="381.7" rx="3.7" ry="3.3" fill="#2222f6" opacity="0.85" transform="rotate(106 34.0 381.7)"/>
<ellipse cx="99.8" cy="389.0" rx="4.6" ry="3.6" fill="#1616ee" opacity="0.93" transform="rotate(99 99.8 389.0)"/>
<ellipse cx="68.5" cy="400.0" rx="4.6" ry="3.2" fill="#2222f6" opacity="0.86" transform="rotate(130 68.5 400.0)"/>
<ellipse cx="69.9" cy="410.5" rx="4.3" ry="3.9" fill="#1c1cff" opacity="0.83" transform="rotate(19 69.9 410.5)"/>
<ellipse cx="111.9" cy="349.2" rx="4.0" ry="3.1" fill="#2222f6" opacity="0.87" transform="rotate(178 111.9 349.2)"/>
<ellipse cx="62.0" cy="395.4" rx="3.9" ry="2.9" fill="#1616ee" opacity="0.74" transform="rotate(68 62.0 395.4)"/>
<ellipse cx="19.5" cy="441.6" rx="5.2" ry="3.2" fill="#1c1cff" opacity="0.66" transform="rotate(141 19.5 441.6)"/>
<ellipse cx="30.1" cy="397.9" rx="4.6" ry="3.0" fill="#1212dc" opacity="0.51" transform="rotate(6 30.1 397.9)"/>
<ellipse cx="84.1" cy="378.1" rx="5.1" ry="3.1" fill="#1212dc" opacity="0.92" transform="rotate(86 84.1 378.1)"/>
<ellipse cx="112.7" cy="442.9" rx="4.0" ry="3.1" fill="#1212dc" opacity="0.40" transform="rotate(82 112.7 442.9)"/>
<ellipse cx="108.5" cy="376.7" rx="4.7" ry="3.4" fill="#1616ee" opacity="0.60" transform="rotate(79 108.5 376.7)"/>
</g>
<g filter="url(#b05)">
<g filter="url(#b08)">
<path d="M92.6 367.5l-1.0 3.8M67.4 434.5l2.4 2.8M21.8 389.8l0.8 -1.1M43.9 405.2l0.6 -1.9M106.5 354.7l0.3 -3.5M95.2 426.7l-1.8 2.7M79.5 354.7l-1.5 -1.8M114.9 383.2l1.1 -2.6M54.0 393.2l1.2 3.6M129.6 383.5l-0.8 1.1M48.7 365.0l-0.1 -1.9M118.5 434.1l0.5 2.4M114.5 434.5l-1.3 -1.9M39.4 407.3l1.0 1.5M26.8 425.2l-3.2 -1.7M120.8 356.7l-1.2 -0.3M116.8 426.0l-2.7 1.4M98.6 405.6l-0.6 1.2M28.8 424.2l-1.0 0.3M107.7 371.5l-1.1 1.5M33.2 410.5l-2.8 -1.4M118.8 382.7l-1.1 -1.0M111.4 438.8l0.6 1.7M85.9 403.5l2.8 2.8M92.9 361.3l1.4 -2.1M122.0 390.7l-1.3 2.2M130.2 400.4l0.9 -1.9M128.1 376.8l-2.0 1.7M96.6 369.3l-0.8 -1.1M98.0 379.7l-0.1 -2.0M108.3 374.4l0.5 -1.0M100.3 411.5l-3.5 0.1M106.1 376.6l-1.0 2.7M37.8 401.7l-0.3 1.2M32.6 365.4l-1.1 0.9M117.6 392.0l-3.1 0.0M108.7 369.5l3.4 2.0M100.0 438.6l-1.9 1.5M119.3 397.8l-1.2 2.1M53.0 365.9l-1.4 0.7M119.5 363.7l2.2 -1.1M124.1 404.4l0.7 -2.1M107.1 436.1l1.0 0.4M113.5 360.9l2.0 -1.7M43.5 403.4l0.3 1.9M90.0 363.4l1.5 -0.6M97.0 443.0l-2.0 -2.1M77.4 371.5l0.6 2.6M111.6 377.6l1.8 -3.0M111.0 392.8l-1.6 -3.0M87.5 412.1l0.2 2.7M110.0 368.3l0.2 2.6M65.1 408.9l-0.6 -2.2M29.5 363.1l-0.0 -3.8M125.6 381.8l-0.9 1.2M29.1 406.3l-2.7 -0.1M36.9 407.7l-0.7 1.1M98.4 407.3l0.9 1.6M121.6 366.8l0.1 -3.4M113.8 371.2l1.4 0.3M34.6 402.7l0.0 -3.5M99.5 359.8l-3.8 -0.6M111.4 377.9l1.3 2.7M109.8 352.0l-0.2 -1.6M119.1 375.2l1.9 -3.3M130.4 365.7l0.5 1.0M90.4 369.3l1.5 -3.5M113.1 420.2l-0.2 -1.3M108.3 354.2l1.3 -1.6M123.4 397.9l1.9 -1.5M122.1 403.4l-2.2 2.0M35.1 402.8l-1.1 3.5M107.9 420.0l-0.3 -4.0M95.3 405.5l1.4 -2.3M99.2 443.5l0.1 1.7M127.8 371.3l-0.9 -0.4M90.8 369.4l2.4 -2.2M38.4 390.9l1.2 1.3M63.8 440.3l-1.1 0.3M127.6 411.2l2.4 1.3M117.5 357.9l-1.4 -2.6M104.8 385.1l-2.4 -2.9M34.6 392.0l0.5 3.0M89.8 410.4l1.5 0.6M24.9 358.4l0.7 3.1M82.9 372.6l0.4 1.9M95.3 367.6l3.3 -1.6M89.5 355.0l1.7 -1.4M37.4 425.3l1.0 -2.1M103.2 366.7l-2.5 -1.4M114.9 381.9l-0.2 1.6M125.1 357.6l1.1 3.5M120.2 362.4l0.3 2.4M45.5 401.5l-2.2 -0.7M69.2 410.6l-0.9 -2.0M108.8 354.5l0.4 2.9M100.9 354.0l1.3 -1.0" stroke="#f81434" stroke-width="2.5" stroke-linecap="round" fill="none" opacity="0.8"/>
</g>
<ellipse cx="79.8" cy="378.2" rx="4.6" ry="3.9" fill="#ff1030"/>
<ellipse cx="99.9" cy="385.2" rx="6.8" ry="2.9" fill="#ff1030" transform="rotate(55 99.9 385.2)"/>
<ellipse cx="104" cy="362" rx="6" ry="2.5" fill="#ff1838" transform="rotate(-40 104 362)"/>
<ellipse cx="116" cy="371" rx="3" ry="6" fill="#ff1838" opacity="0.9"/>
</g>
<g filter="url(#b05)">
<circle cx="45.5" cy="389" r="3" fill="#2050c0" stroke="#50e868" stroke-width="1.4"/>
<path d="M63 372.5 C66 368 71 365 77.5 361.5 M66 375 C69.5 371 74 368 79.5 365" fill="none" stroke="#30c080" stroke-width="1.2" opacity="0.9"/>
<circle cx="56.5" cy="379" r="2.6" fill="none" stroke="#38d070" stroke-width="1.1"/>
<path d="M48.5 396 C54 402 60 406 67 410 M60 412 C64 417 68 421 73 425" stroke="#28c848" stroke-width="1.0" fill="none" opacity="0.8"/>
<path d="M91 404.5 C96 402.5 101 404.5 105 408 L97 408 Z" stroke="#48d878" stroke-width="1.4" fill="#40c870" opacity="0.9"/>
<path d="M26 420 C30 424 33 428 36 433 M69 399 C72 402 73 406 72 410 M40 368 C43 366 46 367 47 370 M84 371 C86 373 87 376 86 378" stroke="#28b848" stroke-width="1.0" fill="none" opacity="0.85"/>
<path d="M70 428l3 2M50 440l4 1M95 430l2 3M110 415l3 1M125 365l2 4M30 360l4 -1M36 352l5 2M88 352l4 1" stroke="#28b848" stroke-width="0.9" fill="none" opacity="0.8"/>
</g></g>
<use href="#arw" transform="translate(76 360.4)"/><use href="#arw" transform="translate(45 384.6)"/>
<text x="122.8" y="437.8" style="font-size:6.5px;" fill="#fff" text-anchor="middle">10 µm</text>
<rect x="118.5" y="440" width="8.2" height="1.5" fill="#fff"/>
<g clip-path="url(#cG2)"><rect x="141" y="350" width="120" height="95" fill="#010401"/>
<g filter="url(#b60)">
<ellipse cx="174.9" cy="383.9" rx="36.9" ry="22.2" fill="#20c030" opacity="0.08"/>
<ellipse cx="187.2" cy="420.8" rx="29.6" ry="17.2" fill="#20c030" opacity="0.04"/>
<ellipse cx="241.4" cy="379.0" rx="19.7" ry="17.2" fill="#20c030" opacity="0.03"/>
<ellipse cx="199.5" cy="371.6" rx="9.9" ry="7.4" fill="#20c030" opacity="0.2"/>
<ellipse cx="221.7" cy="407.3" rx="7.4" ry="4.9" fill="#20c030" opacity="0.3"/>
</g><g filter="url(#b05)">
<circle cx="173.0" cy="391.8" r="3.1" fill="#107020" stroke="#38e848" stroke-width="1.8" opacity="1"/>
<circle cx="147.4" cy="392.5" r="2.6" fill="none" stroke="#38e848" stroke-width="1.4" opacity="0.85"/>
<circle cx="192.2" cy="377.0" r="2.6" fill="none" stroke="#38e848" stroke-width="1.4" opacity="0.8"/>
<circle cx="183.5" cy="383.4" r="2.2" fill="none" stroke="#38e848" stroke-width="1.4" opacity="0.85"/>
<circle cx="255.7" cy="383.9" r="2.8" fill="none" stroke="#38e848" stroke-width="1.4" opacity="0.7"/>
<circle cx="143.4" cy="441.8" r="2.6" fill="none" stroke="#38e848" stroke-width="1.6" opacity="0.95"/>
<circle cx="195.8" cy="398.7" r="2.2" fill="none" stroke="#38e848" stroke-width="1.1" opacity="0.6"/>
<circle cx="190.2" cy="419.6" r="2.6" fill="none" stroke="#38e848" stroke-width="1.1" opacity="0.55"/>
<circle cx="252.5" cy="395.0" r="2" fill="none" stroke="#38e848" stroke-width="1" opacity="0.5"/>
<circle cx="167.5" cy="371.6" r="2" fill="none" stroke="#38e848" stroke-width="1" opacity="0.5"/>
<circle cx="220.5" cy="370.4" r="2.4" fill="none" stroke="#38e848" stroke-width="1" opacity="0.45"/>
<path d="M198.5 376 C198 371 200 367 202 368 C204 366 206 368 205.5 372 C205 375 203 377 201.5 375 C200.5 373 201.5 370 203 370.5" stroke="#30d840" stroke-width="1.3" fill="none" opacity="0.9"/>
<ellipse cx="221.7" cy="407.3" rx="3.6" ry="2.2" fill="#40f050"/>
<path d="M221.7 407.3l-8 2M221.7 407.3l9 -1M221.7 407.3l8 3M221.7 407.3l-6 -3M221.7 407.3l5 4M221.7 407.3l-4 4" stroke="#28c038" stroke-width="0.8" fill="none" opacity="0.8"/>
<path d="M226.9 373.7q2.5 -2.0 -4.1 3.8" stroke="#24b838" stroke-width="1.6" fill="none" opacity="0.51"/>
<path d="M212.9 407.4q1.3 -0.3 1.6 1.9" stroke="#24b838" stroke-width="1.1" fill="none" opacity="0.35"/>
<path d="M238.5 396.9q-3.1 -0.1 3.3 -3.5" stroke="#24b838" stroke-width="0.9" fill="none" opacity="0.19"/>
<path d="M194.0 409.0q2.4 3.4 2.0 -0.3" stroke="#24b838" stroke-width="1.0" fill="none" opacity="0.30"/>
<path d="M174.9 440.5q2.4 0.2 -2.8 -5.0" stroke="#24b838" stroke-width="1.2" fill="none" opacity="0.11"/>
<path d="M150.3 438.3q1.5 -0.3 -6.4 -0.8" stroke="#24b838" stroke-width="1.3" fill="none" opacity="0.10"/>
<path d="M249.8 350.8q0.1 -0.9 1.7 2.0" stroke="#24b838" stroke-width="1.6" fill="none" opacity="0.23"/>
<path d="M159.4 417.5q1.3 1.7 -1.3 3.6" stroke="#24b838" stroke-width="0.9" fill="none" opacity="0.55"/>
<path d="M181.9 410.2q0.9 1.5 1.4 2.3" stroke="#24b838" stroke-width="0.9" fill="none" opacity="0.32"/>
<path d="M190.2 394.3q-0.3 -2.1 -1.3 -3.3" stroke="#24b838" stroke-width="1.1" fill="none" opacity="0.53"/>
<path d="M193.6 353.2q0.2 2.2 -4.2 -4.4" stroke="#24b838" stroke-width="1.2" fill="none" opacity="0.23"/>
<path d="M244.3 387.0q-0.8 -2.7 0.8 -4.2" stroke="#24b838" stroke-width="1.1" fill="none" opacity="0.27"/>
<path d="M259.2 379.5q0.8 3.1 -1.7 3.0" stroke="#24b838" stroke-width="1.4" fill="none" opacity="0.32"/>
<path d="M221.3 385.1q-1.0 2.2 -3.9 4.4" stroke="#24b838" stroke-width="1.2" fill="none" opacity="0.52"/>
<path d="M153.9 413.6q-3.0 2.3 1.0 -3.2" stroke="#24b838" stroke-width="1.1" fill="none" opacity="0.15"/>
<path d="M181.1 401.4q-2.1 2.6 -4.2 -0.9" stroke="#24b838" stroke-width="1.3" fill="none" opacity="0.47"/>
<path d="M153.1 363.1q-2.1 3.4 2.7 -3.7" stroke="#24b838" stroke-width="1.5" fill="none" opacity="0.49"/>
<path d="M163.4 406.3q-1.6 1.9 0.1 -3.0" stroke="#24b838" stroke-width="0.9" fill="none" opacity="0.45"/>
<path d="M258.7 417.0q-1.2 1.5 -0.8 4.6" stroke="#24b838" stroke-width="1.4" fill="none" opacity="0.26"/>
<path d="M254.7 380.9q-2.1 0.9 -1.1 4.1" stroke="#24b838" stroke-width="1.7" fill="none" opacity="0.24"/>
<path d="M158.7 401.6q-1.8 3.1 -3.5 2.8" stroke="#24b838" stroke-width="1.1" fill="none" opacity="0.21"/>
<path d="M225.6 370.8q0.5 -2.3 -4.9 -3.4" stroke="#24b838" stroke-width="1.0" fill="none" opacity="0.32"/>
<path d="M235.7 396.9q2.9 1.8 4.3 1.3" stroke="#24b838" stroke-width="1.6" fill="none" opacity="0.31"/>
<path d="M197.7 430.4q-1.8 2.4 -3.1 -2.0" stroke="#24b838" stroke-width="1.2" fill="none" opacity="0.13"/>
<path d="M182.3 366.6q-0.4 -2.8 -6.0 -1.2" stroke="#24b838" stroke-width="1.1" fill="none" opacity="0.49"/>
<path d="M154.5 405.4q1.1 -0.2 -3.3 -1.1" stroke="#24b838" stroke-width="1.3" fill="none" opacity="0.24"/>
<path d="M251.8 408.8q1.6 -3.3 0.6 3.1" stroke="#24b838" stroke-width="1.6" fill="none" opacity="0.23"/>
<path d="M206.5 361.0q-1.4 0.6 2.6 -4.1" stroke="#24b838" stroke-width="0.9" fill="none" opacity="0.45"/>
<path d="M155.5 351.4q1.9 0.5 -2.0 -1.3" stroke="#24b838" stroke-width="1.0" fill="none" opacity="0.56"/>
<path d="M169.7 371.7q-1.5 1.4 -1.0 -4.9" stroke="#24b838" stroke-width="1.3" fill="none" opacity="0.44"/>
<path d="M202.7 427.2q0.4 -0.0 1.9 2.5" stroke="#24b838" stroke-width="1.0" fill="none" opacity="0.16"/>
<path d="M214.3 412.4q1.3 -2.2 1.0 2.6" stroke="#24b838" stroke-width="1.6" fill="none" opacity="0.18"/>
<path d="M185.2 387.2q1.5 -2.8 -2.1 1.8" stroke="#24b838" stroke-width="1.1" fill="none" opacity="0.54"/>
<path d="M235.9 374.6q-2.4 -2.6 0.7 2.4" stroke="#24b838" stroke-width="1.3" fill="none" opacity="0.21"/>
<path d="M208.6 407.2q-1.9 1.0 -1.6 4.9" stroke="#24b838" stroke-width="1.0" fill="none" opacity="0.60"/>
<path d="M230.0 427.8q-2.6 1.2 1.2 4.9" stroke="#24b838" stroke-width="1.7" fill="none" opacity="0.21"/>
<path d="M189.6 409.6q2.6 -3.2 1.4 -5.2" stroke="#24b838" stroke-width="0.9" fill="none" opacity="0.55"/>
<path d="M185.2 366.1q-1.5 -2.8 3.7 0.2" stroke="#24b838" stroke-width="1.7" fill="none" opacity="0.17"/>
<path d="M148.9 354.0q1.8 -1.6 -1.3 -2.1" stroke="#24b838" stroke-width="1.5" fill="none" opacity="0.22"/>
<path d="M252.4 353.2q1.4 -2.8 2.1 -1.2" stroke="#24b838" stroke-width="1.3" fill="none" opacity="0.13"/>
<path d="M232.7 442.8q-1.1 0.8 2.4 3.5" stroke="#24b838" stroke-width="1.0" fill="none" opacity="0.23"/>
<path d="M153.1 387.3q-0.3 -0.3 -1.9 1.2" stroke="#24b838" stroke-width="1.4" fill="none" opacity="0.24"/>
<path d="M209.8 377.8q-2.5 2.7 -2.1 -3.0" stroke="#24b838" stroke-width="1.6" fill="none" opacity="0.23"/>
<path d="M218.8 421.8q0.2 2.8 2.5 0.8" stroke="#24b838" stroke-width="1.4" fill="none" opacity="0.11"/>
<path d="M144.2 411.5q2.1 0.3 -1.5 -1.4" stroke="#24b838" stroke-width="1.2" fill="none" opacity="0.27"/>
<path d="M199.9 431.0q-3.1 1.4 -4.2 -0.8" stroke="#24b838" stroke-width="0.9" fill="none" opacity="0.26"/>
<path d="M204.4 374.2q-1.1 2.7 -1.9 5.1" stroke="#24b838" stroke-width="1.4" fill="none" opacity="0.36"/>
<path d="M200.7 366.2q-0.4 -1.2 1.0 -2.1" stroke="#24b838" stroke-width="0.9" fill="none" opacity="0.48"/>
<path d="M187.9 359.0q-2.2 -0.2 5.8 2.9" stroke="#24b838" stroke-width="1.5" fill="none" opacity="0.56"/>
<path d="M145.2 391.6q1.4 -0.1 1.6 -2.3" stroke="#24b838" stroke-width="1.4" fill="none" opacity="0.39"/>
<path d="M154.9 438.5q0.7 -1.0 0.6 5.1" stroke="#24b838" stroke-width="1.0" fill="none" opacity="0.10"/>
<path d="M192.3 368.8q0.6 -2.4 -2.4 2.0" stroke="#24b838" stroke-width="1.4" fill="none" opacity="0.50"/>
<path d="M203.6 385.4q0.6 0.7 -3.4 2.3" stroke="#24b838" stroke-width="1.0" fill="none" opacity="0.39"/>
<path d="M215.2 423.5q-1.8 -2.9 3.8 1.0" stroke="#24b838" stroke-width="0.8" fill="none" opacity="0.30"/>
<path d="M240.9 389.1q2.5 1.2 1.2 -4.7" stroke="#24b838" stroke-width="0.9" fill="none" opacity="0.09"/>
<path d="M229.7 428.6q-2.6 -2.9 -3.2 3.6" stroke="#24b838" stroke-width="0.9" fill="none" opacity="0.15"/>
<path d="M183.5 365.2q2.6 -1.5 -3.6 3.3" stroke="#24b838" stroke-width="1.5" fill="none" opacity="0.48"/>
<path d="M252.7 387.0q-0.5 2.6 -2.0 5.9" stroke="#24b838" stroke-width="1.5" fill="none" opacity="0.18"/>
<path d="M253.1 374.7q0.2 1.2 2.2 -0.2" stroke="#24b838" stroke-width="1.1" fill="none" opacity="0.17"/>
<path d="M141.0 378.8q-2.8 3.0 -3.5 -0.1" stroke="#24b838" stroke-width="1.4" fill="none" opacity="0.55"/>
<path d="M142.4 409.5q2.1 -2.0 -4.0 -2.2" stroke="#24b838" stroke-width="1.2" fill="none" opacity="0.52"/>
<path d="M187.4 415.1q0.9 0.1 -2.9 -5.3" stroke="#24b838" stroke-width="1.1" fill="none" opacity="0.50"/>
<path d="M160.9 366.3q-2.3 -0.4 0.3 4.6" stroke="#24b838" stroke-width="0.9" fill="none" opacity="0.35"/>
<path d="M202.4 392.9q-1.2 -1.9 -3.2 0.1" stroke="#24b838" stroke-width="1.3" fill="none" opacity="0.47"/>
<path d="M189.6 444.1q2.4 1.7 -3.3 -1.3" stroke="#24b838" stroke-width="1.5" fill="none" opacity="0.27"/>
<path d="M179.0 428.1q1.5 3.0 5.0 -3.7" stroke="#24b838" stroke-width="1.6" fill="none" opacity="0.24"/>
<path d="M193.9 366.8q-3.0 0.5 1.7 3.6" stroke="#24b838" stroke-width="1.5" fill="none" opacity="0.59"/>
<path d="M199.6 405.3q0.9 -2.1 -0.3 -3.7" stroke="#24b838" stroke-width="1.5" fill="none" opacity="0.32"/>
<path d="M199.8 389.3q-2.6 2.6 -2.7 4.5" stroke="#24b838" stroke-width="0.8" fill="none" opacity="0.58"/>
<path d="M195.8 362.5q2.5 1.2 -1.3 -2.2" stroke="#24b838" stroke-width="1.1" fill="none" opacity="0.44"/>
<path d="M148.7 359.3q1.7 2.6 -3.0 3.8" stroke="#24b838" stroke-width="1.2" fill="none" opacity="0.49"/>
<path d="M198.7 392.1q2.0 0.6 1.9 -2.7" stroke="#24b838" stroke-width="1.1" fill="none" opacity="0.38"/>
<path d="M208.9 352.8q-2.6 0.2 1.1 -2.1" stroke="#24b838" stroke-width="1.7" fill="none" opacity="0.33"/>
<path d="M155.1 396.4q0.9 -1.2 4.0 2.6" stroke="#24b838" stroke-width="0.9" fill="none" opacity="0.24"/>
<path d="M149.4 372.3q0.5 -2.2 0.4 -4.4" stroke="#24b838" stroke-width="1.0" fill="none" opacity="0.36"/>
<path d="M209.8 420.5q2.5 2.1 1.5 -1.8" stroke="#24b838" stroke-width="1.6" fill="none" opacity="0.42"/>
<path d="M236.4 421.1q0.9 1.9 3.8 -2.9" stroke="#24b838" stroke-width="0.9" fill="none" opacity="0.14"/>
<path d="M242.1 430.7q2.7 -2.4 2.6 0.2" stroke="#24b838" stroke-width="0.8" fill="none" opacity="0.30"/>
<path d="M225.6 439.9q1.1 -1.6 1.5 4.2" stroke="#24b838" stroke-width="1.5" fill="none" opacity="0.12"/>
<path d="M190.1 427.5q1.6 2.4 2.4 -5.4" stroke="#24b838" stroke-width="1.6" fill="none" opacity="0.27"/>
<path d="M150.4 380.8q3.4 -1.9 2.6 5.1" stroke="#24b838" stroke-width="1.1" fill="none" opacity="0.24"/>
<path d="M253.0 386.4q1.3 -2.5 4.6 -0.6" stroke="#24b838" stroke-width="0.9" fill="none" opacity="0.30"/>
<path d="M252.5 432.3q3.5 -1.5 -4.2 1.2" stroke="#24b838" stroke-width="1.4" fill="none" opacity="0.22"/>
<path d="M161.2 424.3q-1.7 2.7 -4.9 -2.6" stroke="#24b838" stroke-width="1.5" fill="none" opacity="0.16"/>
<path d="M254.9 350.7q-1.2 1.1 -2.0 1.5" stroke="#24b838" stroke-width="1.3" fill="none" opacity="0.14"/>
<path d="M232.2 359.6q-2.3 -1.1 -1.6 4.1" stroke="#24b838" stroke-width="1.5" fill="none" opacity="0.11"/>
<path d="M185.3 423.1q1.4 1.8 -0.6 -4.2" stroke="#24b838" stroke-width="0.9" fill="none" opacity="0.12"/>
<path d="M236.9 391.8q0.7 1.3 1.6 -1.7" stroke="#24b838" stroke-width="1.2" fill="none" opacity="0.20"/>
<path d="M159.7 416.9q0.4 2.3 -2.3 1.1" stroke="#24b838" stroke-width="1.6" fill="none" opacity="0.17"/>
<path d="M257.4 356.9q0.6 0.3 1.3 -5.3" stroke="#24b838" stroke-width="1.1" fill="none" opacity="0.18"/>
<path d="M164.8 390.0q2.9 -2.7 -0.1 -2.3" stroke="#24b838" stroke-width="1.6" fill="none" opacity="0.60"/>
<path d="M145.7 394.8q-2.0 0.5 -1.8 -1.7" stroke="#24b838" stroke-width="1.6" fill="none" opacity="0.18"/>
<path d="M233.2 435.5q-1.7 2.0 1.5 -2.9" stroke="#24b838" stroke-width="1.1" fill="none" opacity="0.15"/>
<path d="M154.7 387.5q-0.8 -0.5 -5.3 -0.8" stroke="#24b838" stroke-width="1.6" fill="none" opacity="0.35"/>
<path d="M146.4 419.3q-3.0 -1.6 4.0 -0.2" stroke="#24b838" stroke-width="0.8" fill="none" opacity="0.16"/>
<path d="M206.5 355.4q-1.5 0.1 -5.0 -2.0" stroke="#24b838" stroke-width="1.4" fill="none" opacity="0.27"/>
<path d="M246.4 430.5q1.1 -1.9 -1.3 -5.4" stroke="#24b838" stroke-width="0.9" fill="none" opacity="0.26"/>
<path d="M201.6 434.1q-1.0 -2.5 2.5 -0.7" stroke="#24b838" stroke-width="1.2" fill="none" opacity="0.25"/>
<path d="M169.1 378.2q1.4 0.3 5.1 0.9" stroke="#24b838" stroke-width="1.2" fill="none" opacity="0.60"/>
<path d="M234.9 436.6q-1.5 -0.2 -2.8 -1.5" stroke="#24b838" stroke-width="1.2" fill="none" opacity="0.23"/>
<path d="M251.9 413.7q-1.9 -3.5 1.3 5.9" stroke="#24b838" stroke-width="0.8" fill="none" opacity="0.17"/>
<path d="M180.9 438.7q2.8 1.4 3.8 -4.8" stroke="#24b838" stroke-width="0.8" fill="none" opacity="0.21"/>
<path d="M232.2 406.8q-2.8 -3.3 6.4 -0.2" stroke="#24b838" stroke-width="0.9" fill="none" opacity="0.29"/>
<path d="M199.7 354.5q2.1 -2.6 2.7 5.2" stroke="#24b838" stroke-width="1.2" fill="none" opacity="0.57"/>
<path d="M195.0 423.9q2.5 -2.3 3.3 5.2" stroke="#24b838" stroke-width="1.1" fill="none" opacity="0.24"/>
<path d="M247.9 414.6q-1.8 2.6 0.0 -2.2" stroke="#24b838" stroke-width="0.9" fill="none" opacity="0.21"/>
<path d="M149.3 442.1q-1.1 1.7 4.1 -1.6" stroke="#24b838" stroke-width="1.1" fill="none" opacity="0.31"/>
<path d="M252.5 384.9q-2.5 1.0 3.7 1.7" stroke="#24b838" stroke-width="1.7" fill="none" opacity="0.26"/>
<path d="M209.7 405.1q-2.1 0.1 3.3 -3.9" stroke="#24b838" stroke-width="1.4" fill="none" opacity="0.58"/>
<path d="M224.6 402.5q0.5 -2.2 1.2 4.5" stroke="#24b838" stroke-width="1.2" fill="none" opacity="0.47"/>
<path d="M261.0 412.9q-0.7 0.4 2.8 -2.7" stroke="#24b838" stroke-width="0.9" fill="none" opacity="0.12"/>
<path d="M231.8 394.7q-0.7 2.8 4.3 3.0" stroke="#24b838" stroke-width="0.9" fill="none" opacity="0.22"/>
<path d="M241.4 359.3q-2.5 0.8 3.7 -0.2" stroke="#24b838" stroke-width="0.8" fill="none" opacity="0.10"/>
<path d="M191.4 389.2q-1.1 -2.0 0.2 -5.4" stroke="#24b838" stroke-width="1.5" fill="none" opacity="0.19"/>
<path d="M219.0 380.4q-2.4 -2.8 1.4 -4.9" stroke="#24b838" stroke-width="1.6" fill="none" opacity="0.36"/>
<path d="M172.8 369.5q3.4 -2.0 3.9 3.6" stroke="#24b838" stroke-width="1.1" fill="none" opacity="0.24"/>
<path d="M193.4 375.1q3.0 -3.2 -1.3 -1.8" stroke="#24b838" stroke-width="1.5" fill="none" opacity="0.49"/>
<path d="M184.3 374.3h.01M184.1 366.3h.01M226.4 359.0h.01M245.5 418.1h.01M219.2 406.3h.01M233.6 414.3h.01M222.5 432.1h.01M259.3 433.9h.01M166.7 422.5h.01M186.7 410.7h.01M252.9 370.3h.01M237.3 428.3h.01M143.0 407.6h.01M232.2 365.7h.01M257.1 389.7h.01M169.9 365.3h.01" stroke="#38e048" stroke-width="1.3" stroke-linecap="round" fill="none" opacity="0.8"/>
</g></g>
<text x="198.7" y="347.3" style="font-size:10.5px;" fill="#58a83a" text-anchor="middle">CD45</text>
<use href="#arw" transform="translate(203.4 362)"/><use href="#arw" transform="translate(172.6 387.4)"/>
<g clip-path="url(#cG3)"><rect x="267.7" y="349" width="118.9" height="96" fill="#0d0000"/>
<g filter="url(#b40)">
<ellipse cx="347.7" cy="362.3" rx="18.5" ry="11.8" fill="#e00008" opacity="0.48"/>
<ellipse cx="372.3" cy="374.1" rx="13.5" ry="17.2" fill="#e00008" opacity="0.30"/>
<ellipse cx="292.3" cy="393.8" rx="13.5" ry="11.8" fill="#e00008" opacity="0.36"/>
<ellipse cx="275.1" cy="413.5" rx="7.9" ry="6.9" fill="#e00008" opacity="0.27"/>
<ellipse cx="328.0" cy="381.5" rx="17.2" ry="9.4" fill="#e00008" opacity="0.24"/>
<ellipse cx="293.5" cy="361.8" rx="24.6" ry="9.9" fill="#e00008" opacity="0.17"/>
<ellipse cx="337.8" cy="403.6" rx="22.2" ry="9.9" fill="#e00008" opacity="0.13"/>
<ellipse cx="300.9" cy="425.8" rx="27.1" ry="9.9" fill="#e00008" opacity="0.06"/>
<ellipse cx="362.5" cy="420.8" rx="22.2" ry="12.3" fill="#e00008" opacity="0.06"/>
<ellipse cx="379.7" cy="428.2" rx="7.4" ry="4.9" fill="#e00008" opacity="0.18"/>
</g><g filter="url(#b08)">
<path d="M295.0 373.1l1.6 -0.6M358.1 422.7l2.9 1.8M371.1 440.6l-1.2 3.6M349.3 386.0l-0.8 1.4M302.9 375.4l-1.6 0.1M274.0 422.1l-0.1 1.2M295.6 416.6l1.8 -2.4M351.4 380.1l-1.9 0.3M306.0 435.3l-0.2 1.2M377.1 400.0l-0.2 -1.1M305.4 435.5l2.7 1.7M278.6 399.8l0.8 -0.0M295.4 423.6l-1.1 -0.2M301.7 378.5l1.2 0.6M271.7 386.9l-0.3 -3.3M307.2 404.8l-0.1 2.2M354.3 349.4l2.0 -1.2M381.1 410.5l-1.0 -1.6M300.2 428.2l-0.5 -0.9M297.2 406.2l0.6 2.9M368.7 438.9l-0.5 2.3M282.7 405.6l2.7 -1.6M295.3 424.8l-2.7 -0.2M329.0 436.7l2.7 -0.4M323.6 365.1l-1.4 -0.5M361.6 394.7l-1.6 -1.0M329.1 434.8l-0.7 -2.9M347.1 425.1l-1.3 -1.0M315.7 443.0l-0.4 -1.7M346.1 419.5l-3.2 0.7M316.3 350.2l1.4 -1.5M316.8 389.7l0.5 1.1M384.8 419.8l1.7 -2.6M382.3 402.6l2.9 1.9M303.2 402.3l-2.9 2.5M374.7 405.6l-0.6 -2.7M281.6 380.7l-2.1 -1.2M376.5 439.9l0.5 0.8M378.6 354.7l1.1 -1.1M280.7 376.2l1.1 -3.1M304.8 388.1l-0.1 -2.3M352.2 390.7l1.5 1.1M345.3 432.0l-1.7 -2.0M385.0 411.0l1.8 -1.8M385.0 399.8l-0.6 1.7M357.3 419.4l1.2 -0.1M319.0 420.6l1.5 2.7M345.2 379.1l-1.3 -1.6M288.5 439.2l-0.5 -1.0M351.5 394.1l-0.4 3.4M318.2 371.1l1.3 -0.9M268.3 394.4l-2.3 -2.1M338.9 423.5l1.8 0.8M355.0 383.0l-0.3 1.3M346.2 417.8l-0.1 -0.9M286.0 429.4l1.3 -0.3M301.1 440.6l1.6 -1.1M329.8 432.1l3.5 -0.2M360.6 349.9l0.4 2.9M326.6 363.8l-0.4 -1.7M358.9 384.8l0.6 0.7M302.1 432.3l-1.5 -1.1M308.4 407.8l0.4 0.8M348.1 377.4l-2.3 1.9M276.8 375.3l0.7 0.4M270.0 374.0l-1.4 2.3M319.7 390.3l0.2 -2.0M376.6 401.0l-1.5 3.4M305.5 396.8l-3.1 -1.9M367.0 427.3l-1.1 -2.0M383.2 350.8l-1.6 -2.1M383.8 417.4l-1.1 2.9M280.0 398.7l2.4 1.0M328.5 434.0l2.8 1.0M319.7 435.0l0.4 -1.3M342.6 431.7l-0.4 -0.7M272.2 404.2l0.6 -1.7M345.8 379.4l1.6 2.6M271.2 382.1l-1.7 -0.3M279.3 406.4l-0.8 1.0M382.5 423.6l3.7 -1.0M307.1 389.7l1.9 2.5M331.7 352.2l-0.9 -1.3M381.5 441.0l0.2 2.6M293.2 444.1l-0.9 1.0M281.6 427.0l-2.4 -1.3M329.9 423.9l-2.3 -0.2M279.2 382.6l-1.0 1.2M272.9 385.2l1.0 0.9M356.6 397.2l0.3 1.0M298.6 415.7l2.4 0.2M310.3 353.5l2.3 2.0M329.0 360.0l-1.0 -2.9M303.8 413.1l-0.7 1.2M333.6 349.5l-0.4 1.4M323.4 429.2l-2.9 1.1M326.4 413.3l0.4 -1.3M274.1 372.4l-2.3 -0.3M369.0 396.6l0.2 1.7M307.6 425.4l-2.6 -0.4M374.5 420.7l2.8 1.3M308.2 349.4l1.3 1.6M314.2 368.6l1.1 0.2M275.6 389.1l0.2 2.8M271.0 372.0l-2.8 0.5M340.3 417.3l0.3 -2.8M272.8 386.2l-0.5 -3.7M319.8 372.4l1.1 3.6M324.1 413.3l-0.4 -2.4M348.9 438.2l-2.2 0.7M311.2 426.6l-1.1 2.9M338.3 415.0l-1.5 -2.9M273.3 405.6l-2.2 -2.1M340.6 436.0l-0.1 3.8" stroke="#7a0408" stroke-width="1.7" stroke-linecap="round" fill="none" opacity="0.45"/>
<path d="M337.7 399.0l2.7 1.5M343.9 381.9l-1.3 -0.4M331.7 382.5l-1.6 3.2M326.7 397.5l-2.4 0.4M331.9 410.1l-2.9 0.4M355.0 400.9l-2.6 2.7M314.8 362.4l2.5 1.9M278.6 365.2l0.9 -1.2M267.8 413.8l-1.4 2.9M275.2 355.5l-0.8 3.0M331.9 396.1l1.5 -1.7M311.6 366.5l3.6 0.0M334.8 394.9l2.5 3.0M341.8 383.2l0.4 -3.6M320.8 404.8l-0.4 1.4M317.1 359.5l-0.1 -2.5M354.6 399.9l-1.5 -0.8M269.8 359.9l-1.7 -2.2M330.7 405.3l2.0 1.5M276.0 410.7l-0.2 -1.4M280.1 363.8l-1.0 -0.6M324.2 377.4l-2.1 -2.2M334.1 384.0l0.8 -0.2M276.2 409.2l0.4 1.9M294.8 369.8l-1.6 3.6M298.9 367.1l1.9 -2.9M307.3 369.5l0.3 2.3M334.7 386.5l0.3 -2.6M341.6 402.7l1.7 -0.2M334.8 389.4l-1.4 0.2M296.3 361.5l2.0 2.2M330.6 381.3l2.1 -3.1M271.9 358.2l-1.6 0.7M327.1 385.4l2.0 1.2M347.1 408.7l-0.8 -1.2M382.0 429.2l-3.3 1.6M321.8 382.6l-3.7 0.2M309.6 358.9l-0.6 3.4M294.8 359.2l0.9 -3.9M343.9 394.5l-2.0 2.8M273.5 362.4l-2.4 -3.2M278.8 363.9l-0.2 1.1M292.6 356.7l-2.8 0.4M325.7 388.9l2.2 0.7M336.6 378.6l0.8 1.6M334.1 378.8l-0.8 -0.6M339.2 412.3l-0.1 -1.4M377.0 425.2l2.4 0.3M309.1 356.2l1.0 1.1M338.4 407.7l3.3 -0.4M330.0 387.5l0.8 1.3M334.1 381.5l-1.0 -3.0M299.3 371.2l0.3 -3.2M288.5 355.8l0.1 -1.6M343.3 381.8l-0.4 1.6M280.8 354.5l1.5 0.5M328.9 403.6l-0.2 -2.4M342.1 407.5l-0.8 1.2M339.5 387.6l-0.7 -2.9M377.4 425.5l0.0 -3.2M333.9 382.6l0.4 -2.2M351.5 398.5l-0.9 2.6M286.1 354.4l-0.4 -0.9M339.5 382.5l0.7 -3.7M322.8 384.1l-0.4 -3.8M306.1 365.4l-2.5 -1.0M301.8 363.6l0.1 -3.6M324.8 401.3l-0.0 2.2M314.5 376.2l1.6 0.6M334.7 405.9l-0.0 -2.1M321.8 382.2l-0.6 2.3M325.8 408.8l0.8 -2.2M339.0 408.6l2.0 0.3M311.4 380.6l0.4 -1.1M327.1 407.2l-0.5 -2.6M314.9 385.0l-2.4 1.8M274.1 420.1l-1.1 0.7M355.9 400.2l0.8 0.1M356.4 404.4l0.5 0.7M324.9 397.2l-1.0 -0.5M294.5 352.1l-0.3 0.9M331.8 407.3l2.1 2.0M377.7 424.2l-2.4 -0.4M287.1 367.8l-2.2 -2.9M272.9 365.5l2.7 -2.2M374.9 430.1l-1.3 -3.4M275.8 414.4l2.5 -1.9M338.7 385.9l-2.4 -2.3M356.9 402.4l-2.4 0.7M319.2 380.4l0.8 0.4" stroke="#c40810" stroke-width="1.9" stroke-linecap="round" fill="none" opacity="0.6"/>
<path d="M367.8 373.4l1.9 1.7M374.0 383.2l0.9 0.5M372.0 357.8l1.1 -0.9M350.6 370.4l1.9 1.9M335.5 364.3l-0.8 3.0M344.3 359.3l1.2 -1.0M332.9 363.8l-2.5 1.7M334.0 360.8l2.3 -2.2M384.3 376.0l0.5 1.2M363.0 367.8l-1.8 2.6M352.2 368.3l1.8 -0.8M339.8 366.5l-2.2 -1.8M356.1 358.3l-2.5 1.8M357.2 352.4l3.6 -0.0M293.3 390.5l-1.8 -1.8M384.0 373.6l-3.8 -1.0M364.7 385.1l0.2 -0.8M354.0 366.9l2.1 -2.5M352.6 351.4l-0.1 -1.2M383.4 372.2l-0.9 -0.8M351.1 356.2l-0.2 -1.0M368.0 366.3l1.3 1.9M299.3 391.4l-0.8 1.6M381.0 365.0l1.3 -3.0M362.1 361.8l0.9 -3.3M337.7 358.8l3.4 -0.7M357.8 360.3l-1.1 3.0M292.6 400.2l2.0 -0.4M365.2 369.6l-0.6 0.9M371.5 381.6l0.7 -2.0M366.8 380.8l-1.4 1.1M338.6 363.1l-1.8 1.1M290.1 383.0l-2.2 -1.9M279.4 392.2l3.5 0.6M373.8 380.0l-1.0 -1.2M367.9 359.2l-2.1 -1.4M294.7 399.6l1.1 -0.8M368.2 385.6l0.5 1.5M355.0 354.4l-2.8 -2.1M338.6 365.0l1.8 1.1M292.5 386.3l-0.9 1.2M368.6 363.7l-1.1 3.0M355.4 362.7l-0.2 2.1M346.8 368.5l3.6 1.1M285.4 395.3l-1.2 -1.3M304.7 395.8l-1.0 -2.4M338.4 364.2l-3.1 -0.6M338.5 355.1l-1.6 -1.4M300.5 400.5l-1.0 -0.8M346.1 350.8l-0.8 0.4M367.3 370.5l-0.5 -0.9M370.0 375.3l2.0 -0.4M369.3 380.0l1.3 2.5M381.9 364.8l2.1 3.0M355.9 371.8l0.0 -2.3M350.7 366.5l1.0 0.4M368.1 364.5l-2.9 -1.1M335.3 360.1l0.2 -1.0M294.0 402.8l-0.9 -1.4M288.4 396.7l-0.1 -1.3M333.4 365.7l1.3 0.3M339.0 362.0l2.2 0.6M384.4 379.8l0.6 -1.3M372.4 388.9l1.8 -1.3M283.1 391.1l-0.9 -1.5M289.0 399.7l-3.1 -0.1M336.9 354.4l-1.0 -3.2M368.1 357.9l3.4 1.3M379.8 377.1l1.2 1.2M284.1 398.8l0.1 2.5M290.5 384.7l1.4 -0.6M291.2 392.8l1.6 -3.3M356.7 358.9l-2.1 1.5M376.6 389.2l2.1 -1.5M291.4 403.5l-1.0 1.2M374.0 368.7l-2.7 1.1M369.5 359.1l-1.8 0.8M368.7 370.9l-1.4 -1.6M343.3 366.8l-0.7 1.9M368.2 373.5l1.0 0.6M361.2 376.5l-0.7 1.5M373.8 388.1l-2.4 -0.7M297.1 385.0l1.6 -0.6M378.0 376.1l1.9 1.0M355.8 365.7l-3.3 1.2M380.4 368.0l-1.3 -1.5M359.1 376.6l3.0 -1.7M361.8 375.9l-3.3 -0.7M297.6 385.3l1.0 -1.7M367.5 366.9l3.2 0.2M364.5 381.4l-0.1 2.9M339.0 353.4l-0.7 0.5M304.8 391.0l-1.5 0.4M382.3 364.4l2.3 -3.0M284.4 396.3l0.2 -3.5M293.4 382.0l1.5 0.0M381.2 378.9l-3.0 1.2M300.4 396.9l1.9 0.7M377.7 375.7l-0.5 0.9M358.6 370.4l-0.8 -0.0M373.6 376.4l2.8 -0.8M367.0 369.3l2.3 -0.9M293.8 383.4l1.5 2.8M371.8 359.6l1.2 -2.4M373.3 384.9l0.2 -1.6M348.2 363.0l1.0 1.6M374.7 370.8l1.4 0.7M341.9 360.9l0.4 -2.8M294.8 402.3l-0.1 1.1M373.7 387.0l-0.3 -2.9M349.4 371.9l-2.3 -0.8M373.6 385.4l-1.9 0.2" stroke="#ff1018" stroke-width="2.2" stroke-linecap="round" fill="none" opacity="0.95"/>
</g><g filter="url(#b05)">
<ellipse cx="325.5" cy="379" rx="4.7" ry="3.6" fill="#ff1010" transform="rotate(-20 325.5 379)"/>
<ellipse cx="343.3" cy="385.4" rx="6.6" ry="2.8" fill="#ff1010" transform="rotate(60 343.3 385.4)"/>
<ellipse cx="312.5" cy="379.5" rx="1.9" ry="2.6" fill="#f81010" opacity="0.95"/>
</g></g>
<text x="326" y="347.3" style="font-size:10.5px;" fill="#ee1c25" text-anchor="middle">B7-H4</text>
<use href="#arw" transform="translate(329 358.6)"/><use href="#arw" transform="translate(297.8 383.8)"/>
</g>
<g id="panelH">
<text x="408" y="345.6" style="font-size:10.8px;font-weight:bold;" fill="#000">H</text>
<text x="447" y="345.4" style="font-size:8px;" fill="#222"><tspan font-style="italic">P</tspan> &lt; 0.0001</text>
<path d="M454.7 431 V349.8 H479.3 V354.6" fill="none" stroke="#000" stroke-width="0.8"/>
<path d="M439.2 358.2 V442.2" stroke="#000" stroke-width="1"/><path d="M438.7 441.7 H494.8" stroke="#000" stroke-width="1"/>
<path d="M436.4 441.7 H439.2" stroke="#000" stroke-width="1"/>
<text x="435.2" y="443.9" style="font-size:5.8px;font-weight:bold;" fill="#000" text-anchor="end">0</text>
<path d="M436.4 400.1 H439.2" stroke="#000" stroke-width="1"/>
<text x="435.2" y="402.3" style="font-size:5.8px;font-weight:bold;" fill="#000" text-anchor="end">50</text>
<path d="M436.4 358.5 H439.2" stroke="#000" stroke-width="1"/>
<text x="435.2" y="360.7" style="font-size:5.8px;font-weight:bold;" fill="#000" text-anchor="end">100</text>
<rect x="447.8" y="439.6" width="15.2" height="2.1" fill="#fff" stroke="#000" stroke-width="1"/>
<rect x="472.2" y="361.2" width="15" height="80.5" fill="#fff" stroke="#000" stroke-width="1"/>
<path d="M455.4 441.7 V444.8" stroke="#000" stroke-width="1"/>
<path d="M479.7 441.7 V444.8" stroke="#000" stroke-width="1"/>
<circle cx="477" cy="359.8" r="1.35" fill="#111"/>
<circle cx="479.7" cy="362" r="1.35" fill="#111"/>
<circle cx="482.4" cy="359.8" r="1.35" fill="#111"/>
<circle cx="452.2" cy="440.2" r="1.35" fill="#111"/>
<circle cx="455.4" cy="437.8" r="1.35" fill="#111"/>
<circle cx="458.8" cy="440.2" r="1.35" fill="#111"/>
<text x="455.3" y="452.3" style="font-size:6.3px;font-weight:bold;" fill="#000" text-anchor="middle">Immune</text>
<text x="479.6" y="452.3" style="font-size:6.3px;font-weight:bold;" fill="#000" text-anchor="middle">Tumor</text>
<text x="419.1" y="397" style="font-size:7.4px;font-weight:bold;" fill="#000" text-anchor="middle" transform="rotate(-90 419.1 397)">% of total B7-H4+ cells</text>
</g>
</svg>
</body></html>
